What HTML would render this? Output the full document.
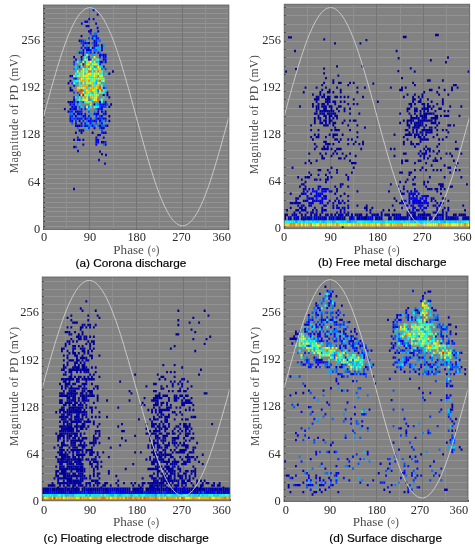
<!DOCTYPE html><html><head><meta charset="utf-8"><style>html,body{margin:0;padding:0;background:#fff;width:475px;height:550px;overflow:hidden}svg{display:block}.tk{font-family:"Liberation Serif",serif;font-size:13.4px;fill:#2a2a2a}.lb{font-family:"Liberation Serif",serif;font-size:12.4px;fill:#4a4a4a}.cp{font-family:"Liberation Sans",sans-serif;font-size:11.8px;fill:#000;stroke:#000;stroke-width:0.18px}</style></head><body>
<svg width="475" height="550" viewBox="0 0 475 550">
<g>
<rect x="43.5" y="5.0" width="185.40" height="224.50" fill="#828282"/>
<path d="M43.5 226.5h185.4M43.5 221.5h185.4M43.5 216.5h185.4M43.5 211.5h185.4M43.5 207.5h185.4M43.5 202.5h185.4M43.5 197.5h185.4M43.5 193.5h185.4M43.5 188.5h185.4M43.5 183.5h185.4M43.5 178.5h185.4M43.5 174.5h185.4M43.5 169.5h185.4M43.5 164.5h185.4M43.5 159.5h185.4M43.5 155.5h185.4M43.5 150.5h185.4M43.5 145.5h185.4M43.5 141.5h185.4M43.5 136.5h185.4M43.5 131.5h185.4M43.5 126.5h185.4M43.5 122.5h185.4M43.5 117.5h185.4M43.5 112.5h185.4M43.5 108.5h185.4M43.5 103.5h185.4M43.5 98.5h185.4M43.5 93.5h185.4M43.5 89.5h185.4M43.5 84.5h185.4M43.5 79.5h185.4M43.5 75.5h185.4M43.5 70.5h185.4M43.5 65.5h185.4M43.5 60.5h185.4M43.5 56.5h185.4M43.5 51.5h185.4M43.5 46.5h185.4M43.5 41.5h185.4M43.5 37.5h185.4M43.5 32.5h185.4M43.5 27.5h185.4M43.5 23.5h185.4M43.5 18.5h185.4M43.5 13.5h185.4M43.5 8.5h185.4" stroke="#939393" stroke-width="1" fill="none"/>
<path d="M43.5 226.5h1.6M43.5 221.5h1.6M43.5 216.5h1.6M43.5 211.5h1.6M43.5 207.5h1.6M43.5 202.5h1.6M43.5 197.5h1.6M43.5 193.5h1.6M43.5 188.5h1.6M43.5 183.5h1.6M43.5 178.5h1.6M43.5 174.5h1.6M43.5 169.5h1.6M43.5 164.5h1.6M43.5 159.5h1.6M43.5 155.5h1.6M43.5 150.5h1.6M43.5 145.5h1.6M43.5 141.5h1.6M43.5 136.5h1.6M43.5 131.5h1.6M43.5 126.5h1.6M43.5 122.5h1.6M43.5 117.5h1.6M43.5 112.5h1.6M43.5 108.5h1.6M43.5 103.5h1.6M43.5 98.5h1.6M43.5 93.5h1.6M43.5 89.5h1.6M43.5 84.5h1.6M43.5 79.5h1.6M43.5 75.5h1.6M43.5 70.5h1.6M43.5 65.5h1.6M43.5 60.5h1.6M43.5 56.5h1.6M43.5 51.5h1.6M43.5 46.5h1.6M43.5 41.5h1.6M43.5 37.5h1.6M43.5 32.5h1.6M43.5 27.5h1.6M43.5 23.5h1.6M43.5 18.5h1.6M43.5 13.5h1.6M43.5 8.5h1.6M43.5 229.5v-1.6M66.5 229.5v-1.6M89.5 229.5v-1.6M113.5 229.5v-1.6M136.5 229.5v-1.6M159.5 229.5v-1.6M182.5 229.5v-1.6M205.5 229.5v-1.6M228.5 229.5v-1.6" stroke="#3a3a3a" stroke-width="1" fill="none"/>
<line x1="66.50" y1="5.0" x2="66.50" y2="229.5" stroke="#909090" stroke-width="1"/>
<line x1="113.50" y1="5.0" x2="113.50" y2="229.5" stroke="#909090" stroke-width="1"/>
<line x1="159.50" y1="5.0" x2="159.50" y2="229.5" stroke="#909090" stroke-width="1"/>
<line x1="205.50" y1="5.0" x2="205.50" y2="229.5" stroke="#909090" stroke-width="1"/>
<line x1="89.50" y1="5.0" x2="89.50" y2="229.5" stroke="#747474" stroke-width="1"/>
<line x1="136.50" y1="5.0" x2="136.50" y2="229.5" stroke="#747474" stroke-width="1"/>
<line x1="182.50" y1="5.0" x2="182.50" y2="229.5" stroke="#747474" stroke-width="1"/>
<path fill="#000095" d="M101.0 152.9h1.85v2.36h-1.85zM73.2 145.8h1.85v2.36h-1.85zM101.0 141.1h1.85v2.36h-1.85zM73.2 138.7h1.85v2.36h-1.85zM78.7 138.7h1.85v2.36h-1.85zM97.3 134.0h1.85v2.36h-1.85zM80.6 131.6h1.85v2.36h-1.85zM91.7 131.6h1.85v2.36h-1.85zM78.7 129.3h1.85v2.36h-1.85zM93.6 126.9h1.85v2.36h-1.85zM102.8 126.9h1.85v2.36h-1.85zM78.7 124.6h1.85v2.36h-1.85zM84.3 124.6h1.85v2.36h-1.85zM99.1 124.6h1.85v2.36h-1.85zM106.5 124.6h1.85v2.36h-1.85zM78.7 119.8h1.85v2.36h-1.85zM108.4 119.8h1.85v2.36h-1.85zM69.5 117.5h1.85v2.36h-1.85zM84.3 117.5h1.85v2.36h-1.85zM97.3 117.5h1.85v2.36h-1.85zM102.8 117.5h1.85v2.36h-1.85zM75.0 115.1h1.85v2.36h-1.85zM108.4 115.1h1.85v2.36h-1.85zM80.6 112.8h1.85v2.36h-1.85zM104.7 112.8h1.85v2.36h-1.85zM67.6 110.4h1.85v2.36h-1.85zM63.9 108.0h1.85v2.36h-1.85zM97.3 108.0h1.85v2.36h-1.85zM108.4 105.7h1.85v2.36h-1.85zM93.6 103.3h1.85v2.36h-1.85zM110.2 103.3h1.85v2.36h-1.85zM67.6 101.0h1.85v2.36h-1.85zM71.3 101.0h1.85v2.36h-1.85zM108.4 96.2h1.85v2.36h-1.85zM78.7 93.9h1.85v2.36h-1.85zM102.8 93.9h1.85v2.36h-1.85zM106.5 93.9h1.85v2.36h-1.85zM106.5 91.5h1.85v2.36h-1.85zM69.5 89.2h1.85v2.36h-1.85zM71.3 89.2h1.85v2.36h-1.85zM69.5 86.8h1.85v2.36h-1.85zM67.6 82.1h1.85v2.36h-1.85zM69.5 79.7h1.85v2.36h-1.85zM69.5 75.0h1.85v2.36h-1.85zM108.4 72.6h1.85v2.36h-1.85zM112.1 70.3h1.85v2.36h-1.85zM73.2 56.1h1.85v2.36h-1.85zM80.6 56.1h1.85v2.36h-1.85zM102.8 53.8h1.85v2.36h-1.85zM78.7 51.4h1.85v2.36h-1.85zM91.7 46.7h1.85v2.36h-1.85zM101.0 44.3h1.85v2.36h-1.85zM78.7 39.6h1.85v2.36h-1.85zM93.6 39.6h1.85v2.36h-1.85zM91.7 37.2h1.85v2.36h-1.85zM80.6 34.9h1.85v2.36h-1.85zM97.3 30.2h1.85v2.36h-1.85z"/>
<path fill="#0000aa" d="M99.1 150.5h1.85v2.36h-1.85zM104.7 143.4h1.85v2.36h-1.85zM101.0 110.4h1.85v2.36h-1.85zM73.2 108.0h1.85v2.36h-1.85zM75.0 105.7h1.85v2.36h-1.85zM73.2 98.6h1.85v2.36h-1.85zM101.0 60.8h1.85v2.36h-1.85zM86.1 49.0h1.85v2.36h-1.85zM101.0 46.7h1.85v2.36h-1.85zM95.4 44.3h1.85v2.36h-1.85zM88.0 42.0h1.85v2.36h-1.85zM88.0 30.2h1.85v2.36h-1.85zM73.1 187.8h1.85v2.36h-1.85z"/>
<path fill="#002aff" d="M75.0 145.8h1.85v2.36h-1.85zM104.7 141.1h1.85v2.36h-1.85zM101.0 131.6h1.85v2.36h-1.85zM88.0 126.9h1.85v2.36h-1.85zM75.0 119.8h1.85v2.36h-1.85zM82.4 119.8h1.85v2.36h-1.85zM91.7 119.8h1.85v2.36h-1.85zM95.4 119.8h1.85v2.36h-1.85zM86.1 117.5h1.85v2.36h-1.85zM95.4 117.5h1.85v2.36h-1.85zM69.5 115.1h1.85v2.36h-1.85zM69.5 110.4h1.85v2.36h-1.85zM71.3 110.4h1.85v2.36h-1.85zM71.3 108.0h1.85v2.36h-1.85zM84.3 108.0h1.85v2.36h-1.85zM99.1 108.0h1.85v2.36h-1.85zM73.2 105.7h1.85v2.36h-1.85zM99.1 105.7h1.85v2.36h-1.85zM101.0 103.3h1.85v2.36h-1.85zM73.2 77.4h1.85v2.36h-1.85zM73.2 60.8h1.85v2.36h-1.85zM89.8 58.5h1.85v2.36h-1.85zM88.0 56.1h1.85v2.36h-1.85zM99.1 56.1h1.85v2.36h-1.85zM101.0 53.8h1.85v2.36h-1.85zM80.6 51.4h1.85v2.36h-1.85zM86.1 46.7h1.85v2.36h-1.85zM93.6 46.7h1.85v2.36h-1.85zM82.4 42.0h1.85v2.36h-1.85zM86.1 42.0h1.85v2.36h-1.85zM95.4 39.6h1.85v2.36h-1.85zM89.8 32.5h1.85v2.36h-1.85z"/>
<path fill="#0000bf" d="M82.4 143.4h1.85v2.36h-1.85zM95.4 136.4h1.85v2.36h-1.85zM75.0 131.6h1.85v2.36h-1.85zM104.7 131.6h1.85v2.36h-1.85zM101.0 126.9h1.85v2.36h-1.85zM89.8 117.5h1.85v2.36h-1.85zM76.9 110.4h1.85v2.36h-1.85zM104.7 110.4h1.85v2.36h-1.85zM69.5 108.0h1.85v2.36h-1.85zM69.5 101.0h1.85v2.36h-1.85zM104.7 60.8h1.85v2.36h-1.85zM80.6 58.5h1.85v2.36h-1.85zM102.8 58.5h1.85v2.36h-1.85zM82.4 53.8h1.85v2.36h-1.85zM101.0 49.0h1.85v2.36h-1.85zM104.1 162.5h1.85v2.36h-1.85zM77.1 149.8h1.85v2.36h-1.85zM105.1 153.8h1.85v2.36h-1.85zM98.1 158.8h1.85v2.36h-1.85z"/>
<path fill="#0000ff" d="M95.4 143.4h1.85v2.36h-1.85zM76.9 138.7h1.85v2.36h-1.85zM95.4 138.7h1.85v2.36h-1.85zM97.3 138.7h1.85v2.36h-1.85zM89.8 122.2h1.85v2.36h-1.85zM71.3 119.8h1.85v2.36h-1.85zM88.0 119.8h1.85v2.36h-1.85zM76.9 117.5h1.85v2.36h-1.85zM104.7 117.5h1.85v2.36h-1.85zM84.3 115.1h1.85v2.36h-1.85zM76.9 112.8h1.85v2.36h-1.85zM78.7 112.8h1.85v2.36h-1.85zM95.4 112.8h1.85v2.36h-1.85zM97.3 112.8h1.85v2.36h-1.85zM75.0 108.0h1.85v2.36h-1.85zM101.0 105.7h1.85v2.36h-1.85zM73.2 103.3h1.85v2.36h-1.85zM104.7 103.3h1.85v2.36h-1.85zM104.7 101.0h1.85v2.36h-1.85zM73.2 84.4h1.85v2.36h-1.85zM71.3 75.0h1.85v2.36h-1.85zM78.7 65.6h1.85v2.36h-1.85zM99.1 60.8h1.85v2.36h-1.85zM75.0 58.5h1.85v2.36h-1.85zM88.0 58.5h1.85v2.36h-1.85zM104.7 58.5h1.85v2.36h-1.85zM102.8 56.1h1.85v2.36h-1.85zM89.8 49.0h1.85v2.36h-1.85zM89.8 30.2h1.85v2.36h-1.85z"/>
<path fill="#0080ff" d="M102.8 143.4h1.85v2.36h-1.85zM82.4 124.6h1.85v2.36h-1.85zM89.8 124.6h1.85v2.36h-1.85zM91.7 122.2h1.85v2.36h-1.85zM82.4 117.5h1.85v2.36h-1.85zM76.9 115.1h1.85v2.36h-1.85zM71.3 112.8h1.85v2.36h-1.85zM93.6 110.4h1.85v2.36h-1.85zM95.4 108.0h1.85v2.36h-1.85zM88.0 105.7h1.85v2.36h-1.85zM76.9 103.3h1.85v2.36h-1.85zM75.0 101.0h1.85v2.36h-1.85zM104.7 86.8h1.85v2.36h-1.85zM73.2 67.9h1.85v2.36h-1.85zM101.0 67.9h1.85v2.36h-1.85zM80.6 60.8h1.85v2.36h-1.85zM84.3 60.8h1.85v2.36h-1.85zM88.0 51.4h1.85v2.36h-1.85zM86.1 44.3h1.85v2.36h-1.85zM97.3 39.6h1.85v2.36h-1.85z"/>
<path fill="#0000ea" d="M95.4 141.1h1.85v2.36h-1.85zM99.1 134.0h1.85v2.36h-1.85zM102.8 131.6h1.85v2.36h-1.85zM82.4 129.3h1.85v2.36h-1.85zM91.7 124.6h1.85v2.36h-1.85zM75.0 122.2h1.85v2.36h-1.85zM99.1 119.8h1.85v2.36h-1.85zM82.4 115.1h1.85v2.36h-1.85zM101.0 115.1h1.85v2.36h-1.85zM93.6 112.8h1.85v2.36h-1.85zM97.3 110.4h1.85v2.36h-1.85zM101.0 108.0h1.85v2.36h-1.85zM69.5 103.3h1.85v2.36h-1.85zM76.9 101.0h1.85v2.36h-1.85zM99.1 101.0h1.85v2.36h-1.85zM75.0 77.4h1.85v2.36h-1.85zM104.7 53.8h1.85v2.36h-1.85zM82.4 51.4h1.85v2.36h-1.85zM82.4 49.0h1.85v2.36h-1.85zM93.6 44.3h1.85v2.36h-1.85zM84.3 42.0h1.85v2.36h-1.85zM95.4 34.9h1.85v2.36h-1.85zM92.7 8.8h1.85v2.36h-1.85zM96.7 13.5h1.85v2.36h-1.85zM86.3 20.6h1.85v2.36h-1.85zM96.7 26.8h1.85v2.36h-1.85z"/>
<path fill="#0000d4" d="M97.3 141.1h1.85v2.36h-1.85zM102.8 141.1h1.85v2.36h-1.85zM82.4 138.7h1.85v2.36h-1.85zM102.8 136.4h1.85v2.36h-1.85zM80.6 129.3h1.85v2.36h-1.85zM75.0 124.6h1.85v2.36h-1.85zM76.9 124.6h1.85v2.36h-1.85zM80.6 122.2h1.85v2.36h-1.85zM101.0 122.2h1.85v2.36h-1.85zM93.6 119.8h1.85v2.36h-1.85zM73.2 112.8h1.85v2.36h-1.85zM75.0 110.4h1.85v2.36h-1.85zM71.3 105.7h1.85v2.36h-1.85zM102.8 103.3h1.85v2.36h-1.85zM102.8 65.6h1.85v2.36h-1.85zM99.1 63.2h1.85v2.36h-1.85zM99.1 53.8h1.85v2.36h-1.85zM93.6 51.4h1.85v2.36h-1.85zM88.0 49.0h1.85v2.36h-1.85zM88.0 46.7h1.85v2.36h-1.85zM95.4 42.0h1.85v2.36h-1.85zM95.4 37.2h1.85v2.36h-1.85zM88.3 18.0h1.85v2.36h-1.85zM92.7 18.0h1.85v2.36h-1.85zM84.4 20.6h1.85v2.36h-1.85zM80.9 22.4h1.85v2.36h-1.85zM95.2 22.4h1.85v2.36h-1.85zM85.6 25.0h1.85v2.36h-1.85zM87.5 25.0h1.85v2.36h-1.85zM90.1 29.0h1.85v2.36h-1.85z"/>
<path fill="#0015ff" d="M76.9 136.4h1.85v2.36h-1.85zM80.6 124.6h1.85v2.36h-1.85zM86.1 124.6h1.85v2.36h-1.85zM104.7 124.6h1.85v2.36h-1.85zM84.3 122.2h1.85v2.36h-1.85zM69.5 119.8h1.85v2.36h-1.85zM89.8 119.8h1.85v2.36h-1.85zM78.7 117.5h1.85v2.36h-1.85zM80.6 117.5h1.85v2.36h-1.85zM99.1 117.5h1.85v2.36h-1.85zM71.3 115.1h1.85v2.36h-1.85zM88.0 115.1h1.85v2.36h-1.85zM95.4 115.1h1.85v2.36h-1.85zM84.3 112.8h1.85v2.36h-1.85zM102.8 112.8h1.85v2.36h-1.85zM78.7 110.4h1.85v2.36h-1.85zM80.6 110.4h1.85v2.36h-1.85zM80.6 108.0h1.85v2.36h-1.85zM99.1 103.3h1.85v2.36h-1.85zM73.2 101.0h1.85v2.36h-1.85zM73.2 96.2h1.85v2.36h-1.85zM102.8 86.8h1.85v2.36h-1.85zM104.7 56.1h1.85v2.36h-1.85zM89.8 51.4h1.85v2.36h-1.85zM97.3 51.4h1.85v2.36h-1.85zM80.6 46.7h1.85v2.36h-1.85zM84.3 46.7h1.85v2.36h-1.85zM82.4 44.3h1.85v2.36h-1.85zM93.6 42.0h1.85v2.36h-1.85zM80.6 39.6h1.85v2.36h-1.85zM97.3 37.2h1.85v2.36h-1.85z"/>
<path fill="#0040ff" d="M101.0 129.3h1.85v2.36h-1.85zM99.1 126.9h1.85v2.36h-1.85zM95.4 122.2h1.85v2.36h-1.85zM104.7 119.8h1.85v2.36h-1.85zM73.2 117.5h1.85v2.36h-1.85zM75.0 117.5h1.85v2.36h-1.85zM101.0 117.5h1.85v2.36h-1.85zM99.1 115.1h1.85v2.36h-1.85zM102.8 105.7h1.85v2.36h-1.85zM104.7 105.7h1.85v2.36h-1.85zM71.3 103.3h1.85v2.36h-1.85zM82.4 101.0h1.85v2.36h-1.85zM73.2 91.5h1.85v2.36h-1.85zM76.9 91.5h1.85v2.36h-1.85zM71.3 82.1h1.85v2.36h-1.85zM104.7 67.9h1.85v2.36h-1.85zM73.2 63.2h1.85v2.36h-1.85zM86.1 51.4h1.85v2.36h-1.85zM97.3 44.3h1.85v2.36h-1.85zM80.6 42.0h1.85v2.36h-1.85zM82.4 39.6h1.85v2.36h-1.85zM88.0 37.2h1.85v2.36h-1.85zM91.7 34.9h1.85v2.36h-1.85zM93.6 34.9h1.85v2.36h-1.85z"/>
<path fill="#006aff" d="M76.9 126.9h1.85v2.36h-1.85zM88.0 124.6h1.85v2.36h-1.85zM93.6 124.6h1.85v2.36h-1.85zM97.3 124.6h1.85v2.36h-1.85zM102.8 124.6h1.85v2.36h-1.85zM99.1 122.2h1.85v2.36h-1.85zM86.1 119.8h1.85v2.36h-1.85zM101.0 119.8h1.85v2.36h-1.85zM88.0 117.5h1.85v2.36h-1.85zM80.6 115.1h1.85v2.36h-1.85zM69.5 112.8h1.85v2.36h-1.85zM102.8 110.4h1.85v2.36h-1.85zM78.7 108.0h1.85v2.36h-1.85zM84.3 105.7h1.85v2.36h-1.85zM102.8 101.0h1.85v2.36h-1.85zM97.3 89.2h1.85v2.36h-1.85zM102.8 60.8h1.85v2.36h-1.85zM99.1 51.4h1.85v2.36h-1.85zM93.6 49.0h1.85v2.36h-1.85zM84.3 39.6h1.85v2.36h-1.85zM99.1 39.6h1.85v2.36h-1.85zM93.6 32.5h1.85v2.36h-1.85zM95.4 32.5h1.85v2.36h-1.85z"/>
<path fill="#00bfff" d="M86.1 126.9h1.85v2.36h-1.85zM95.4 103.3h1.85v2.36h-1.85zM95.4 101.0h1.85v2.36h-1.85zM99.1 98.6h1.85v2.36h-1.85zM75.0 82.1h1.85v2.36h-1.85zM102.8 82.1h1.85v2.36h-1.85zM95.4 79.7h1.85v2.36h-1.85zM75.0 70.3h1.85v2.36h-1.85zM75.0 67.9h1.85v2.36h-1.85zM101.0 65.6h1.85v2.36h-1.85zM95.4 46.7h1.85v2.36h-1.85zM93.6 37.2h1.85v2.36h-1.85z"/>
<path fill="#0055ff" d="M101.0 124.6h1.85v2.36h-1.85zM71.3 122.2h1.85v2.36h-1.85zM71.3 117.5h1.85v2.36h-1.85zM88.0 110.4h1.85v2.36h-1.85zM78.7 105.7h1.85v2.36h-1.85zM106.5 103.3h1.85v2.36h-1.85zM95.4 49.0h1.85v2.36h-1.85zM91.7 42.0h1.85v2.36h-1.85z"/>
<path fill="#0095ff" d="M86.1 122.2h1.85v2.36h-1.85zM102.8 119.8h1.85v2.36h-1.85zM89.8 112.8h1.85v2.36h-1.85zM97.3 103.3h1.85v2.36h-1.85zM80.6 101.0h1.85v2.36h-1.85zM76.9 77.4h1.85v2.36h-1.85zM76.9 65.6h1.85v2.36h-1.85zM93.6 65.6h1.85v2.36h-1.85zM91.7 53.8h1.85v2.36h-1.85zM76.9 51.4h1.85v2.36h-1.85zM80.6 49.0h1.85v2.36h-1.85zM102.8 44.3h1.85v2.36h-1.85z"/>
<path fill="#00aaff" d="M93.6 115.1h1.85v2.36h-1.85zM89.8 98.6h1.85v2.36h-1.85zM76.9 93.9h1.85v2.36h-1.85zM104.7 84.4h1.85v2.36h-1.85zM95.4 82.1h1.85v2.36h-1.85zM78.7 58.5h1.85v2.36h-1.85zM84.3 53.8h1.85v2.36h-1.85zM93.6 53.8h1.85v2.36h-1.85zM97.3 46.7h1.85v2.36h-1.85zM99.1 46.7h1.85v2.36h-1.85zM90.8 6.4h1.85v2.36h-1.85z"/>
<path fill="#00d4ff" d="M88.0 108.0h1.85v2.36h-1.85zM80.6 105.7h1.85v2.36h-1.85zM78.7 103.3h1.85v2.36h-1.85zM76.9 98.6h1.85v2.36h-1.85zM80.6 98.6h1.85v2.36h-1.85zM84.3 91.5h1.85v2.36h-1.85zM73.2 79.7h1.85v2.36h-1.85zM76.9 72.6h1.85v2.36h-1.85zM84.3 72.6h1.85v2.36h-1.85zM104.7 72.6h1.85v2.36h-1.85zM91.7 67.9h1.85v2.36h-1.85zM75.0 65.6h1.85v2.36h-1.85zM78.7 63.2h1.85v2.36h-1.85zM89.8 63.2h1.85v2.36h-1.85zM91.7 60.8h1.85v2.36h-1.85zM97.3 60.8h1.85v2.36h-1.85zM89.8 46.7h1.85v2.36h-1.85z"/>
<path fill="#d5ff2a" d="M86.1 105.7h1.85v2.36h-1.85zM80.6 93.9h1.85v2.36h-1.85zM93.6 91.5h1.85v2.36h-1.85zM82.4 82.1h1.85v2.36h-1.85zM97.3 72.6h1.85v2.36h-1.85zM82.4 70.3h1.85v2.36h-1.85zM86.1 63.2h1.85v2.36h-1.85zM88.0 63.2h1.85v2.36h-1.85zM91.7 63.2h1.85v2.36h-1.85z"/>
<path fill="#00ffff" d="M89.8 105.7h1.85v2.36h-1.85zM95.4 105.7h1.85v2.36h-1.85zM91.7 98.6h1.85v2.36h-1.85zM101.0 91.5h1.85v2.36h-1.85zM102.8 91.5h1.85v2.36h-1.85zM101.0 86.8h1.85v2.36h-1.85zM93.6 84.4h1.85v2.36h-1.85zM93.6 82.1h1.85v2.36h-1.85zM75.0 79.7h1.85v2.36h-1.85zM76.9 79.7h1.85v2.36h-1.85zM84.3 67.9h1.85v2.36h-1.85zM86.1 67.9h1.85v2.36h-1.85zM95.4 67.9h1.85v2.36h-1.85z"/>
<path fill="#55ffaa" d="M93.6 105.7h1.85v2.36h-1.85zM88.0 101.0h1.85v2.36h-1.85zM101.0 84.4h1.85v2.36h-1.85zM73.2 82.1h1.85v2.36h-1.85zM99.1 82.1h1.85v2.36h-1.85zM89.8 77.4h1.85v2.36h-1.85zM101.0 77.4h1.85v2.36h-1.85zM91.7 75.0h1.85v2.36h-1.85zM91.7 65.6h1.85v2.36h-1.85zM86.1 60.8h1.85v2.36h-1.85zM86.1 58.5h1.85v2.36h-1.85z"/>
<path fill="#00eaff" d="M97.3 105.7h1.85v2.36h-1.85zM75.0 96.2h1.85v2.36h-1.85zM102.8 96.2h1.85v2.36h-1.85zM104.7 89.2h1.85v2.36h-1.85zM88.0 86.8h1.85v2.36h-1.85zM84.3 82.1h1.85v2.36h-1.85zM75.0 75.0h1.85v2.36h-1.85zM99.1 65.6h1.85v2.36h-1.85z"/>
<path fill="#95ff6a" d="M89.8 103.3h1.85v2.36h-1.85zM93.6 96.2h1.85v2.36h-1.85zM86.1 93.9h1.85v2.36h-1.85zM99.1 91.5h1.85v2.36h-1.85zM78.7 86.8h1.85v2.36h-1.85zM82.4 77.4h1.85v2.36h-1.85zM93.6 77.4h1.85v2.36h-1.85zM99.1 67.9h1.85v2.36h-1.85zM82.4 60.8h1.85v2.36h-1.85zM84.3 58.5h1.85v2.36h-1.85z"/>
<path fill="#15ffea" d="M84.3 101.0h1.85v2.36h-1.85zM78.7 96.2h1.85v2.36h-1.85zM88.0 93.9h1.85v2.36h-1.85zM89.8 91.5h1.85v2.36h-1.85zM78.7 84.4h1.85v2.36h-1.85zM78.7 82.1h1.85v2.36h-1.85zM80.6 75.0h1.85v2.36h-1.85zM75.0 72.6h1.85v2.36h-1.85zM99.1 72.6h1.85v2.36h-1.85zM101.0 72.6h1.85v2.36h-1.85zM80.6 65.6h1.85v2.36h-1.85zM97.3 63.2h1.85v2.36h-1.85zM97.3 58.5h1.85v2.36h-1.85z"/>
<path fill="#6aff95" d="M86.1 101.0h1.85v2.36h-1.85zM101.0 98.6h1.85v2.36h-1.85zM93.6 93.9h1.85v2.36h-1.85zM97.3 93.9h1.85v2.36h-1.85zM102.8 77.4h1.85v2.36h-1.85zM88.0 75.0h1.85v2.36h-1.85zM80.6 70.3h1.85v2.36h-1.85zM91.7 58.5h1.85v2.36h-1.85zM86.1 53.8h1.85v2.36h-1.85z"/>
<path fill="#ffbf00" d="M89.8 101.0h1.85v2.36h-1.85zM89.8 96.2h1.85v2.36h-1.85zM88.0 89.2h1.85v2.36h-1.85zM93.6 86.8h1.85v2.36h-1.85zM86.1 84.4h1.85v2.36h-1.85zM95.4 84.4h1.85v2.36h-1.85zM97.3 84.4h1.85v2.36h-1.85zM91.7 82.1h1.85v2.36h-1.85zM80.6 79.7h1.85v2.36h-1.85zM95.4 75.0h1.85v2.36h-1.85zM99.1 70.3h1.85v2.36h-1.85zM97.3 67.9h1.85v2.36h-1.85zM88.0 60.8h1.85v2.36h-1.85z"/>
<path fill="#2bffd4" d="M101.0 101.0h1.85v2.36h-1.85zM91.7 93.9h1.85v2.36h-1.85zM84.3 89.2h1.85v2.36h-1.85zM95.4 89.2h1.85v2.36h-1.85zM80.6 84.4h1.85v2.36h-1.85zM80.6 72.6h1.85v2.36h-1.85zM84.3 70.3h1.85v2.36h-1.85zM91.7 70.3h1.85v2.36h-1.85zM101.0 70.3h1.85v2.36h-1.85zM76.9 60.8h1.85v2.36h-1.85zM95.4 58.5h1.85v2.36h-1.85z"/>
<path fill="#40ffbf" d="M78.7 98.6h1.85v2.36h-1.85zM82.4 96.2h1.85v2.36h-1.85zM102.8 89.2h1.85v2.36h-1.85zM84.3 86.8h1.85v2.36h-1.85zM89.8 79.7h1.85v2.36h-1.85zM101.0 79.7h1.85v2.36h-1.85zM84.3 77.4h1.85v2.36h-1.85zM95.4 77.4h1.85v2.36h-1.85zM89.8 75.0h1.85v2.36h-1.85zM91.7 72.6h1.85v2.36h-1.85zM84.3 56.1h1.85v2.36h-1.85z"/>
<path fill="#eaff15" d="M82.4 98.6h1.85v2.36h-1.85zM86.1 89.2h1.85v2.36h-1.85zM82.4 86.8h1.85v2.36h-1.85zM86.1 77.4h1.85v2.36h-1.85zM88.0 77.4h1.85v2.36h-1.85zM82.4 75.0h1.85v2.36h-1.85zM93.6 75.0h1.85v2.36h-1.85zM88.0 72.6h1.85v2.36h-1.85zM93.6 72.6h1.85v2.36h-1.85zM82.4 67.9h1.85v2.36h-1.85zM93.6 56.1h1.85v2.36h-1.85z"/>
<path fill="#bfff40" d="M84.3 98.6h1.85v2.36h-1.85zM86.1 98.6h1.85v2.36h-1.85zM86.1 96.2h1.85v2.36h-1.85zM95.4 93.9h1.85v2.36h-1.85zM91.7 89.2h1.85v2.36h-1.85zM93.6 89.2h1.85v2.36h-1.85zM89.8 82.1h1.85v2.36h-1.85zM97.3 82.1h1.85v2.36h-1.85zM102.8 79.7h1.85v2.36h-1.85zM84.3 75.0h1.85v2.36h-1.85zM76.9 70.3h1.85v2.36h-1.85zM93.6 63.2h1.85v2.36h-1.85zM95.4 63.2h1.85v2.36h-1.85z"/>
<path fill="#ffff00" d="M93.6 98.6h1.85v2.36h-1.85zM95.4 96.2h1.85v2.36h-1.85zM80.6 77.4h1.85v2.36h-1.85zM101.0 75.0h1.85v2.36h-1.85zM89.8 67.9h1.85v2.36h-1.85zM97.3 65.6h1.85v2.36h-1.85zM89.8 60.8h1.85v2.36h-1.85z"/>
<path fill="#ffea00" d="M95.4 98.6h1.85v2.36h-1.85zM82.4 91.5h1.85v2.36h-1.85zM99.1 89.2h1.85v2.36h-1.85zM86.1 75.0h1.85v2.36h-1.85zM82.4 72.6h1.85v2.36h-1.85zM89.8 72.6h1.85v2.36h-1.85z"/>
<path fill="#ff5500" d="M97.3 98.6h1.85v2.36h-1.85zM78.7 91.5h1.85v2.36h-1.85zM101.0 89.2h1.85v2.36h-1.85z"/>
<path fill="#ff9500" d="M84.3 96.2h1.85v2.36h-1.85zM76.9 89.2h1.85v2.36h-1.85zM89.8 89.2h1.85v2.36h-1.85zM86.1 86.8h1.85v2.36h-1.85zM97.3 86.8h1.85v2.36h-1.85zM88.0 79.7h1.85v2.36h-1.85zM97.3 79.7h1.85v2.36h-1.85zM78.7 77.4h1.85v2.36h-1.85z"/>
<path fill="#ffd500" d="M91.7 96.2h1.85v2.36h-1.85zM86.1 91.5h1.85v2.36h-1.85zM76.9 86.8h1.85v2.36h-1.85zM80.6 86.8h1.85v2.36h-1.85zM89.8 86.8h1.85v2.36h-1.85zM78.7 79.7h1.85v2.36h-1.85zM99.1 77.4h1.85v2.36h-1.85zM78.7 75.0h1.85v2.36h-1.85zM86.1 72.6h1.85v2.36h-1.85zM95.4 70.3h1.85v2.36h-1.85zM89.8 65.6h1.85v2.36h-1.85z"/>
<path fill="#ea0000" d="M82.4 93.9h1.85v2.36h-1.85z"/>
<path fill="#aaff55" d="M84.3 93.9h1.85v2.36h-1.85zM89.8 93.9h1.85v2.36h-1.85zM88.0 91.5h1.85v2.36h-1.85zM95.4 86.8h1.85v2.36h-1.85zM91.7 84.4h1.85v2.36h-1.85zM86.1 82.1h1.85v2.36h-1.85zM93.6 79.7h1.85v2.36h-1.85zM76.9 75.0h1.85v2.36h-1.85zM99.1 75.0h1.85v2.36h-1.85zM93.6 67.9h1.85v2.36h-1.85zM93.6 60.8h1.85v2.36h-1.85z"/>
<path fill="#80ff80" d="M95.4 91.5h1.85v2.36h-1.85zM88.0 82.1h1.85v2.36h-1.85zM86.1 79.7h1.85v2.36h-1.85zM91.7 79.7h1.85v2.36h-1.85zM91.7 77.4h1.85v2.36h-1.85zM97.3 77.4h1.85v2.36h-1.85zM73.2 75.0h1.85v2.36h-1.85zM78.7 72.6h1.85v2.36h-1.85zM95.4 72.6h1.85v2.36h-1.85zM86.1 70.3h1.85v2.36h-1.85zM88.0 67.9h1.85v2.36h-1.85zM80.6 63.2h1.85v2.36h-1.85z"/>
<path fill="#ff2a00" d="M80.6 89.2h1.85v2.36h-1.85z"/>
<path fill="#ffaa00" d="M91.7 86.8h1.85v2.36h-1.85zM82.4 84.4h1.85v2.36h-1.85zM84.3 84.4h1.85v2.36h-1.85zM82.4 79.7h1.85v2.36h-1.85zM84.3 79.7h1.85v2.36h-1.85zM86.1 65.6h1.85v2.36h-1.85z"/>
<path fill="#ff4000" d="M99.1 86.8h1.85v2.36h-1.85z"/>
<path fill="#ff6a00" d="M88.0 70.3h1.85v2.36h-1.85zM95.4 65.6h1.85v2.36h-1.85z"/>
<path fill="#800000" d="M82.4 63.2h1.85v2.36h-1.85z"/>
<polyline points="43.5,116.8 45.0,111.0 46.6,105.4 48.1,99.7 49.7,94.1 51.2,88.5 52.8,83.1 54.3,77.7 55.9,72.4 57.4,67.2 59.0,62.2 60.5,57.4 62.0,52.7 63.6,48.1 65.1,43.8 66.7,39.6 68.2,35.7 69.8,32.0 71.3,28.5 72.9,25.3 74.4,22.3 75.9,19.6 77.5,17.1 79.0,14.9 80.6,13.0 82.1,11.4 83.7,10.1 85.2,9.0 86.8,8.3 88.3,7.8 89.8,7.7 91.4,7.8 92.9,8.3 94.5,9.0 96.0,10.1 97.6,11.4 99.1,13.0 100.7,14.9 102.2,17.1 103.8,19.6 105.3,22.3 106.8,25.3 108.4,28.5 109.9,32.0 111.5,35.7 113.0,39.6 114.6,43.8 116.1,48.1 117.7,52.7 119.2,57.4 120.8,62.2 122.3,67.2 123.8,72.4 125.4,77.7 126.9,83.1 128.5,88.5 130.0,94.1 131.6,99.7 133.1,105.4 134.7,111.0 136.2,116.7 137.7,122.5 139.3,128.1 140.8,133.8 142.4,139.4 143.9,145.0 145.5,150.4 147.0,155.8 148.6,161.1 150.1,166.3 151.7,171.3 153.2,176.1 154.7,180.8 156.3,185.4 157.8,189.7 159.4,193.9 160.9,197.8 162.5,201.5 164.0,205.0 165.6,208.2 167.1,211.2 168.6,213.9 170.2,216.4 171.7,218.6 173.3,220.5 174.8,222.1 176.4,223.4 177.9,224.5 179.5,225.2 181.0,225.7 182.6,225.8 184.1,225.7 185.6,225.2 187.2,224.5 188.7,223.4 190.3,222.1 191.8,220.5 193.4,218.6 194.9,216.4 196.5,213.9 198.0,211.2 199.5,208.2 201.1,205.0 202.6,201.5 204.2,197.8 205.7,193.9 207.3,189.7 208.8,185.4 210.4,180.8 211.9,176.1 213.4,171.3 215.0,166.3 216.5,161.1 218.1,155.8 219.6,150.4 221.2,145.0 222.7,139.4 224.3,133.8 225.8,128.1 227.4,122.5 228.9,116.8" fill="none" stroke="#cbcbcb" stroke-width="0.95"/>
<rect x="43.5" y="5.0" width="185.40" height="224.50" fill="none" stroke="#5a5a5a" stroke-width="0.8"/>
</g>
<text class="tk" x="34.0" y="232.8" textLength="6.2" lengthAdjust="spacingAndGlyphs">0</text>
<text class="tk" x="27.8" y="185.6" textLength="12.4" lengthAdjust="spacingAndGlyphs">64</text>
<text class="tk" x="21.6" y="138.4" textLength="18.6" lengthAdjust="spacingAndGlyphs">128</text>
<text class="tk" x="21.6" y="91.2" textLength="18.6" lengthAdjust="spacingAndGlyphs">192</text>
<text class="tk" x="21.6" y="44.0" textLength="18.6" lengthAdjust="spacingAndGlyphs">256</text>
<text class="tk" x="40.9" y="241.1" textLength="6.2" lengthAdjust="spacingAndGlyphs">0</text>
<text class="tk" x="83.7" y="241.1" textLength="12.4" lengthAdjust="spacingAndGlyphs">90</text>
<text class="tk" x="127.4" y="241.1" textLength="18.6" lengthAdjust="spacingAndGlyphs">180</text>
<text class="tk" x="172.2" y="241.1" textLength="18.6" lengthAdjust="spacingAndGlyphs">270</text>
<text class="tk" x="212.4" y="241.1" textLength="18.6" lengthAdjust="spacingAndGlyphs">360</text>
<text class="lb" style="font-size:11.6px" transform="translate(18.0,113.8) rotate(-90)" text-anchor="middle" textLength="119" lengthAdjust="spacing">Magnitude of PD (mV)</text>
<text class="lb" x="113.3" y="253.6" textLength="30.6" lengthAdjust="spacingAndGlyphs">Phase</text>
<text class="lb" x="147.8" y="253.6" textLength="11.6" lengthAdjust="spacingAndGlyphs">(<tspan dy="2.6">°</tspan><tspan dy="-2.6">)</tspan></text>
<text class="cp" x="131.0" y="266.9" text-anchor="middle">(a) Corona discharge</text>
<g>
<rect x="284.2" y="4.2" width="185.50" height="224.50" fill="#828282"/>
<path d="M284.2 226.5h185.5M284.2 217.5h185.5M284.2 209.5h185.5M284.2 200.5h185.5M284.2 192.5h185.5M284.2 183.5h185.5M284.2 175.5h185.5M284.2 167.5h185.5M284.2 158.5h185.5M284.2 150.5h185.5M284.2 141.5h185.5M284.2 133.5h185.5M284.2 125.5h185.5M284.2 116.5h185.5M284.2 108.5h185.5M284.2 99.5h185.5M284.2 91.5h185.5M284.2 83.5h185.5M284.2 74.5h185.5M284.2 66.5h185.5M284.2 57.5h185.5M284.2 49.5h185.5M284.2 41.5h185.5M284.2 32.5h185.5M284.2 24.5h185.5M284.2 15.5h185.5M284.2 7.5h185.5" stroke="#939393" stroke-width="1" fill="none"/>
<path d="M284.2 226.5h1.6M284.2 217.5h1.6M284.2 209.5h1.6M284.2 200.5h1.6M284.2 192.5h1.6M284.2 183.5h1.6M284.2 175.5h1.6M284.2 167.5h1.6M284.2 158.5h1.6M284.2 150.5h1.6M284.2 141.5h1.6M284.2 133.5h1.6M284.2 125.5h1.6M284.2 116.5h1.6M284.2 108.5h1.6M284.2 99.5h1.6M284.2 91.5h1.6M284.2 83.5h1.6M284.2 74.5h1.6M284.2 66.5h1.6M284.2 57.5h1.6M284.2 49.5h1.6M284.2 41.5h1.6M284.2 32.5h1.6M284.2 24.5h1.6M284.2 15.5h1.6M284.2 7.5h1.6M284.5 228.7v-1.6M307.5 228.7v-1.6M330.5 228.7v-1.6M353.5 228.7v-1.6M376.5 228.7v-1.6M400.5 228.7v-1.6M423.5 228.7v-1.6M446.5 228.7v-1.6M469.5 228.7v-1.6" stroke="#3a3a3a" stroke-width="1" fill="none"/>
<line x1="307.50" y1="4.2" x2="307.50" y2="228.7" stroke="#909090" stroke-width="1"/>
<line x1="353.50" y1="4.2" x2="353.50" y2="228.7" stroke="#909090" stroke-width="1"/>
<line x1="400.50" y1="4.2" x2="400.50" y2="228.7" stroke="#909090" stroke-width="1"/>
<line x1="446.50" y1="4.2" x2="446.50" y2="228.7" stroke="#909090" stroke-width="1"/>
<line x1="330.50" y1="4.2" x2="330.50" y2="228.7" stroke="#747474" stroke-width="1"/>
<line x1="376.50" y1="4.2" x2="376.50" y2="228.7" stroke="#747474" stroke-width="1"/>
<line x1="423.50" y1="4.2" x2="423.50" y2="228.7" stroke="#747474" stroke-width="1"/>
<path fill="#000080" d="M341.7 225.6h1.85v2.36h-1.85zM306.5 223.3h1.85v2.36h-1.85zM291.6 220.9h1.85v2.36h-1.85zM302.8 218.6h1.85v2.36h-1.85zM312.0 218.6h1.85v2.36h-1.85zM297.2 216.2h1.85v2.36h-1.85zM336.1 216.2h1.85v2.36h-1.85zM351.0 216.2h1.85v2.36h-1.85zM395.5 216.2h1.85v2.36h-1.85zM402.9 140.7h1.85v2.36h-1.85zM454.9 84.0h1.85v2.36h-1.85zM325.0 77.0h1.85v2.36h-1.85zM401.1 77.0h1.85v2.36h-1.85zM323.2 72.2h1.85v2.36h-1.85zM397.4 69.9h1.85v2.36h-1.85zM323.2 67.5h1.85v2.36h-1.85zM336.1 65.2h1.85v2.36h-1.85zM284.2 213.4h1.85v2.80h-1.85zM300.9 213.4h1.85v2.80h-1.85zM310.2 213.4h1.85v2.80h-1.85zM319.4 213.4h1.85v2.80h-1.85zM330.6 213.4h1.85v2.80h-1.85zM334.3 213.4h1.85v2.80h-1.85zM345.4 213.4h1.85v2.80h-1.85zM351.0 213.4h1.85v2.80h-1.85zM354.7 213.4h1.85v2.80h-1.85zM365.8 213.4h1.85v2.80h-1.85zM384.4 213.4h1.85v2.80h-1.85zM395.5 213.4h1.85v2.80h-1.85zM414.0 213.4h1.85v2.80h-1.85zM421.5 213.4h1.85v2.80h-1.85zM436.3 213.4h1.85v2.80h-1.85zM453.0 213.4h1.85v2.80h-1.85zM460.4 213.4h1.85v2.80h-1.85zM284.2 216.2h1.85v4.30h-1.85zM289.8 216.2h1.85v4.30h-1.85zM304.6 216.2h1.85v4.30h-1.85zM317.6 216.2h1.85v4.30h-1.85zM332.4 216.2h1.85v4.30h-1.85zM336.1 216.2h1.85v4.30h-1.85zM343.6 216.2h1.85v4.30h-1.85zM364.0 216.2h1.85v4.30h-1.85zM365.8 216.2h1.85v4.30h-1.85zM375.1 216.2h1.85v4.30h-1.85zM378.8 216.2h1.85v4.30h-1.85zM388.1 216.2h1.85v4.30h-1.85zM414.0 216.2h1.85v4.30h-1.85zM425.2 216.2h1.85v4.30h-1.85zM434.5 216.2h1.85v4.30h-1.85z"/>
<path fill="#000095" d="M406.6 216.2h1.85v2.36h-1.85zM412.2 216.2h1.85v2.36h-1.85zM417.8 216.2h1.85v2.36h-1.85zM419.6 216.2h1.85v2.36h-1.85zM315.7 213.8h1.85v2.36h-1.85zM351.0 213.8h1.85v2.36h-1.85zM358.4 213.8h1.85v2.36h-1.85zM360.3 213.8h1.85v2.36h-1.85zM376.9 213.8h1.85v2.36h-1.85zM406.6 213.8h1.85v2.36h-1.85zM421.5 213.8h1.85v2.36h-1.85zM428.9 213.8h1.85v2.36h-1.85zM438.2 213.8h1.85v2.36h-1.85zM441.9 213.8h1.85v2.36h-1.85zM312.0 211.5h1.85v2.36h-1.85zM286.1 209.1h1.85v2.36h-1.85zM315.7 209.1h1.85v2.36h-1.85zM365.8 209.1h1.85v2.36h-1.85zM369.5 209.1h1.85v2.36h-1.85zM388.1 209.1h1.85v2.36h-1.85zM393.6 209.1h1.85v2.36h-1.85zM464.1 209.1h1.85v2.36h-1.85zM289.8 206.8h1.85v2.36h-1.85zM304.6 206.8h1.85v2.36h-1.85zM364.0 206.8h1.85v2.36h-1.85zM365.8 206.8h1.85v2.36h-1.85zM371.4 206.8h1.85v2.36h-1.85zM447.4 206.8h1.85v2.36h-1.85zM356.5 204.4h1.85v2.36h-1.85zM365.8 204.4h1.85v2.36h-1.85zM391.8 204.4h1.85v2.36h-1.85zM462.3 204.4h1.85v2.36h-1.85zM289.8 202.0h1.85v2.36h-1.85zM291.6 202.0h1.85v2.36h-1.85zM395.5 199.7h1.85v2.36h-1.85zM401.1 199.7h1.85v2.36h-1.85zM447.4 199.7h1.85v2.36h-1.85zM393.6 197.3h1.85v2.36h-1.85zM432.6 197.3h1.85v2.36h-1.85zM441.9 197.3h1.85v2.36h-1.85zM443.7 197.3h1.85v2.36h-1.85zM299.0 195.0h1.85v2.36h-1.85zM339.8 195.0h1.85v2.36h-1.85zM347.3 195.0h1.85v2.36h-1.85zM289.8 192.6h1.85v2.36h-1.85zM343.6 192.6h1.85v2.36h-1.85zM401.1 192.6h1.85v2.36h-1.85zM440.0 192.6h1.85v2.36h-1.85zM336.1 190.2h1.85v2.36h-1.85zM356.5 190.2h1.85v2.36h-1.85zM388.1 190.2h1.85v2.36h-1.85zM399.2 190.2h1.85v2.36h-1.85zM436.3 190.2h1.85v2.36h-1.85zM302.8 187.9h1.85v2.36h-1.85zM336.1 187.9h1.85v2.36h-1.85zM402.9 187.9h1.85v2.36h-1.85zM428.9 187.9h1.85v2.36h-1.85zM440.0 187.9h1.85v2.36h-1.85zM443.7 187.9h1.85v2.36h-1.85zM299.0 185.5h1.85v2.36h-1.85zM304.6 185.5h1.85v2.36h-1.85zM334.3 185.5h1.85v2.36h-1.85zM339.8 185.5h1.85v2.36h-1.85zM347.3 185.5h1.85v2.36h-1.85zM397.4 185.5h1.85v2.36h-1.85zM440.0 185.5h1.85v2.36h-1.85zM441.9 185.5h1.85v2.36h-1.85zM449.3 185.5h1.85v2.36h-1.85zM451.1 185.5h1.85v2.36h-1.85zM302.8 183.2h1.85v2.36h-1.85zM341.7 183.2h1.85v2.36h-1.85zM389.9 183.2h1.85v2.36h-1.85zM412.2 183.2h1.85v2.36h-1.85zM414.0 183.2h1.85v2.36h-1.85zM423.3 183.2h1.85v2.36h-1.85zM438.2 183.2h1.85v2.36h-1.85zM440.0 183.2h1.85v2.36h-1.85zM441.9 183.2h1.85v2.36h-1.85zM466.0 183.2h1.85v2.36h-1.85zM304.6 180.8h1.85v2.36h-1.85zM399.2 180.8h1.85v2.36h-1.85zM404.8 180.8h1.85v2.36h-1.85zM427.0 180.8h1.85v2.36h-1.85zM300.9 178.4h1.85v2.36h-1.85zM313.9 178.4h1.85v2.36h-1.85zM325.0 178.4h1.85v2.36h-1.85zM406.6 178.4h1.85v2.36h-1.85zM412.2 178.4h1.85v2.36h-1.85zM304.6 176.1h1.85v2.36h-1.85zM330.6 176.1h1.85v2.36h-1.85zM414.0 176.1h1.85v2.36h-1.85zM428.9 176.1h1.85v2.36h-1.85zM443.7 176.1h1.85v2.36h-1.85zM460.4 176.1h1.85v2.36h-1.85zM310.2 173.7h1.85v2.36h-1.85zM408.5 173.7h1.85v2.36h-1.85zM328.7 171.4h1.85v2.36h-1.85zM351.0 171.4h1.85v2.36h-1.85zM399.2 171.4h1.85v2.36h-1.85zM401.1 171.4h1.85v2.36h-1.85zM408.5 171.4h1.85v2.36h-1.85zM410.3 171.4h1.85v2.36h-1.85zM449.3 171.4h1.85v2.36h-1.85zM317.6 169.0h1.85v2.36h-1.85zM319.4 169.0h1.85v2.36h-1.85zM336.1 169.0h1.85v2.36h-1.85zM414.0 169.0h1.85v2.36h-1.85zM419.6 169.0h1.85v2.36h-1.85zM425.2 169.0h1.85v2.36h-1.85zM432.6 169.0h1.85v2.36h-1.85zM436.3 169.0h1.85v2.36h-1.85zM440.0 169.0h1.85v2.36h-1.85zM454.9 169.0h1.85v2.36h-1.85zM458.6 169.0h1.85v2.36h-1.85zM291.6 166.6h1.85v2.36h-1.85zM330.6 166.6h1.85v2.36h-1.85zM352.8 166.6h1.85v2.36h-1.85zM421.5 166.6h1.85v2.36h-1.85zM447.4 166.6h1.85v2.36h-1.85zM449.3 166.6h1.85v2.36h-1.85zM430.7 164.3h1.85v2.36h-1.85zM443.7 164.3h1.85v2.36h-1.85zM454.9 164.3h1.85v2.36h-1.85zM304.6 161.9h1.85v2.36h-1.85zM310.2 161.9h1.85v2.36h-1.85zM351.0 161.9h1.85v2.36h-1.85zM352.8 161.9h1.85v2.36h-1.85zM354.7 161.9h1.85v2.36h-1.85zM401.1 161.9h1.85v2.36h-1.85zM414.0 161.9h1.85v2.36h-1.85zM425.2 161.9h1.85v2.36h-1.85zM456.7 161.9h1.85v2.36h-1.85zM308.3 159.6h1.85v2.36h-1.85zM315.7 159.6h1.85v2.36h-1.85zM349.1 159.6h1.85v2.36h-1.85zM401.1 159.6h1.85v2.36h-1.85zM404.8 159.6h1.85v2.36h-1.85zM406.6 159.6h1.85v2.36h-1.85zM419.6 159.6h1.85v2.36h-1.85zM434.5 159.6h1.85v2.36h-1.85zM436.3 159.6h1.85v2.36h-1.85zM453.0 159.6h1.85v2.36h-1.85zM321.3 157.2h1.85v2.36h-1.85zM323.2 157.2h1.85v2.36h-1.85zM338.0 157.2h1.85v2.36h-1.85zM339.8 157.2h1.85v2.36h-1.85zM343.6 157.2h1.85v2.36h-1.85zM423.3 157.2h1.85v2.36h-1.85zM434.5 157.2h1.85v2.36h-1.85zM440.0 157.2h1.85v2.36h-1.85zM321.3 154.8h1.85v2.36h-1.85zM330.6 154.8h1.85v2.36h-1.85zM345.4 154.8h1.85v2.36h-1.85zM354.7 154.8h1.85v2.36h-1.85zM393.6 154.8h1.85v2.36h-1.85zM419.6 154.8h1.85v2.36h-1.85zM451.1 154.8h1.85v2.36h-1.85zM308.3 152.5h1.85v2.36h-1.85zM319.4 152.5h1.85v2.36h-1.85zM332.4 152.5h1.85v2.36h-1.85zM336.1 152.5h1.85v2.36h-1.85zM341.7 152.5h1.85v2.36h-1.85zM349.1 152.5h1.85v2.36h-1.85zM402.9 152.5h1.85v2.36h-1.85zM404.8 152.5h1.85v2.36h-1.85zM421.5 152.5h1.85v2.36h-1.85zM436.3 152.5h1.85v2.36h-1.85zM445.6 152.5h1.85v2.36h-1.85zM449.3 152.5h1.85v2.36h-1.85zM460.4 152.5h1.85v2.36h-1.85zM334.3 150.1h1.85v2.36h-1.85zM419.6 150.1h1.85v2.36h-1.85zM428.9 150.1h1.85v2.36h-1.85zM432.6 150.1h1.85v2.36h-1.85zM438.2 150.1h1.85v2.36h-1.85zM313.9 147.8h1.85v2.36h-1.85zM321.3 147.8h1.85v2.36h-1.85zM323.2 147.8h1.85v2.36h-1.85zM330.6 147.8h1.85v2.36h-1.85zM336.1 147.8h1.85v2.36h-1.85zM338.0 147.8h1.85v2.36h-1.85zM339.8 147.8h1.85v2.36h-1.85zM360.3 147.8h1.85v2.36h-1.85zM389.9 147.8h1.85v2.36h-1.85zM393.6 147.8h1.85v2.36h-1.85zM427.0 147.8h1.85v2.36h-1.85zM428.9 147.8h1.85v2.36h-1.85zM454.9 147.8h1.85v2.36h-1.85zM456.7 147.8h1.85v2.36h-1.85zM315.7 145.4h1.85v2.36h-1.85zM323.2 145.4h1.85v2.36h-1.85zM414.0 145.4h1.85v2.36h-1.85zM425.2 145.4h1.85v2.36h-1.85zM436.3 145.4h1.85v2.36h-1.85zM313.9 143.0h1.85v2.36h-1.85zM326.9 143.0h1.85v2.36h-1.85zM328.7 143.0h1.85v2.36h-1.85zM332.4 143.0h1.85v2.36h-1.85zM347.3 143.0h1.85v2.36h-1.85zM352.8 143.0h1.85v2.36h-1.85zM358.4 143.0h1.85v2.36h-1.85zM362.1 143.0h1.85v2.36h-1.85zM402.9 143.0h1.85v2.36h-1.85zM410.3 143.0h1.85v2.36h-1.85zM438.2 143.0h1.85v2.36h-1.85zM325.0 140.7h1.85v2.36h-1.85zM338.0 140.7h1.85v2.36h-1.85zM354.7 140.7h1.85v2.36h-1.85zM362.1 140.7h1.85v2.36h-1.85zM410.3 140.7h1.85v2.36h-1.85zM454.9 140.7h1.85v2.36h-1.85zM312.0 138.3h1.85v2.36h-1.85zM334.3 138.3h1.85v2.36h-1.85zM339.8 138.3h1.85v2.36h-1.85zM347.3 138.3h1.85v2.36h-1.85zM351.0 138.3h1.85v2.36h-1.85zM406.6 138.3h1.85v2.36h-1.85zM419.6 138.3h1.85v2.36h-1.85zM421.5 138.3h1.85v2.36h-1.85zM427.0 138.3h1.85v2.36h-1.85zM438.2 138.3h1.85v2.36h-1.85zM441.9 138.3h1.85v2.36h-1.85zM310.2 136.0h1.85v2.36h-1.85zM315.7 136.0h1.85v2.36h-1.85zM317.6 136.0h1.85v2.36h-1.85zM356.5 136.0h1.85v2.36h-1.85zM402.9 136.0h1.85v2.36h-1.85zM414.0 136.0h1.85v2.36h-1.85zM417.8 136.0h1.85v2.36h-1.85zM419.6 136.0h1.85v2.36h-1.85zM423.3 136.0h1.85v2.36h-1.85zM432.6 136.0h1.85v2.36h-1.85zM445.6 136.0h1.85v2.36h-1.85zM313.9 133.6h1.85v2.36h-1.85zM317.6 133.6h1.85v2.36h-1.85zM328.7 133.6h1.85v2.36h-1.85zM332.4 133.6h1.85v2.36h-1.85zM334.3 133.6h1.85v2.36h-1.85zM341.7 133.6h1.85v2.36h-1.85zM393.6 133.6h1.85v2.36h-1.85zM404.8 133.6h1.85v2.36h-1.85zM406.6 133.6h1.85v2.36h-1.85zM408.5 133.6h1.85v2.36h-1.85zM410.3 133.6h1.85v2.36h-1.85zM414.0 133.6h1.85v2.36h-1.85zM417.8 133.6h1.85v2.36h-1.85zM421.5 133.6h1.85v2.36h-1.85zM436.3 133.6h1.85v2.36h-1.85zM356.5 131.2h1.85v2.36h-1.85zM408.5 131.2h1.85v2.36h-1.85zM415.9 131.2h1.85v2.36h-1.85zM419.6 131.2h1.85v2.36h-1.85zM425.2 131.2h1.85v2.36h-1.85zM427.0 131.2h1.85v2.36h-1.85zM428.9 131.2h1.85v2.36h-1.85zM430.7 131.2h1.85v2.36h-1.85zM447.4 131.2h1.85v2.36h-1.85zM310.2 128.9h1.85v2.36h-1.85zM317.6 128.9h1.85v2.36h-1.85zM334.3 128.9h1.85v2.36h-1.85zM336.1 128.9h1.85v2.36h-1.85zM338.0 128.9h1.85v2.36h-1.85zM349.1 128.9h1.85v2.36h-1.85zM404.8 128.9h1.85v2.36h-1.85zM406.6 128.9h1.85v2.36h-1.85zM412.2 128.9h1.85v2.36h-1.85zM415.9 128.9h1.85v2.36h-1.85zM421.5 128.9h1.85v2.36h-1.85zM423.3 128.9h1.85v2.36h-1.85zM430.7 128.9h1.85v2.36h-1.85zM436.3 128.9h1.85v2.36h-1.85zM441.9 128.9h1.85v2.36h-1.85zM445.6 128.9h1.85v2.36h-1.85zM334.3 126.5h1.85v2.36h-1.85zM364.0 126.5h1.85v2.36h-1.85zM408.5 126.5h1.85v2.36h-1.85zM412.2 126.5h1.85v2.36h-1.85zM415.9 126.5h1.85v2.36h-1.85zM417.8 126.5h1.85v2.36h-1.85zM430.7 126.5h1.85v2.36h-1.85zM434.5 126.5h1.85v2.36h-1.85zM310.2 124.2h1.85v2.36h-1.85zM323.2 124.2h1.85v2.36h-1.85zM325.0 124.2h1.85v2.36h-1.85zM326.9 124.2h1.85v2.36h-1.85zM332.4 124.2h1.85v2.36h-1.85zM347.3 124.2h1.85v2.36h-1.85zM356.5 124.2h1.85v2.36h-1.85zM406.6 124.2h1.85v2.36h-1.85zM408.5 124.2h1.85v2.36h-1.85zM417.8 124.2h1.85v2.36h-1.85zM419.6 124.2h1.85v2.36h-1.85zM436.3 124.2h1.85v2.36h-1.85zM447.4 124.2h1.85v2.36h-1.85zM449.3 124.2h1.85v2.36h-1.85zM453.0 124.2h1.85v2.36h-1.85zM313.9 121.8h1.85v2.36h-1.85zM319.4 121.8h1.85v2.36h-1.85zM321.3 121.8h1.85v2.36h-1.85zM328.7 121.8h1.85v2.36h-1.85zM332.4 121.8h1.85v2.36h-1.85zM334.3 121.8h1.85v2.36h-1.85zM341.7 121.8h1.85v2.36h-1.85zM399.2 121.8h1.85v2.36h-1.85zM406.6 121.8h1.85v2.36h-1.85zM415.9 121.8h1.85v2.36h-1.85zM417.8 121.8h1.85v2.36h-1.85zM421.5 121.8h1.85v2.36h-1.85zM430.7 121.8h1.85v2.36h-1.85zM432.6 121.8h1.85v2.36h-1.85zM434.5 121.8h1.85v2.36h-1.85zM438.2 121.8h1.85v2.36h-1.85zM313.9 119.4h1.85v2.36h-1.85zM328.7 119.4h1.85v2.36h-1.85zM330.6 119.4h1.85v2.36h-1.85zM343.6 119.4h1.85v2.36h-1.85zM349.1 119.4h1.85v2.36h-1.85zM352.8 119.4h1.85v2.36h-1.85zM354.7 119.4h1.85v2.36h-1.85zM402.9 119.4h1.85v2.36h-1.85zM406.6 119.4h1.85v2.36h-1.85zM408.5 119.4h1.85v2.36h-1.85zM410.3 119.4h1.85v2.36h-1.85zM417.8 119.4h1.85v2.36h-1.85zM427.0 119.4h1.85v2.36h-1.85zM428.9 119.4h1.85v2.36h-1.85zM434.5 119.4h1.85v2.36h-1.85zM313.9 117.1h1.85v2.36h-1.85zM317.6 117.1h1.85v2.36h-1.85zM325.0 117.1h1.85v2.36h-1.85zM328.7 117.1h1.85v2.36h-1.85zM332.4 117.1h1.85v2.36h-1.85zM336.1 117.1h1.85v2.36h-1.85zM410.3 117.1h1.85v2.36h-1.85zM412.2 117.1h1.85v2.36h-1.85zM414.0 117.1h1.85v2.36h-1.85zM417.8 117.1h1.85v2.36h-1.85zM421.5 117.1h1.85v2.36h-1.85zM425.2 117.1h1.85v2.36h-1.85zM430.7 117.1h1.85v2.36h-1.85zM432.6 117.1h1.85v2.36h-1.85zM434.5 117.1h1.85v2.36h-1.85zM436.3 117.1h1.85v2.36h-1.85zM317.6 114.7h1.85v2.36h-1.85zM323.2 114.7h1.85v2.36h-1.85zM325.0 114.7h1.85v2.36h-1.85zM328.7 114.7h1.85v2.36h-1.85zM330.6 114.7h1.85v2.36h-1.85zM336.1 114.7h1.85v2.36h-1.85zM410.3 114.7h1.85v2.36h-1.85zM415.9 114.7h1.85v2.36h-1.85zM423.3 114.7h1.85v2.36h-1.85zM425.2 114.7h1.85v2.36h-1.85zM434.5 114.7h1.85v2.36h-1.85zM436.3 114.7h1.85v2.36h-1.85zM440.0 114.7h1.85v2.36h-1.85zM443.7 114.7h1.85v2.36h-1.85zM445.6 114.7h1.85v2.36h-1.85zM447.4 114.7h1.85v2.36h-1.85zM458.6 114.7h1.85v2.36h-1.85zM313.9 112.4h1.85v2.36h-1.85zM315.7 112.4h1.85v2.36h-1.85zM319.4 112.4h1.85v2.36h-1.85zM323.2 112.4h1.85v2.36h-1.85zM326.9 112.4h1.85v2.36h-1.85zM328.7 112.4h1.85v2.36h-1.85zM332.4 112.4h1.85v2.36h-1.85zM334.3 112.4h1.85v2.36h-1.85zM349.1 112.4h1.85v2.36h-1.85zM358.4 112.4h1.85v2.36h-1.85zM399.2 112.4h1.85v2.36h-1.85zM408.5 112.4h1.85v2.36h-1.85zM419.6 112.4h1.85v2.36h-1.85zM423.3 112.4h1.85v2.36h-1.85zM425.2 112.4h1.85v2.36h-1.85zM432.6 112.4h1.85v2.36h-1.85zM315.7 110.0h1.85v2.36h-1.85zM319.4 110.0h1.85v2.36h-1.85zM323.2 110.0h1.85v2.36h-1.85zM325.0 110.0h1.85v2.36h-1.85zM328.7 110.0h1.85v2.36h-1.85zM332.4 110.0h1.85v2.36h-1.85zM338.0 110.0h1.85v2.36h-1.85zM343.6 110.0h1.85v2.36h-1.85zM406.6 110.0h1.85v2.36h-1.85zM414.0 110.0h1.85v2.36h-1.85zM415.9 110.0h1.85v2.36h-1.85zM419.6 110.0h1.85v2.36h-1.85zM423.3 110.0h1.85v2.36h-1.85zM427.0 110.0h1.85v2.36h-1.85zM434.5 110.0h1.85v2.36h-1.85zM443.7 110.0h1.85v2.36h-1.85zM447.4 110.0h1.85v2.36h-1.85zM315.7 107.6h1.85v2.36h-1.85zM330.6 107.6h1.85v2.36h-1.85zM336.1 107.6h1.85v2.36h-1.85zM343.6 107.6h1.85v2.36h-1.85zM349.1 107.6h1.85v2.36h-1.85zM406.6 107.6h1.85v2.36h-1.85zM408.5 107.6h1.85v2.36h-1.85zM414.0 107.6h1.85v2.36h-1.85zM421.5 107.6h1.85v2.36h-1.85zM427.0 107.6h1.85v2.36h-1.85zM430.7 107.6h1.85v2.36h-1.85zM438.2 107.6h1.85v2.36h-1.85zM440.0 107.6h1.85v2.36h-1.85zM299.0 105.3h1.85v2.36h-1.85zM312.0 105.3h1.85v2.36h-1.85zM315.7 105.3h1.85v2.36h-1.85zM321.3 105.3h1.85v2.36h-1.85zM323.2 105.3h1.85v2.36h-1.85zM328.7 105.3h1.85v2.36h-1.85zM330.6 105.3h1.85v2.36h-1.85zM338.0 105.3h1.85v2.36h-1.85zM339.8 105.3h1.85v2.36h-1.85zM410.3 105.3h1.85v2.36h-1.85zM427.0 105.3h1.85v2.36h-1.85zM428.9 105.3h1.85v2.36h-1.85zM432.6 105.3h1.85v2.36h-1.85zM449.3 105.3h1.85v2.36h-1.85zM460.4 105.3h1.85v2.36h-1.85zM312.0 102.9h1.85v2.36h-1.85zM317.6 102.9h1.85v2.36h-1.85zM326.9 102.9h1.85v2.36h-1.85zM334.3 102.9h1.85v2.36h-1.85zM347.3 102.9h1.85v2.36h-1.85zM352.8 102.9h1.85v2.36h-1.85zM356.5 102.9h1.85v2.36h-1.85zM408.5 102.9h1.85v2.36h-1.85zM410.3 102.9h1.85v2.36h-1.85zM414.0 102.9h1.85v2.36h-1.85zM421.5 102.9h1.85v2.36h-1.85zM423.3 102.9h1.85v2.36h-1.85zM427.0 102.9h1.85v2.36h-1.85zM436.3 102.9h1.85v2.36h-1.85zM441.9 102.9h1.85v2.36h-1.85zM315.7 100.6h1.85v2.36h-1.85zM326.9 100.6h1.85v2.36h-1.85zM339.8 100.6h1.85v2.36h-1.85zM343.6 100.6h1.85v2.36h-1.85zM376.9 100.6h1.85v2.36h-1.85zM412.2 100.6h1.85v2.36h-1.85zM417.8 100.6h1.85v2.36h-1.85zM419.6 100.6h1.85v2.36h-1.85zM430.7 100.6h1.85v2.36h-1.85zM441.9 100.6h1.85v2.36h-1.85zM313.9 98.2h1.85v2.36h-1.85zM315.7 98.2h1.85v2.36h-1.85zM317.6 98.2h1.85v2.36h-1.85zM325.0 98.2h1.85v2.36h-1.85zM326.9 98.2h1.85v2.36h-1.85zM328.7 98.2h1.85v2.36h-1.85zM352.8 98.2h1.85v2.36h-1.85zM412.2 98.2h1.85v2.36h-1.85zM414.0 98.2h1.85v2.36h-1.85zM419.6 98.2h1.85v2.36h-1.85zM427.0 98.2h1.85v2.36h-1.85zM441.9 98.2h1.85v2.36h-1.85zM315.7 95.8h1.85v2.36h-1.85zM317.6 95.8h1.85v2.36h-1.85zM321.3 95.8h1.85v2.36h-1.85zM326.9 95.8h1.85v2.36h-1.85zM328.7 95.8h1.85v2.36h-1.85zM334.3 95.8h1.85v2.36h-1.85zM336.1 95.8h1.85v2.36h-1.85zM339.8 95.8h1.85v2.36h-1.85zM343.6 95.8h1.85v2.36h-1.85zM347.3 95.8h1.85v2.36h-1.85zM362.1 95.8h1.85v2.36h-1.85zM402.9 95.8h1.85v2.36h-1.85zM412.2 95.8h1.85v2.36h-1.85zM417.8 95.8h1.85v2.36h-1.85zM421.5 95.8h1.85v2.36h-1.85zM312.0 93.5h1.85v2.36h-1.85zM319.4 93.5h1.85v2.36h-1.85zM406.6 93.5h1.85v2.36h-1.85zM414.0 93.5h1.85v2.36h-1.85zM421.5 93.5h1.85v2.36h-1.85zM438.2 93.5h1.85v2.36h-1.85zM447.4 93.5h1.85v2.36h-1.85zM302.8 91.1h1.85v2.36h-1.85zM319.4 91.1h1.85v2.36h-1.85zM326.9 91.1h1.85v2.36h-1.85zM328.7 91.1h1.85v2.36h-1.85zM332.4 91.1h1.85v2.36h-1.85zM339.8 91.1h1.85v2.36h-1.85zM356.5 91.1h1.85v2.36h-1.85zM423.3 91.1h1.85v2.36h-1.85zM436.3 91.1h1.85v2.36h-1.85zM321.3 88.8h1.85v2.36h-1.85zM328.7 88.8h1.85v2.36h-1.85zM339.8 88.8h1.85v2.36h-1.85zM399.2 88.8h1.85v2.36h-1.85zM401.1 88.8h1.85v2.36h-1.85zM428.9 88.8h1.85v2.36h-1.85zM430.7 88.8h1.85v2.36h-1.85zM443.7 88.8h1.85v2.36h-1.85zM451.1 88.8h1.85v2.36h-1.85zM304.6 86.4h1.85v2.36h-1.85zM315.7 86.4h1.85v2.36h-1.85zM325.0 86.4h1.85v2.36h-1.85zM336.1 86.4h1.85v2.36h-1.85zM356.5 86.4h1.85v2.36h-1.85zM364.0 86.4h1.85v2.36h-1.85zM389.9 86.4h1.85v2.36h-1.85zM401.1 86.4h1.85v2.36h-1.85zM404.8 86.4h1.85v2.36h-1.85zM438.2 86.4h1.85v2.36h-1.85zM451.1 86.4h1.85v2.36h-1.85zM456.7 86.4h1.85v2.36h-1.85zM321.3 84.0h1.85v2.36h-1.85zM347.3 84.0h1.85v2.36h-1.85zM414.0 84.0h1.85v2.36h-1.85zM453.0 84.0h1.85v2.36h-1.85zM323.2 81.7h1.85v2.36h-1.85zM332.4 81.7h1.85v2.36h-1.85zM338.0 81.7h1.85v2.36h-1.85zM339.8 81.7h1.85v2.36h-1.85zM349.1 81.7h1.85v2.36h-1.85zM352.8 81.7h1.85v2.36h-1.85zM412.2 81.7h1.85v2.36h-1.85zM332.4 79.3h1.85v2.36h-1.85zM427.0 79.3h1.85v2.36h-1.85zM428.9 79.3h1.85v2.36h-1.85zM441.9 79.3h1.85v2.36h-1.85zM304.6 213.4h1.85v2.80h-1.85zM326.9 213.4h1.85v2.80h-1.85zM347.3 213.4h1.85v2.80h-1.85zM358.4 213.4h1.85v2.80h-1.85zM388.1 213.4h1.85v2.80h-1.85zM391.8 213.4h1.85v2.80h-1.85zM393.6 213.4h1.85v2.80h-1.85zM399.2 213.4h1.85v2.80h-1.85zM417.8 213.4h1.85v2.80h-1.85zM423.3 213.4h1.85v2.80h-1.85zM427.0 213.4h1.85v2.80h-1.85zM428.9 213.4h1.85v2.80h-1.85zM441.9 213.4h1.85v2.80h-1.85zM458.6 213.4h1.85v2.80h-1.85zM462.3 213.4h1.85v2.80h-1.85zM310.2 216.2h1.85v4.30h-1.85zM338.0 216.2h1.85v4.30h-1.85zM341.7 216.2h1.85v4.30h-1.85zM356.5 216.2h1.85v4.30h-1.85zM358.4 216.2h1.85v4.30h-1.85zM399.2 216.2h1.85v4.30h-1.85zM441.9 216.2h1.85v4.30h-1.85zM453.0 216.2h1.85v4.30h-1.85zM464.1 216.2h1.85v4.30h-1.85zM467.8 216.2h1.85v4.30h-1.85zM288.1 36.2h1.85v2.36h-1.85zM290.1 36.2h1.85v2.36h-1.85zM323.3 38.2h1.85v2.36h-1.85zM334.1 42.2h1.85v2.36h-1.85zM359.5 42.2h1.85v2.36h-1.85zM365.5 39.0h1.85v2.36h-1.85zM402.9 35.8h1.85v2.36h-1.85zM404.7 35.8h1.85v2.36h-1.85zM435.1 33.8h1.85v2.36h-1.85zM436.9 33.8h1.85v2.36h-1.85zM294.1 49.8h1.85v2.36h-1.85zM395.7 49.8h1.85v2.36h-1.85zM397.7 57.1h1.85v2.36h-1.85zM429.9 59.1h1.85v2.36h-1.85zM445.1 61.1h1.85v2.36h-1.85zM447.1 56.3h1.85v2.36h-1.85zM361.5 65.1h1.85v2.36h-1.85zM285.1 70.4h1.85v2.36h-1.85zM295.1 68.0h1.85v2.36h-1.85zM337.4 74.4h1.85v2.36h-1.85zM409.8 67.2h1.85v2.36h-1.85zM413.8 70.4h1.85v2.36h-1.85zM467.6 70.4h1.85v2.36h-1.85zM372.4 82.4h1.85v2.36h-1.85z"/>
<path fill="#0000aa" d="M330.6 213.8h1.85v2.36h-1.85zM338.0 213.8h1.85v2.36h-1.85zM427.0 213.8h1.85v2.36h-1.85zM440.0 213.8h1.85v2.36h-1.85zM293.5 211.5h1.85v2.36h-1.85zM299.0 211.5h1.85v2.36h-1.85zM315.7 211.5h1.85v2.36h-1.85zM336.1 211.5h1.85v2.36h-1.85zM339.8 211.5h1.85v2.36h-1.85zM343.6 211.5h1.85v2.36h-1.85zM347.3 211.5h1.85v2.36h-1.85zM369.5 211.5h1.85v2.36h-1.85zM380.7 211.5h1.85v2.36h-1.85zM408.5 211.5h1.85v2.36h-1.85zM414.0 211.5h1.85v2.36h-1.85zM423.3 211.5h1.85v2.36h-1.85zM436.3 211.5h1.85v2.36h-1.85zM445.6 211.5h1.85v2.36h-1.85zM295.3 209.1h1.85v2.36h-1.85zM297.2 209.1h1.85v2.36h-1.85zM312.0 209.1h1.85v2.36h-1.85zM323.2 209.1h1.85v2.36h-1.85zM339.8 209.1h1.85v2.36h-1.85zM382.5 209.1h1.85v2.36h-1.85zM421.5 209.1h1.85v2.36h-1.85zM447.4 209.1h1.85v2.36h-1.85zM299.0 206.8h1.85v2.36h-1.85zM300.9 206.8h1.85v2.36h-1.85zM313.9 206.8h1.85v2.36h-1.85zM321.3 206.8h1.85v2.36h-1.85zM341.7 206.8h1.85v2.36h-1.85zM443.7 206.8h1.85v2.36h-1.85zM302.8 204.4h1.85v2.36h-1.85zM325.0 204.4h1.85v2.36h-1.85zM332.4 204.4h1.85v2.36h-1.85zM336.1 204.4h1.85v2.36h-1.85zM347.3 204.4h1.85v2.36h-1.85zM432.6 204.4h1.85v2.36h-1.85zM293.5 202.0h1.85v2.36h-1.85zM295.3 202.0h1.85v2.36h-1.85zM297.2 202.0h1.85v2.36h-1.85zM338.0 202.0h1.85v2.36h-1.85zM343.6 202.0h1.85v2.36h-1.85zM399.2 202.0h1.85v2.36h-1.85zM436.3 202.0h1.85v2.36h-1.85zM441.9 202.0h1.85v2.36h-1.85zM302.8 199.7h1.85v2.36h-1.85zM334.3 199.7h1.85v2.36h-1.85zM347.3 199.7h1.85v2.36h-1.85zM430.7 199.7h1.85v2.36h-1.85zM434.5 199.7h1.85v2.36h-1.85zM295.3 197.3h1.85v2.36h-1.85zM297.2 197.3h1.85v2.36h-1.85zM308.3 197.3h1.85v2.36h-1.85zM336.1 197.3h1.85v2.36h-1.85zM430.7 197.3h1.85v2.36h-1.85zM334.3 192.6h1.85v2.36h-1.85zM302.8 190.2h1.85v2.36h-1.85zM406.6 190.2h1.85v2.36h-1.85zM410.3 190.2h1.85v2.36h-1.85zM304.6 187.9h1.85v2.36h-1.85zM414.0 187.9h1.85v2.36h-1.85zM427.0 187.9h1.85v2.36h-1.85zM430.7 187.9h1.85v2.36h-1.85zM434.5 187.9h1.85v2.36h-1.85zM436.3 187.9h1.85v2.36h-1.85zM402.9 185.5h1.85v2.36h-1.85zM425.2 185.5h1.85v2.36h-1.85zM300.9 183.2h1.85v2.36h-1.85zM339.8 183.2h1.85v2.36h-1.85zM325.0 180.8h1.85v2.36h-1.85zM423.3 180.8h1.85v2.36h-1.85zM315.7 178.4h1.85v2.36h-1.85zM319.4 178.4h1.85v2.36h-1.85zM326.9 178.4h1.85v2.36h-1.85zM347.3 178.4h1.85v2.36h-1.85zM297.2 176.1h1.85v2.36h-1.85zM306.5 176.1h1.85v2.36h-1.85zM308.3 176.1h1.85v2.36h-1.85zM326.9 176.1h1.85v2.36h-1.85zM347.3 176.1h1.85v2.36h-1.85zM317.6 173.7h1.85v2.36h-1.85zM325.0 173.7h1.85v2.36h-1.85zM345.4 173.7h1.85v2.36h-1.85zM308.3 171.4h1.85v2.36h-1.85zM336.1 171.4h1.85v2.36h-1.85zM326.9 169.0h1.85v2.36h-1.85zM417.8 159.6h1.85v2.36h-1.85zM432.6 159.6h1.85v2.36h-1.85zM427.0 157.2h1.85v2.36h-1.85zM423.3 154.8h1.85v2.36h-1.85zM428.9 154.8h1.85v2.36h-1.85zM325.0 152.5h1.85v2.36h-1.85zM417.8 152.5h1.85v2.36h-1.85zM423.3 152.5h1.85v2.36h-1.85zM425.2 152.5h1.85v2.36h-1.85zM425.2 150.1h1.85v2.36h-1.85zM325.0 147.8h1.85v2.36h-1.85zM326.9 147.8h1.85v2.36h-1.85zM423.3 147.8h1.85v2.36h-1.85zM326.9 145.4h1.85v2.36h-1.85zM325.0 143.0h1.85v2.36h-1.85zM412.2 143.0h1.85v2.36h-1.85zM415.9 143.0h1.85v2.36h-1.85zM417.8 143.0h1.85v2.36h-1.85zM323.2 140.7h1.85v2.36h-1.85zM419.6 140.7h1.85v2.36h-1.85zM336.1 138.3h1.85v2.36h-1.85zM423.3 138.3h1.85v2.36h-1.85zM425.2 138.3h1.85v2.36h-1.85zM325.0 136.0h1.85v2.36h-1.85zM332.4 136.0h1.85v2.36h-1.85zM336.1 133.6h1.85v2.36h-1.85zM415.9 133.6h1.85v2.36h-1.85zM425.2 133.6h1.85v2.36h-1.85zM412.2 131.2h1.85v2.36h-1.85zM421.5 131.2h1.85v2.36h-1.85zM330.6 128.9h1.85v2.36h-1.85zM425.2 128.9h1.85v2.36h-1.85zM427.0 128.9h1.85v2.36h-1.85zM428.9 128.9h1.85v2.36h-1.85zM414.0 126.5h1.85v2.36h-1.85zM423.3 126.5h1.85v2.36h-1.85zM428.9 126.5h1.85v2.36h-1.85zM414.0 124.2h1.85v2.36h-1.85zM415.9 124.2h1.85v2.36h-1.85zM421.5 124.2h1.85v2.36h-1.85zM425.2 124.2h1.85v2.36h-1.85zM325.0 121.8h1.85v2.36h-1.85zM410.3 121.8h1.85v2.36h-1.85zM414.0 121.8h1.85v2.36h-1.85zM419.6 121.8h1.85v2.36h-1.85zM319.4 119.4h1.85v2.36h-1.85zM323.2 119.4h1.85v2.36h-1.85zM325.0 119.4h1.85v2.36h-1.85zM412.2 119.4h1.85v2.36h-1.85zM419.6 119.4h1.85v2.36h-1.85zM421.5 119.4h1.85v2.36h-1.85zM423.3 119.4h1.85v2.36h-1.85zM425.2 119.4h1.85v2.36h-1.85zM430.7 119.4h1.85v2.36h-1.85zM319.4 117.1h1.85v2.36h-1.85zM415.9 117.1h1.85v2.36h-1.85zM423.3 117.1h1.85v2.36h-1.85zM334.3 114.7h1.85v2.36h-1.85zM419.6 114.7h1.85v2.36h-1.85zM421.5 114.7h1.85v2.36h-1.85zM321.3 112.4h1.85v2.36h-1.85zM330.6 112.4h1.85v2.36h-1.85zM414.0 112.4h1.85v2.36h-1.85zM427.0 112.4h1.85v2.36h-1.85zM428.9 112.4h1.85v2.36h-1.85zM430.7 112.4h1.85v2.36h-1.85zM321.3 110.0h1.85v2.36h-1.85zM326.9 110.0h1.85v2.36h-1.85zM330.6 110.0h1.85v2.36h-1.85zM317.6 107.6h1.85v2.36h-1.85zM323.2 107.6h1.85v2.36h-1.85zM325.0 107.6h1.85v2.36h-1.85zM415.9 107.6h1.85v2.36h-1.85zM423.3 107.6h1.85v2.36h-1.85zM425.2 107.6h1.85v2.36h-1.85zM317.6 105.3h1.85v2.36h-1.85zM325.0 105.3h1.85v2.36h-1.85zM423.3 105.3h1.85v2.36h-1.85zM321.3 102.9h1.85v2.36h-1.85zM323.2 102.9h1.85v2.36h-1.85zM325.0 100.6h1.85v2.36h-1.85zM328.7 100.6h1.85v2.36h-1.85zM332.4 100.6h1.85v2.36h-1.85zM334.3 100.6h1.85v2.36h-1.85zM323.2 95.8h1.85v2.36h-1.85zM323.2 93.5h1.85v2.36h-1.85zM286.1 213.4h1.85v2.80h-1.85zM293.5 213.4h1.85v2.80h-1.85zM360.3 213.4h1.85v2.80h-1.85zM373.2 213.4h1.85v2.80h-1.85zM376.9 213.4h1.85v2.80h-1.85zM380.7 213.4h1.85v2.80h-1.85zM386.2 213.4h1.85v2.80h-1.85zM408.5 213.4h1.85v2.80h-1.85zM412.2 213.4h1.85v2.80h-1.85zM419.6 213.4h1.85v2.80h-1.85zM425.2 213.4h1.85v2.80h-1.85zM445.6 213.4h1.85v2.80h-1.85zM454.9 213.4h1.85v2.80h-1.85zM464.1 213.4h1.85v2.80h-1.85zM300.9 216.2h1.85v4.30h-1.85zM319.4 216.2h1.85v4.30h-1.85zM323.2 216.2h1.85v4.30h-1.85zM389.9 216.2h1.85v4.30h-1.85zM393.6 216.2h1.85v4.30h-1.85zM401.1 216.2h1.85v4.30h-1.85zM421.5 216.2h1.85v4.30h-1.85zM423.3 216.2h1.85v4.30h-1.85zM445.6 216.2h1.85v4.30h-1.85zM449.3 216.2h1.85v4.30h-1.85zM451.1 216.2h1.85v4.30h-1.85zM466.0 216.2h1.85v4.30h-1.85z"/>
<path fill="#0000bf" d="M306.5 211.5h1.85v2.36h-1.85zM310.2 211.5h1.85v2.36h-1.85zM321.3 211.5h1.85v2.36h-1.85zM406.6 211.5h1.85v2.36h-1.85zM410.3 211.5h1.85v2.36h-1.85zM412.2 211.5h1.85v2.36h-1.85zM432.6 211.5h1.85v2.36h-1.85zM434.5 211.5h1.85v2.36h-1.85zM441.9 211.5h1.85v2.36h-1.85zM300.9 209.1h1.85v2.36h-1.85zM302.8 209.1h1.85v2.36h-1.85zM304.6 209.1h1.85v2.36h-1.85zM321.3 209.1h1.85v2.36h-1.85zM325.0 209.1h1.85v2.36h-1.85zM408.5 209.1h1.85v2.36h-1.85zM415.9 209.1h1.85v2.36h-1.85zM417.8 209.1h1.85v2.36h-1.85zM436.3 209.1h1.85v2.36h-1.85zM441.9 209.1h1.85v2.36h-1.85zM332.4 206.8h1.85v2.36h-1.85zM336.1 206.8h1.85v2.36h-1.85zM338.0 206.8h1.85v2.36h-1.85zM343.6 206.8h1.85v2.36h-1.85zM347.3 206.8h1.85v2.36h-1.85zM401.1 206.8h1.85v2.36h-1.85zM425.2 206.8h1.85v2.36h-1.85zM436.3 206.8h1.85v2.36h-1.85zM297.2 204.4h1.85v2.36h-1.85zM300.9 204.4h1.85v2.36h-1.85zM308.3 204.4h1.85v2.36h-1.85zM310.2 204.4h1.85v2.36h-1.85zM323.2 204.4h1.85v2.36h-1.85zM427.0 204.4h1.85v2.36h-1.85zM434.5 204.4h1.85v2.36h-1.85zM438.2 204.4h1.85v2.36h-1.85zM440.0 204.4h1.85v2.36h-1.85zM299.0 202.0h1.85v2.36h-1.85zM308.3 202.0h1.85v2.36h-1.85zM310.2 202.0h1.85v2.36h-1.85zM326.9 202.0h1.85v2.36h-1.85zM332.4 202.0h1.85v2.36h-1.85zM339.8 202.0h1.85v2.36h-1.85zM401.1 202.0h1.85v2.36h-1.85zM415.9 202.0h1.85v2.36h-1.85zM440.0 202.0h1.85v2.36h-1.85zM295.3 199.7h1.85v2.36h-1.85zM304.6 199.7h1.85v2.36h-1.85zM306.5 199.7h1.85v2.36h-1.85zM315.7 199.7h1.85v2.36h-1.85zM338.0 199.7h1.85v2.36h-1.85zM341.7 199.7h1.85v2.36h-1.85zM408.5 197.3h1.85v2.36h-1.85zM306.5 195.0h1.85v2.36h-1.85zM323.2 195.0h1.85v2.36h-1.85zM415.9 195.0h1.85v2.36h-1.85zM425.2 195.0h1.85v2.36h-1.85zM300.9 192.6h1.85v2.36h-1.85zM302.8 192.6h1.85v2.36h-1.85zM402.9 192.6h1.85v2.36h-1.85zM330.6 190.2h1.85v2.36h-1.85zM414.0 190.2h1.85v2.36h-1.85zM325.0 187.9h1.85v2.36h-1.85zM291.6 213.4h1.85v2.80h-1.85zM295.3 213.4h1.85v2.80h-1.85zM313.9 213.4h1.85v2.80h-1.85zM325.0 213.4h1.85v2.80h-1.85zM339.8 213.4h1.85v2.80h-1.85zM341.7 213.4h1.85v2.80h-1.85zM356.5 213.4h1.85v2.80h-1.85zM371.4 213.4h1.85v2.80h-1.85zM397.4 213.4h1.85v2.80h-1.85zM297.2 216.2h1.85v4.30h-1.85zM302.8 216.2h1.85v4.30h-1.85zM306.5 216.2h1.85v4.30h-1.85zM308.3 216.2h1.85v4.30h-1.85zM313.9 216.2h1.85v4.30h-1.85zM339.8 216.2h1.85v4.30h-1.85zM351.0 216.2h1.85v4.30h-1.85zM371.4 216.2h1.85v4.30h-1.85zM402.9 216.2h1.85v4.30h-1.85zM404.8 216.2h1.85v4.30h-1.85zM410.3 216.2h1.85v4.30h-1.85zM412.2 216.2h1.85v4.30h-1.85zM428.9 216.2h1.85v4.30h-1.85zM430.7 216.2h1.85v4.30h-1.85zM447.4 216.2h1.85v4.30h-1.85z"/>
<path fill="#0000d4" d="M343.6 209.1h1.85v2.36h-1.85zM419.6 206.8h1.85v2.36h-1.85zM404.8 204.4h1.85v2.36h-1.85zM406.6 204.4h1.85v2.36h-1.85zM412.2 204.4h1.85v2.36h-1.85zM321.3 202.0h1.85v2.36h-1.85zM402.9 202.0h1.85v2.36h-1.85zM408.5 202.0h1.85v2.36h-1.85zM417.8 202.0h1.85v2.36h-1.85zM419.6 202.0h1.85v2.36h-1.85zM421.5 202.0h1.85v2.36h-1.85zM427.0 202.0h1.85v2.36h-1.85zM312.0 199.7h1.85v2.36h-1.85zM319.4 199.7h1.85v2.36h-1.85zM328.7 199.7h1.85v2.36h-1.85zM412.2 199.7h1.85v2.36h-1.85zM312.0 197.3h1.85v2.36h-1.85zM325.0 197.3h1.85v2.36h-1.85zM410.3 197.3h1.85v2.36h-1.85zM419.6 197.3h1.85v2.36h-1.85zM425.2 197.3h1.85v2.36h-1.85zM315.7 195.0h1.85v2.36h-1.85zM325.0 195.0h1.85v2.36h-1.85zM408.5 195.0h1.85v2.36h-1.85zM412.2 195.0h1.85v2.36h-1.85zM427.0 195.0h1.85v2.36h-1.85zM304.6 192.6h1.85v2.36h-1.85zM317.6 192.6h1.85v2.36h-1.85zM321.3 192.6h1.85v2.36h-1.85zM410.3 192.6h1.85v2.36h-1.85zM306.5 190.2h1.85v2.36h-1.85zM325.0 190.2h1.85v2.36h-1.85zM328.7 190.2h1.85v2.36h-1.85zM415.9 190.2h1.85v2.36h-1.85zM317.6 187.9h1.85v2.36h-1.85zM321.3 187.9h1.85v2.36h-1.85zM323.2 187.9h1.85v2.36h-1.85zM326.9 187.9h1.85v2.36h-1.85zM317.6 185.5h1.85v2.36h-1.85zM319.4 185.5h1.85v2.36h-1.85zM375.1 213.4h1.85v2.80h-1.85zM293.5 216.2h1.85v4.30h-1.85zM321.3 216.2h1.85v4.30h-1.85zM325.0 216.2h1.85v4.30h-1.85zM328.7 216.2h1.85v4.30h-1.85zM360.3 216.2h1.85v4.30h-1.85zM362.1 216.2h1.85v4.30h-1.85zM380.7 216.2h1.85v4.30h-1.85zM436.3 216.2h1.85v4.30h-1.85zM454.9 216.2h1.85v4.30h-1.85zM462.3 216.2h1.85v4.30h-1.85z"/>
<path fill="#0000ea" d="M412.2 209.1h1.85v2.36h-1.85zM414.0 206.8h1.85v2.36h-1.85zM423.3 206.8h1.85v2.36h-1.85zM410.3 204.4h1.85v2.36h-1.85zM417.8 204.4h1.85v2.36h-1.85zM419.6 204.4h1.85v2.36h-1.85zM421.5 204.4h1.85v2.36h-1.85zM312.0 202.0h1.85v2.36h-1.85zM412.2 202.0h1.85v2.36h-1.85zM414.0 202.0h1.85v2.36h-1.85zM425.2 202.0h1.85v2.36h-1.85zM317.6 199.7h1.85v2.36h-1.85zM321.3 199.7h1.85v2.36h-1.85zM402.9 199.7h1.85v2.36h-1.85zM414.0 199.7h1.85v2.36h-1.85zM415.9 199.7h1.85v2.36h-1.85zM417.8 199.7h1.85v2.36h-1.85zM419.6 199.7h1.85v2.36h-1.85zM310.2 197.3h1.85v2.36h-1.85zM315.7 197.3h1.85v2.36h-1.85zM321.3 197.3h1.85v2.36h-1.85zM414.0 197.3h1.85v2.36h-1.85zM415.9 197.3h1.85v2.36h-1.85zM421.5 197.3h1.85v2.36h-1.85zM313.9 195.0h1.85v2.36h-1.85zM317.6 195.0h1.85v2.36h-1.85zM319.4 195.0h1.85v2.36h-1.85zM423.3 195.0h1.85v2.36h-1.85zM310.2 192.6h1.85v2.36h-1.85zM315.7 192.6h1.85v2.36h-1.85zM408.5 192.6h1.85v2.36h-1.85zM412.2 192.6h1.85v2.36h-1.85zM414.0 192.6h1.85v2.36h-1.85zM417.8 192.6h1.85v2.36h-1.85zM315.7 190.2h1.85v2.36h-1.85zM321.3 190.2h1.85v2.36h-1.85zM308.3 187.9h1.85v2.36h-1.85zM312.0 187.9h1.85v2.36h-1.85zM287.9 216.2h1.85v4.30h-1.85zM295.3 216.2h1.85v4.30h-1.85zM315.7 216.2h1.85v4.30h-1.85zM330.6 216.2h1.85v4.30h-1.85zM349.1 216.2h1.85v4.30h-1.85zM369.5 216.2h1.85v4.30h-1.85zM376.9 216.2h1.85v4.30h-1.85zM395.5 216.2h1.85v4.30h-1.85zM397.4 216.2h1.85v4.30h-1.85zM406.6 216.2h1.85v4.30h-1.85zM415.9 216.2h1.85v4.30h-1.85zM419.6 216.2h1.85v4.30h-1.85zM456.7 216.2h1.85v4.30h-1.85z"/>
<path fill="#0000ff" d="M412.2 206.8h1.85v2.36h-1.85zM319.4 202.0h1.85v2.36h-1.85zM423.3 202.0h1.85v2.36h-1.85zM313.9 199.7h1.85v2.36h-1.85zM408.5 199.7h1.85v2.36h-1.85zM423.3 199.7h1.85v2.36h-1.85zM425.2 199.7h1.85v2.36h-1.85zM323.2 197.3h1.85v2.36h-1.85zM412.2 197.3h1.85v2.36h-1.85zM421.5 195.0h1.85v2.36h-1.85zM319.4 192.6h1.85v2.36h-1.85zM312.0 190.2h1.85v2.36h-1.85zM323.2 190.2h1.85v2.36h-1.85zM367.7 216.2h1.85v4.30h-1.85z"/>
<path fill="#0015ff" d="M404.8 199.7h1.85v2.36h-1.85zM306.5 197.3h1.85v2.36h-1.85zM313.9 190.2h1.85v2.36h-1.85zM352.8 216.2h1.85v4.30h-1.85zM417.8 216.2h1.85v4.30h-1.85zM440.0 216.2h1.85v4.30h-1.85z"/>
<path fill="#0055ff" d="M312.0 216.2h1.85v4.30h-1.85z"/>
<path fill="#002aff" d="M334.3 216.2h1.85v4.30h-1.85zM438.2 216.2h1.85v4.30h-1.85z"/>
<path fill="#15ffea" d="M284.2 220.5h1.85v2.80h-1.85zM293.5 220.5h1.85v2.80h-1.85zM300.9 220.5h1.85v2.80h-1.85zM310.2 220.5h1.85v2.80h-1.85zM328.7 220.5h1.85v2.80h-1.85zM356.5 220.5h1.85v2.80h-1.85zM358.4 220.5h1.85v2.80h-1.85zM360.3 220.5h1.85v2.80h-1.85zM365.8 220.5h1.85v2.80h-1.85zM373.2 220.5h1.85v2.80h-1.85zM401.1 220.5h1.85v2.80h-1.85zM406.6 220.5h1.85v2.80h-1.85zM438.2 220.5h1.85v2.80h-1.85zM456.7 220.5h1.85v2.80h-1.85zM464.1 220.5h1.85v2.80h-1.85z"/>
<path fill="#00ffff" d="M286.1 220.5h1.85v2.80h-1.85zM287.9 220.5h1.85v2.80h-1.85zM291.6 220.5h1.85v2.80h-1.85zM297.2 220.5h1.85v2.80h-1.85zM304.6 220.5h1.85v2.80h-1.85zM306.5 220.5h1.85v2.80h-1.85zM313.9 220.5h1.85v2.80h-1.85zM326.9 220.5h1.85v2.80h-1.85zM330.6 220.5h1.85v2.80h-1.85zM338.0 220.5h1.85v2.80h-1.85zM339.8 220.5h1.85v2.80h-1.85zM343.6 220.5h1.85v2.80h-1.85zM362.1 220.5h1.85v2.80h-1.85zM384.4 220.5h1.85v2.80h-1.85zM386.2 220.5h1.85v2.80h-1.85zM389.9 220.5h1.85v2.80h-1.85zM393.6 220.5h1.85v2.80h-1.85zM404.8 220.5h1.85v2.80h-1.85zM408.5 220.5h1.85v2.80h-1.85zM415.9 220.5h1.85v2.80h-1.85zM423.3 220.5h1.85v2.80h-1.85zM432.6 220.5h1.85v2.80h-1.85z"/>
<path fill="#2bffd4" d="M289.8 220.5h1.85v2.80h-1.85zM319.4 220.5h1.85v2.80h-1.85zM336.1 220.5h1.85v2.80h-1.85zM427.0 220.5h1.85v2.80h-1.85zM445.6 220.5h1.85v2.80h-1.85zM466.0 220.5h1.85v2.80h-1.85zM467.8 220.5h1.85v2.80h-1.85z"/>
<path fill="#00aaff" d="M295.3 220.5h1.85v2.80h-1.85zM349.1 220.5h1.85v2.80h-1.85zM443.7 220.5h1.85v2.80h-1.85z"/>
<path fill="#00eaff" d="M299.0 220.5h1.85v2.80h-1.85zM308.3 220.5h1.85v2.80h-1.85zM312.0 220.5h1.85v2.80h-1.85zM317.6 220.5h1.85v2.80h-1.85zM325.0 220.5h1.85v2.80h-1.85zM334.3 220.5h1.85v2.80h-1.85zM341.7 220.5h1.85v2.80h-1.85zM345.4 220.5h1.85v2.80h-1.85zM352.8 220.5h1.85v2.80h-1.85zM364.0 220.5h1.85v2.80h-1.85zM367.7 220.5h1.85v2.80h-1.85zM369.5 220.5h1.85v2.80h-1.85zM375.1 220.5h1.85v2.80h-1.85zM376.9 220.5h1.85v2.80h-1.85zM378.8 220.5h1.85v2.80h-1.85zM380.7 220.5h1.85v2.80h-1.85zM388.1 220.5h1.85v2.80h-1.85zM391.8 220.5h1.85v2.80h-1.85zM395.5 220.5h1.85v2.80h-1.85zM397.4 220.5h1.85v2.80h-1.85zM399.2 220.5h1.85v2.80h-1.85zM402.9 220.5h1.85v2.80h-1.85zM412.2 220.5h1.85v2.80h-1.85zM417.8 220.5h1.85v2.80h-1.85zM421.5 220.5h1.85v2.80h-1.85zM425.2 220.5h1.85v2.80h-1.85zM430.7 220.5h1.85v2.80h-1.85zM434.5 220.5h1.85v2.80h-1.85zM436.3 220.5h1.85v2.80h-1.85zM447.4 220.5h1.85v2.80h-1.85zM451.1 220.5h1.85v2.80h-1.85zM453.0 220.5h1.85v2.80h-1.85zM460.4 220.5h1.85v2.80h-1.85zM462.3 220.5h1.85v2.80h-1.85z"/>
<path fill="#00d4ff" d="M302.8 220.5h1.85v2.80h-1.85zM315.7 220.5h1.85v2.80h-1.85zM321.3 220.5h1.85v2.80h-1.85zM351.0 220.5h1.85v2.80h-1.85zM354.7 220.5h1.85v2.80h-1.85zM371.4 220.5h1.85v2.80h-1.85zM382.5 220.5h1.85v2.80h-1.85zM410.3 220.5h1.85v2.80h-1.85zM419.6 220.5h1.85v2.80h-1.85zM428.9 220.5h1.85v2.80h-1.85zM440.0 220.5h1.85v2.80h-1.85zM441.9 220.5h1.85v2.80h-1.85zM449.3 220.5h1.85v2.80h-1.85zM454.9 220.5h1.85v2.80h-1.85zM458.6 220.5h1.85v2.80h-1.85z"/>
<path fill="#00bfff" d="M323.2 220.5h1.85v2.80h-1.85zM332.4 220.5h1.85v2.80h-1.85zM347.3 220.5h1.85v2.80h-1.85zM414.0 220.5h1.85v2.80h-1.85z"/>
<path fill="#ffd500" d="M284.2 223.3h1.85v3.00h-1.85zM286.1 223.3h1.85v3.00h-1.85zM287.9 223.3h1.85v3.00h-1.85zM323.2 223.3h1.85v3.00h-1.85zM345.4 223.3h1.85v3.00h-1.85zM356.5 223.3h1.85v3.00h-1.85zM369.5 223.3h1.85v3.00h-1.85zM373.2 223.3h1.85v3.00h-1.85zM384.4 223.3h1.85v3.00h-1.85zM404.8 223.3h1.85v3.00h-1.85zM408.5 223.3h1.85v3.00h-1.85zM415.9 223.3h1.85v3.00h-1.85zM436.3 223.3h1.85v3.00h-1.85zM443.7 223.3h1.85v3.00h-1.85zM447.4 223.3h1.85v3.00h-1.85z"/>
<path fill="#ff8000" d="M289.8 223.3h1.85v3.00h-1.85zM293.5 223.3h1.85v3.00h-1.85zM310.2 223.3h1.85v3.00h-1.85zM464.1 223.3h1.85v3.00h-1.85z"/>
<path fill="#ffaa00" d="M291.6 223.3h1.85v3.00h-1.85zM325.0 223.3h1.85v3.00h-1.85zM375.1 223.3h1.85v3.00h-1.85zM397.4 223.3h1.85v3.00h-1.85zM399.2 223.3h1.85v3.00h-1.85zM419.6 223.3h1.85v3.00h-1.85zM440.0 223.3h1.85v3.00h-1.85zM458.6 223.3h1.85v3.00h-1.85z"/>
<path fill="#ffea00" d="M295.3 223.3h1.85v3.00h-1.85zM306.5 223.3h1.85v3.00h-1.85zM321.3 223.3h1.85v3.00h-1.85zM326.9 223.3h1.85v3.00h-1.85zM330.6 223.3h1.85v3.00h-1.85zM334.3 223.3h1.85v3.00h-1.85zM341.7 223.3h1.85v3.00h-1.85zM365.8 223.3h1.85v3.00h-1.85zM371.4 223.3h1.85v3.00h-1.85zM378.8 223.3h1.85v3.00h-1.85zM388.1 223.3h1.85v3.00h-1.85zM391.8 223.3h1.85v3.00h-1.85zM406.6 223.3h1.85v3.00h-1.85zM412.2 223.3h1.85v3.00h-1.85zM428.9 223.3h1.85v3.00h-1.85zM430.7 223.3h1.85v3.00h-1.85zM454.9 223.3h1.85v3.00h-1.85z"/>
<path fill="#ffbf00" d="M297.2 223.3h1.85v3.00h-1.85zM308.3 223.3h1.85v3.00h-1.85zM332.4 223.3h1.85v3.00h-1.85zM338.0 223.3h1.85v3.00h-1.85zM351.0 223.3h1.85v3.00h-1.85zM354.7 223.3h1.85v3.00h-1.85zM358.4 223.3h1.85v3.00h-1.85zM362.1 223.3h1.85v3.00h-1.85zM364.0 223.3h1.85v3.00h-1.85zM367.7 223.3h1.85v3.00h-1.85zM382.5 223.3h1.85v3.00h-1.85zM393.6 223.3h1.85v3.00h-1.85zM395.5 223.3h1.85v3.00h-1.85zM417.8 223.3h1.85v3.00h-1.85zM425.2 223.3h1.85v3.00h-1.85zM441.9 223.3h1.85v3.00h-1.85zM449.3 223.3h1.85v3.00h-1.85zM462.3 223.3h1.85v3.00h-1.85zM466.0 223.3h1.85v3.00h-1.85z"/>
<path fill="#ff9500" d="M299.0 223.3h1.85v3.00h-1.85zM302.8 223.3h1.85v3.00h-1.85zM319.4 223.3h1.85v3.00h-1.85zM336.1 223.3h1.85v3.00h-1.85zM380.7 223.3h1.85v3.00h-1.85zM389.9 223.3h1.85v3.00h-1.85zM401.1 223.3h1.85v3.00h-1.85zM421.5 223.3h1.85v3.00h-1.85zM438.2 223.3h1.85v3.00h-1.85z"/>
<path fill="#ffff00" d="M300.9 223.3h1.85v3.00h-1.85zM304.6 223.3h1.85v3.00h-1.85zM312.0 223.3h1.85v3.00h-1.85zM315.7 223.3h1.85v3.00h-1.85zM317.6 223.3h1.85v3.00h-1.85zM339.8 223.3h1.85v3.00h-1.85zM347.3 223.3h1.85v3.00h-1.85zM376.9 223.3h1.85v3.00h-1.85zM386.2 223.3h1.85v3.00h-1.85zM423.3 223.3h1.85v3.00h-1.85zM432.6 223.3h1.85v3.00h-1.85zM445.6 223.3h1.85v3.00h-1.85zM453.0 223.3h1.85v3.00h-1.85zM456.7 223.3h1.85v3.00h-1.85zM467.8 223.3h1.85v3.00h-1.85z"/>
<path fill="#95ff6a" d="M313.9 223.3h1.85v3.00h-1.85z"/>
<path fill="#eaff15" d="M328.7 223.3h1.85v3.00h-1.85zM349.1 223.3h1.85v3.00h-1.85zM352.8 223.3h1.85v3.00h-1.85zM360.3 223.3h1.85v3.00h-1.85zM402.9 223.3h1.85v3.00h-1.85zM410.3 223.3h1.85v3.00h-1.85zM434.5 223.3h1.85v3.00h-1.85zM451.1 223.3h1.85v3.00h-1.85zM460.4 223.3h1.85v3.00h-1.85z"/>
<path fill="#d5ff2a" d="M343.6 223.3h1.85v3.00h-1.85zM427.0 223.3h1.85v3.00h-1.85z"/>
<path fill="#bfff40" d="M414.0 223.3h1.85v3.00h-1.85z"/>
<polyline points="284.2,116.3 285.7,110.6 287.3,104.9 288.8,99.3 290.4,93.7 291.9,88.2 293.5,82.7 295.0,77.3 296.6,72.1 298.1,67.0 299.7,62.0 301.2,57.1 302.8,52.4 304.3,47.9 305.8,43.6 307.4,39.4 308.9,35.5 310.5,31.8 312.0,28.4 313.6,25.1 315.1,22.2 316.7,19.4 318.2,17.0 319.8,14.8 321.3,12.9 322.8,11.3 324.4,10.0 325.9,8.9 327.5,8.2 329.0,7.7 330.6,7.6 332.1,7.7 333.7,8.2 335.2,8.9 336.8,10.0 338.3,11.3 339.8,12.9 341.4,14.8 342.9,17.0 344.5,19.4 346.0,22.2 347.6,25.1 349.1,28.4 350.7,31.8 352.2,35.5 353.8,39.4 355.3,43.6 356.9,47.9 358.4,52.4 359.9,57.1 361.5,62.0 363.0,67.0 364.6,72.1 366.1,77.3 367.7,82.7 369.2,88.2 370.8,93.7 372.3,99.3 373.9,104.9 375.4,110.6 376.9,116.3 378.5,122.0 380.0,127.7 381.6,133.3 383.1,138.9 384.7,144.4 386.2,149.9 387.8,155.3 389.3,160.5 390.9,165.6 392.4,170.7 394.0,175.5 395.5,180.2 397.0,184.7 398.6,189.0 400.1,193.2 401.7,197.1 403.2,200.8 404.8,204.2 406.3,207.5 407.9,210.4 409.4,213.2 411.0,215.6 412.5,217.8 414.0,219.7 415.6,221.3 417.1,222.6 418.7,223.7 420.2,224.4 421.8,224.9 423.3,225.0 424.9,224.9 426.4,224.4 428.0,223.7 429.5,222.6 431.1,221.3 432.6,219.7 434.1,217.8 435.7,215.6 437.2,213.2 438.8,210.4 440.3,207.5 441.9,204.2 443.4,200.8 445.0,197.1 446.5,193.2 448.1,189.0 449.6,184.7 451.1,180.2 452.7,175.5 454.2,170.7 455.8,165.6 457.3,160.5 458.9,155.3 460.4,149.9 462.0,144.4 463.5,138.9 465.1,133.3 466.6,127.7 468.2,122.0 469.7,116.3" fill="none" stroke="#cbcbcb" stroke-width="0.95"/>
<rect x="284.2" y="4.2" width="185.50" height="224.50" fill="none" stroke="#5a5a5a" stroke-width="0.8"/>
</g>
<text class="tk" x="274.7" y="232.4" textLength="6.2" lengthAdjust="spacingAndGlyphs">0</text>
<text class="tk" x="268.5" y="185.2" textLength="12.4" lengthAdjust="spacingAndGlyphs">64</text>
<text class="tk" x="262.3" y="138.0" textLength="18.6" lengthAdjust="spacingAndGlyphs">128</text>
<text class="tk" x="262.3" y="90.8" textLength="18.6" lengthAdjust="spacingAndGlyphs">192</text>
<text class="tk" x="262.3" y="43.6" textLength="18.6" lengthAdjust="spacingAndGlyphs">256</text>
<text class="tk" x="281.1" y="241.4" textLength="6.2" lengthAdjust="spacingAndGlyphs">0</text>
<text class="tk" x="324.5" y="241.4" textLength="12.4" lengthAdjust="spacingAndGlyphs">90</text>
<text class="tk" x="368.3" y="241.4" textLength="18.6" lengthAdjust="spacingAndGlyphs">180</text>
<text class="tk" x="413.0" y="241.4" textLength="18.6" lengthAdjust="spacingAndGlyphs">270</text>
<text class="tk" x="453.2" y="241.4" textLength="18.6" lengthAdjust="spacingAndGlyphs">360</text>
<text class="lb" style="font-size:11.6px" transform="translate(258.3,114.7) rotate(-90)" text-anchor="middle" textLength="119" lengthAdjust="spacing">Magnitude of PD (mV)</text>
<text class="lb" x="353.5" y="253.6" textLength="30.6" lengthAdjust="spacingAndGlyphs">Phase</text>
<text class="lb" x="388.0" y="253.6" textLength="11.6" lengthAdjust="spacingAndGlyphs">(<tspan dy="2.6">°</tspan><tspan dy="-2.6">)</tspan></text>
<text class="cp" x="382.3" y="266.2" text-anchor="middle">(b) Free metal discharge</text>
<g>
<rect x="42.2" y="277.0" width="187.80" height="223.80" fill="#828282"/>
<path d="M42.2 496.5h187.8M42.2 489.5h187.8M42.2 481.5h187.8M42.2 473.5h187.8M42.2 466.5h187.8M42.2 458.5h187.8M42.2 450.5h187.8M42.2 443.5h187.8M42.2 435.5h187.8M42.2 427.5h187.8M42.2 419.5h187.8M42.2 412.5h187.8M42.2 404.5h187.8M42.2 396.5h187.8M42.2 389.5h187.8M42.2 381.5h187.8M42.2 373.5h187.8M42.2 366.5h187.8M42.2 358.5h187.8M42.2 350.5h187.8M42.2 342.5h187.8M42.2 335.5h187.8M42.2 327.5h187.8M42.2 319.5h187.8M42.2 312.5h187.8M42.2 304.5h187.8M42.2 296.5h187.8M42.2 289.5h187.8M42.2 281.5h187.8" stroke="#939393" stroke-width="1" fill="none"/>
<path d="M42.2 496.5h1.6M42.2 489.5h1.6M42.2 481.5h1.6M42.2 473.5h1.6M42.2 466.5h1.6M42.2 458.5h1.6M42.2 450.5h1.6M42.2 443.5h1.6M42.2 435.5h1.6M42.2 427.5h1.6M42.2 419.5h1.6M42.2 412.5h1.6M42.2 404.5h1.6M42.2 396.5h1.6M42.2 389.5h1.6M42.2 381.5h1.6M42.2 373.5h1.6M42.2 366.5h1.6M42.2 358.5h1.6M42.2 350.5h1.6M42.2 342.5h1.6M42.2 335.5h1.6M42.2 327.5h1.6M42.2 319.5h1.6M42.2 312.5h1.6M42.2 304.5h1.6M42.2 296.5h1.6M42.2 289.5h1.6M42.2 281.5h1.6M42.5 500.8v-1.6M65.5 500.8v-1.6M89.5 500.8v-1.6M112.5 500.8v-1.6M136.5 500.8v-1.6M159.5 500.8v-1.6M183.5 500.8v-1.6M206.5 500.8v-1.6M230.5 500.8v-1.6" stroke="#3a3a3a" stroke-width="1" fill="none"/>
<line x1="65.50" y1="277.0" x2="65.50" y2="500.8" stroke="#909090" stroke-width="1"/>
<line x1="112.50" y1="277.0" x2="112.50" y2="500.8" stroke="#909090" stroke-width="1"/>
<line x1="159.50" y1="277.0" x2="159.50" y2="500.8" stroke="#909090" stroke-width="1"/>
<line x1="206.50" y1="277.0" x2="206.50" y2="500.8" stroke="#909090" stroke-width="1"/>
<line x1="89.50" y1="277.0" x2="89.50" y2="500.8" stroke="#747474" stroke-width="1"/>
<line x1="136.50" y1="277.0" x2="136.50" y2="500.8" stroke="#747474" stroke-width="1"/>
<line x1="183.50" y1="277.0" x2="183.50" y2="500.8" stroke="#747474" stroke-width="1"/>
<path fill="#000080" d="M87.3 489.0h1.88v2.36h-1.88zM53.5 477.2h1.88v2.36h-1.88zM53.5 446.5h1.88v2.36h-1.88zM55.3 411.1h1.88v2.36h-1.88zM96.7 387.5h1.88v2.36h-1.88zM96.7 385.2h1.88v2.36h-1.88zM98.5 375.7h1.88v2.36h-1.88zM134.2 373.4h1.88v2.36h-1.88zM156.8 373.4h1.88v2.36h-1.88zM198.1 373.4h1.88v2.36h-1.88zM98.5 354.5h1.88v2.36h-1.88zM209.3 335.6h1.88v2.36h-1.88zM66.6 316.7h1.88v2.36h-1.88zM203.7 309.6h1.88v2.36h-1.88zM51.6 487.5h1.88v3.50h-1.88zM53.5 487.5h1.88v3.50h-1.88zM57.2 487.5h1.88v3.50h-1.88zM74.1 487.5h1.88v3.50h-1.88zM81.6 487.5h1.88v3.50h-1.88zM89.2 487.5h1.88v3.50h-1.88zM96.7 487.5h1.88v3.50h-1.88zM145.5 487.5h1.88v3.50h-1.88zM147.4 487.5h1.88v3.50h-1.88zM162.4 487.5h1.88v3.50h-1.88zM168.0 487.5h1.88v3.50h-1.88zM169.9 487.5h1.88v3.50h-1.88zM186.8 487.5h1.88v3.50h-1.88zM198.1 487.5h1.88v3.50h-1.88zM211.2 487.5h1.88v3.50h-1.88zM224.4 487.5h1.88v3.50h-1.88zM42.2 491.0h1.88v3.00h-1.88zM196.2 491.0h1.88v3.00h-1.88z"/>
<path fill="#000095" d="M57.2 486.6h1.88v2.36h-1.88zM64.7 486.6h1.88v2.36h-1.88zM72.2 486.6h1.88v2.36h-1.88zM76.0 486.6h1.88v2.36h-1.88zM83.5 486.6h1.88v2.36h-1.88zM100.4 486.6h1.88v2.36h-1.88zM139.9 486.6h1.88v2.36h-1.88zM149.2 486.6h1.88v2.36h-1.88zM151.1 486.6h1.88v2.36h-1.88zM153.0 486.6h1.88v2.36h-1.88zM156.8 486.6h1.88v2.36h-1.88zM160.5 486.6h1.88v2.36h-1.88zM166.1 486.6h1.88v2.36h-1.88zM175.5 486.6h1.88v2.36h-1.88zM183.1 486.6h1.88v2.36h-1.88zM196.2 486.6h1.88v2.36h-1.88zM200.0 486.6h1.88v2.36h-1.88zM222.5 486.6h1.88v2.36h-1.88zM47.8 484.3h1.88v2.36h-1.88zM49.7 484.3h1.88v2.36h-1.88zM51.6 484.3h1.88v2.36h-1.88zM53.5 484.3h1.88v2.36h-1.88zM59.1 484.3h1.88v2.36h-1.88zM62.9 484.3h1.88v2.36h-1.88zM72.2 484.3h1.88v2.36h-1.88zM79.8 484.3h1.88v2.36h-1.88zM81.6 484.3h1.88v2.36h-1.88zM85.4 484.3h1.88v2.36h-1.88zM89.2 484.3h1.88v2.36h-1.88zM96.7 484.3h1.88v2.36h-1.88zM102.3 484.3h1.88v2.36h-1.88zM104.2 484.3h1.88v2.36h-1.88zM117.3 484.3h1.88v2.36h-1.88zM132.3 484.3h1.88v2.36h-1.88zM138.0 484.3h1.88v2.36h-1.88zM141.7 484.3h1.88v2.36h-1.88zM149.2 484.3h1.88v2.36h-1.88zM151.1 484.3h1.88v2.36h-1.88zM154.9 484.3h1.88v2.36h-1.88zM156.8 484.3h1.88v2.36h-1.88zM160.5 484.3h1.88v2.36h-1.88zM164.3 484.3h1.88v2.36h-1.88zM169.9 484.3h1.88v2.36h-1.88zM184.9 484.3h1.88v2.36h-1.88zM192.4 484.3h1.88v2.36h-1.88zM200.0 484.3h1.88v2.36h-1.88zM201.8 484.3h1.88v2.36h-1.88zM211.2 484.3h1.88v2.36h-1.88zM216.9 484.3h1.88v2.36h-1.88zM218.7 484.3h1.88v2.36h-1.88zM51.6 481.9h1.88v2.36h-1.88zM57.2 481.9h1.88v2.36h-1.88zM59.1 481.9h1.88v2.36h-1.88zM68.5 481.9h1.88v2.36h-1.88zM70.4 481.9h1.88v2.36h-1.88zM76.0 481.9h1.88v2.36h-1.88zM85.4 481.9h1.88v2.36h-1.88zM96.7 481.9h1.88v2.36h-1.88zM98.5 481.9h1.88v2.36h-1.88zM104.2 481.9h1.88v2.36h-1.88zM106.1 481.9h1.88v2.36h-1.88zM115.4 481.9h1.88v2.36h-1.88zM123.0 481.9h1.88v2.36h-1.88zM130.5 481.9h1.88v2.36h-1.88zM134.2 481.9h1.88v2.36h-1.88zM141.7 481.9h1.88v2.36h-1.88zM143.6 481.9h1.88v2.36h-1.88zM147.4 481.9h1.88v2.36h-1.88zM151.1 481.9h1.88v2.36h-1.88zM153.0 481.9h1.88v2.36h-1.88zM158.6 481.9h1.88v2.36h-1.88zM160.5 481.9h1.88v2.36h-1.88zM162.4 481.9h1.88v2.36h-1.88zM166.1 481.9h1.88v2.36h-1.88zM171.8 481.9h1.88v2.36h-1.88zM181.2 481.9h1.88v2.36h-1.88zM183.1 481.9h1.88v2.36h-1.88zM190.6 481.9h1.88v2.36h-1.88zM196.2 481.9h1.88v2.36h-1.88zM201.8 481.9h1.88v2.36h-1.88zM205.6 481.9h1.88v2.36h-1.88zM207.5 481.9h1.88v2.36h-1.88zM213.1 481.9h1.88v2.36h-1.88zM218.7 481.9h1.88v2.36h-1.88zM66.6 479.6h1.88v2.36h-1.88zM68.5 479.6h1.88v2.36h-1.88zM70.4 479.6h1.88v2.36h-1.88zM76.0 479.6h1.88v2.36h-1.88zM77.9 479.6h1.88v2.36h-1.88zM81.6 479.6h1.88v2.36h-1.88zM91.0 479.6h1.88v2.36h-1.88zM92.9 479.6h1.88v2.36h-1.88zM117.3 479.6h1.88v2.36h-1.88zM153.0 479.6h1.88v2.36h-1.88zM156.8 479.6h1.88v2.36h-1.88zM162.4 479.6h1.88v2.36h-1.88zM164.3 479.6h1.88v2.36h-1.88zM166.1 479.6h1.88v2.36h-1.88zM168.0 479.6h1.88v2.36h-1.88zM173.7 479.6h1.88v2.36h-1.88zM177.4 479.6h1.88v2.36h-1.88zM186.8 479.6h1.88v2.36h-1.88zM188.7 479.6h1.88v2.36h-1.88zM196.2 479.6h1.88v2.36h-1.88zM200.0 479.6h1.88v2.36h-1.88zM203.7 479.6h1.88v2.36h-1.88zM62.9 477.2h1.88v2.36h-1.88zM64.7 477.2h1.88v2.36h-1.88zM66.6 477.2h1.88v2.36h-1.88zM68.5 477.2h1.88v2.36h-1.88zM70.4 477.2h1.88v2.36h-1.88zM81.6 477.2h1.88v2.36h-1.88zM85.4 477.2h1.88v2.36h-1.88zM89.2 477.2h1.88v2.36h-1.88zM98.5 477.2h1.88v2.36h-1.88zM141.7 477.2h1.88v2.36h-1.88zM153.0 477.2h1.88v2.36h-1.88zM154.9 477.2h1.88v2.36h-1.88zM158.6 477.2h1.88v2.36h-1.88zM162.4 477.2h1.88v2.36h-1.88zM168.0 477.2h1.88v2.36h-1.88zM169.9 477.2h1.88v2.36h-1.88zM173.7 477.2h1.88v2.36h-1.88zM179.3 477.2h1.88v2.36h-1.88zM181.2 477.2h1.88v2.36h-1.88zM188.7 477.2h1.88v2.36h-1.88zM192.4 477.2h1.88v2.36h-1.88zM55.3 474.8h1.88v2.36h-1.88zM57.2 474.8h1.88v2.36h-1.88zM62.9 474.8h1.88v2.36h-1.88zM64.7 474.8h1.88v2.36h-1.88zM70.4 474.8h1.88v2.36h-1.88zM74.1 474.8h1.88v2.36h-1.88zM76.0 474.8h1.88v2.36h-1.88zM79.8 474.8h1.88v2.36h-1.88zM83.5 474.8h1.88v2.36h-1.88zM92.9 474.8h1.88v2.36h-1.88zM96.7 474.8h1.88v2.36h-1.88zM115.4 474.8h1.88v2.36h-1.88zM149.2 474.8h1.88v2.36h-1.88zM156.8 474.8h1.88v2.36h-1.88zM162.4 474.8h1.88v2.36h-1.88zM164.3 474.8h1.88v2.36h-1.88zM168.0 474.8h1.88v2.36h-1.88zM177.4 474.8h1.88v2.36h-1.88zM179.3 474.8h1.88v2.36h-1.88zM184.9 474.8h1.88v2.36h-1.88zM194.3 474.8h1.88v2.36h-1.88zM55.3 472.5h1.88v2.36h-1.88zM59.1 472.5h1.88v2.36h-1.88zM61.0 472.5h1.88v2.36h-1.88zM62.9 472.5h1.88v2.36h-1.88zM64.7 472.5h1.88v2.36h-1.88zM68.5 472.5h1.88v2.36h-1.88zM74.1 472.5h1.88v2.36h-1.88zM77.9 472.5h1.88v2.36h-1.88zM92.9 472.5h1.88v2.36h-1.88zM107.9 472.5h1.88v2.36h-1.88zM153.0 472.5h1.88v2.36h-1.88zM156.8 472.5h1.88v2.36h-1.88zM160.5 472.5h1.88v2.36h-1.88zM162.4 472.5h1.88v2.36h-1.88zM169.9 472.5h1.88v2.36h-1.88zM171.8 472.5h1.88v2.36h-1.88zM183.1 472.5h1.88v2.36h-1.88zM194.3 472.5h1.88v2.36h-1.88zM55.3 470.1h1.88v2.36h-1.88zM57.2 470.1h1.88v2.36h-1.88zM61.0 470.1h1.88v2.36h-1.88zM62.9 470.1h1.88v2.36h-1.88zM64.7 470.1h1.88v2.36h-1.88zM70.4 470.1h1.88v2.36h-1.88zM76.0 470.1h1.88v2.36h-1.88zM79.8 470.1h1.88v2.36h-1.88zM81.6 470.1h1.88v2.36h-1.88zM107.9 470.1h1.88v2.36h-1.88zM156.8 470.1h1.88v2.36h-1.88zM158.6 470.1h1.88v2.36h-1.88zM168.0 470.1h1.88v2.36h-1.88zM169.9 470.1h1.88v2.36h-1.88zM173.7 470.1h1.88v2.36h-1.88zM179.3 470.1h1.88v2.36h-1.88zM184.9 470.1h1.88v2.36h-1.88zM186.8 470.1h1.88v2.36h-1.88zM190.6 470.1h1.88v2.36h-1.88zM194.3 470.1h1.88v2.36h-1.88zM61.0 467.8h1.88v2.36h-1.88zM62.9 467.8h1.88v2.36h-1.88zM64.7 467.8h1.88v2.36h-1.88zM66.6 467.8h1.88v2.36h-1.88zM70.4 467.8h1.88v2.36h-1.88zM72.2 467.8h1.88v2.36h-1.88zM76.0 467.8h1.88v2.36h-1.88zM77.9 467.8h1.88v2.36h-1.88zM79.8 467.8h1.88v2.36h-1.88zM81.6 467.8h1.88v2.36h-1.88zM92.9 467.8h1.88v2.36h-1.88zM96.7 467.8h1.88v2.36h-1.88zM124.8 467.8h1.88v2.36h-1.88zM147.4 467.8h1.88v2.36h-1.88zM149.2 467.8h1.88v2.36h-1.88zM151.1 467.8h1.88v2.36h-1.88zM154.9 467.8h1.88v2.36h-1.88zM156.8 467.8h1.88v2.36h-1.88zM162.4 467.8h1.88v2.36h-1.88zM166.1 467.8h1.88v2.36h-1.88zM168.0 467.8h1.88v2.36h-1.88zM169.9 467.8h1.88v2.36h-1.88zM171.8 467.8h1.88v2.36h-1.88zM177.4 467.8h1.88v2.36h-1.88zM179.3 467.8h1.88v2.36h-1.88zM194.3 467.8h1.88v2.36h-1.88zM55.3 465.4h1.88v2.36h-1.88zM66.6 465.4h1.88v2.36h-1.88zM68.5 465.4h1.88v2.36h-1.88zM70.4 465.4h1.88v2.36h-1.88zM74.1 465.4h1.88v2.36h-1.88zM76.0 465.4h1.88v2.36h-1.88zM79.8 465.4h1.88v2.36h-1.88zM81.6 465.4h1.88v2.36h-1.88zM91.0 465.4h1.88v2.36h-1.88zM94.8 465.4h1.88v2.36h-1.88zM96.7 465.4h1.88v2.36h-1.88zM100.4 465.4h1.88v2.36h-1.88zM156.8 465.4h1.88v2.36h-1.88zM164.3 465.4h1.88v2.36h-1.88zM166.1 465.4h1.88v2.36h-1.88zM168.0 465.4h1.88v2.36h-1.88zM173.7 465.4h1.88v2.36h-1.88zM192.4 465.4h1.88v2.36h-1.88zM66.6 463.0h1.88v2.36h-1.88zM72.2 463.0h1.88v2.36h-1.88zM77.9 463.0h1.88v2.36h-1.88zM79.8 463.0h1.88v2.36h-1.88zM81.6 463.0h1.88v2.36h-1.88zM89.2 463.0h1.88v2.36h-1.88zM91.0 463.0h1.88v2.36h-1.88zM96.7 463.0h1.88v2.36h-1.88zM132.3 463.0h1.88v2.36h-1.88zM151.1 463.0h1.88v2.36h-1.88zM153.0 463.0h1.88v2.36h-1.88zM156.8 463.0h1.88v2.36h-1.88zM169.9 463.0h1.88v2.36h-1.88zM173.7 463.0h1.88v2.36h-1.88zM181.2 463.0h1.88v2.36h-1.88zM184.9 463.0h1.88v2.36h-1.88zM201.8 463.0h1.88v2.36h-1.88zM59.1 460.7h1.88v2.36h-1.88zM61.0 460.7h1.88v2.36h-1.88zM64.7 460.7h1.88v2.36h-1.88zM66.6 460.7h1.88v2.36h-1.88zM70.4 460.7h1.88v2.36h-1.88zM77.9 460.7h1.88v2.36h-1.88zM79.8 460.7h1.88v2.36h-1.88zM89.2 460.7h1.88v2.36h-1.88zM92.9 460.7h1.88v2.36h-1.88zM94.8 460.7h1.88v2.36h-1.88zM96.7 460.7h1.88v2.36h-1.88zM100.4 460.7h1.88v2.36h-1.88zM151.1 460.7h1.88v2.36h-1.88zM153.0 460.7h1.88v2.36h-1.88zM156.8 460.7h1.88v2.36h-1.88zM162.4 460.7h1.88v2.36h-1.88zM164.3 460.7h1.88v2.36h-1.88zM166.1 460.7h1.88v2.36h-1.88zM168.0 460.7h1.88v2.36h-1.88zM173.7 460.7h1.88v2.36h-1.88zM175.5 460.7h1.88v2.36h-1.88zM177.4 460.7h1.88v2.36h-1.88zM186.8 460.7h1.88v2.36h-1.88zM198.1 460.7h1.88v2.36h-1.88zM57.2 458.3h1.88v2.36h-1.88zM61.0 458.3h1.88v2.36h-1.88zM62.9 458.3h1.88v2.36h-1.88zM66.6 458.3h1.88v2.36h-1.88zM68.5 458.3h1.88v2.36h-1.88zM72.2 458.3h1.88v2.36h-1.88zM74.1 458.3h1.88v2.36h-1.88zM76.0 458.3h1.88v2.36h-1.88zM77.9 458.3h1.88v2.36h-1.88zM79.8 458.3h1.88v2.36h-1.88zM85.4 458.3h1.88v2.36h-1.88zM91.0 458.3h1.88v2.36h-1.88zM145.5 458.3h1.88v2.36h-1.88zM153.0 458.3h1.88v2.36h-1.88zM158.6 458.3h1.88v2.36h-1.88zM160.5 458.3h1.88v2.36h-1.88zM162.4 458.3h1.88v2.36h-1.88zM168.0 458.3h1.88v2.36h-1.88zM173.7 458.3h1.88v2.36h-1.88zM186.8 458.3h1.88v2.36h-1.88zM188.7 458.3h1.88v2.36h-1.88zM194.3 458.3h1.88v2.36h-1.88zM55.3 456.0h1.88v2.36h-1.88zM61.0 456.0h1.88v2.36h-1.88zM62.9 456.0h1.88v2.36h-1.88zM64.7 456.0h1.88v2.36h-1.88zM74.1 456.0h1.88v2.36h-1.88zM77.9 456.0h1.88v2.36h-1.88zM81.6 456.0h1.88v2.36h-1.88zM94.8 456.0h1.88v2.36h-1.88zM98.5 456.0h1.88v2.36h-1.88zM107.9 456.0h1.88v2.36h-1.88zM154.9 456.0h1.88v2.36h-1.88zM164.3 456.0h1.88v2.36h-1.88zM169.9 456.0h1.88v2.36h-1.88zM171.8 456.0h1.88v2.36h-1.88zM179.3 456.0h1.88v2.36h-1.88zM190.6 456.0h1.88v2.36h-1.88zM192.4 456.0h1.88v2.36h-1.88zM196.2 456.0h1.88v2.36h-1.88zM59.1 453.6h1.88v2.36h-1.88zM61.0 453.6h1.88v2.36h-1.88zM62.9 453.6h1.88v2.36h-1.88zM64.7 453.6h1.88v2.36h-1.88zM76.0 453.6h1.88v2.36h-1.88zM77.9 453.6h1.88v2.36h-1.88zM79.8 453.6h1.88v2.36h-1.88zM81.6 453.6h1.88v2.36h-1.88zM83.5 453.6h1.88v2.36h-1.88zM91.0 453.6h1.88v2.36h-1.88zM153.0 453.6h1.88v2.36h-1.88zM154.9 453.6h1.88v2.36h-1.88zM156.8 453.6h1.88v2.36h-1.88zM160.5 453.6h1.88v2.36h-1.88zM164.3 453.6h1.88v2.36h-1.88zM166.1 453.6h1.88v2.36h-1.88zM168.0 453.6h1.88v2.36h-1.88zM186.8 453.6h1.88v2.36h-1.88zM201.8 453.6h1.88v2.36h-1.88zM59.1 451.2h1.88v2.36h-1.88zM61.0 451.2h1.88v2.36h-1.88zM64.7 451.2h1.88v2.36h-1.88zM68.5 451.2h1.88v2.36h-1.88zM72.2 451.2h1.88v2.36h-1.88zM85.4 451.2h1.88v2.36h-1.88zM91.0 451.2h1.88v2.36h-1.88zM92.9 451.2h1.88v2.36h-1.88zM102.3 451.2h1.88v2.36h-1.88zM134.2 451.2h1.88v2.36h-1.88zM139.9 451.2h1.88v2.36h-1.88zM153.0 451.2h1.88v2.36h-1.88zM158.6 451.2h1.88v2.36h-1.88zM160.5 451.2h1.88v2.36h-1.88zM164.3 451.2h1.88v2.36h-1.88zM175.5 451.2h1.88v2.36h-1.88zM177.4 451.2h1.88v2.36h-1.88zM179.3 451.2h1.88v2.36h-1.88zM181.2 451.2h1.88v2.36h-1.88zM183.1 451.2h1.88v2.36h-1.88zM188.7 451.2h1.88v2.36h-1.88zM190.6 451.2h1.88v2.36h-1.88zM61.0 448.9h1.88v2.36h-1.88zM62.9 448.9h1.88v2.36h-1.88zM70.4 448.9h1.88v2.36h-1.88zM72.2 448.9h1.88v2.36h-1.88zM74.1 448.9h1.88v2.36h-1.88zM76.0 448.9h1.88v2.36h-1.88zM77.9 448.9h1.88v2.36h-1.88zM79.8 448.9h1.88v2.36h-1.88zM85.4 448.9h1.88v2.36h-1.88zM87.3 448.9h1.88v2.36h-1.88zM89.2 448.9h1.88v2.36h-1.88zM91.0 448.9h1.88v2.36h-1.88zM153.0 448.9h1.88v2.36h-1.88zM162.4 448.9h1.88v2.36h-1.88zM169.9 448.9h1.88v2.36h-1.88zM173.7 448.9h1.88v2.36h-1.88zM179.3 448.9h1.88v2.36h-1.88zM181.2 448.9h1.88v2.36h-1.88zM183.1 448.9h1.88v2.36h-1.88zM184.9 448.9h1.88v2.36h-1.88zM192.4 448.9h1.88v2.36h-1.88zM59.1 446.5h1.88v2.36h-1.88zM61.0 446.5h1.88v2.36h-1.88zM68.5 446.5h1.88v2.36h-1.88zM76.0 446.5h1.88v2.36h-1.88zM81.6 446.5h1.88v2.36h-1.88zM83.5 446.5h1.88v2.36h-1.88zM109.8 446.5h1.88v2.36h-1.88zM147.4 446.5h1.88v2.36h-1.88zM151.1 446.5h1.88v2.36h-1.88zM153.0 446.5h1.88v2.36h-1.88zM160.5 446.5h1.88v2.36h-1.88zM166.1 446.5h1.88v2.36h-1.88zM175.5 446.5h1.88v2.36h-1.88zM184.9 446.5h1.88v2.36h-1.88zM186.8 446.5h1.88v2.36h-1.88zM194.3 446.5h1.88v2.36h-1.88zM57.2 444.2h1.88v2.36h-1.88zM61.0 444.2h1.88v2.36h-1.88zM62.9 444.2h1.88v2.36h-1.88zM64.7 444.2h1.88v2.36h-1.88zM72.2 444.2h1.88v2.36h-1.88zM74.1 444.2h1.88v2.36h-1.88zM77.9 444.2h1.88v2.36h-1.88zM79.8 444.2h1.88v2.36h-1.88zM81.6 444.2h1.88v2.36h-1.88zM83.5 444.2h1.88v2.36h-1.88zM119.2 444.2h1.88v2.36h-1.88zM147.4 444.2h1.88v2.36h-1.88zM151.1 444.2h1.88v2.36h-1.88zM164.3 444.2h1.88v2.36h-1.88zM166.1 444.2h1.88v2.36h-1.88zM168.0 444.2h1.88v2.36h-1.88zM173.7 444.2h1.88v2.36h-1.88zM177.4 444.2h1.88v2.36h-1.88zM181.2 444.2h1.88v2.36h-1.88zM183.1 444.2h1.88v2.36h-1.88zM184.9 444.2h1.88v2.36h-1.88zM186.8 444.2h1.88v2.36h-1.88zM61.0 441.8h1.88v2.36h-1.88zM62.9 441.8h1.88v2.36h-1.88zM70.4 441.8h1.88v2.36h-1.88zM79.8 441.8h1.88v2.36h-1.88zM89.2 441.8h1.88v2.36h-1.88zM91.0 441.8h1.88v2.36h-1.88zM92.9 441.8h1.88v2.36h-1.88zM98.5 441.8h1.88v2.36h-1.88zM156.8 441.8h1.88v2.36h-1.88zM162.4 441.8h1.88v2.36h-1.88zM168.0 441.8h1.88v2.36h-1.88zM171.8 441.8h1.88v2.36h-1.88zM175.5 441.8h1.88v2.36h-1.88zM179.3 441.8h1.88v2.36h-1.88zM183.1 441.8h1.88v2.36h-1.88zM196.2 441.8h1.88v2.36h-1.88zM57.2 439.4h1.88v2.36h-1.88zM62.9 439.4h1.88v2.36h-1.88zM66.6 439.4h1.88v2.36h-1.88zM70.4 439.4h1.88v2.36h-1.88zM72.2 439.4h1.88v2.36h-1.88zM76.0 439.4h1.88v2.36h-1.88zM77.9 439.4h1.88v2.36h-1.88zM79.8 439.4h1.88v2.36h-1.88zM81.6 439.4h1.88v2.36h-1.88zM92.9 439.4h1.88v2.36h-1.88zM124.8 439.4h1.88v2.36h-1.88zM149.2 439.4h1.88v2.36h-1.88zM153.0 439.4h1.88v2.36h-1.88zM160.5 439.4h1.88v2.36h-1.88zM164.3 439.4h1.88v2.36h-1.88zM173.7 439.4h1.88v2.36h-1.88zM184.9 439.4h1.88v2.36h-1.88zM57.2 437.1h1.88v2.36h-1.88zM68.5 437.1h1.88v2.36h-1.88zM74.1 437.1h1.88v2.36h-1.88zM77.9 437.1h1.88v2.36h-1.88zM81.6 437.1h1.88v2.36h-1.88zM83.5 437.1h1.88v2.36h-1.88zM85.4 437.1h1.88v2.36h-1.88zM92.9 437.1h1.88v2.36h-1.88zM96.7 437.1h1.88v2.36h-1.88zM107.9 437.1h1.88v2.36h-1.88zM121.1 437.1h1.88v2.36h-1.88zM149.2 437.1h1.88v2.36h-1.88zM156.8 437.1h1.88v2.36h-1.88zM162.4 437.1h1.88v2.36h-1.88zM171.8 437.1h1.88v2.36h-1.88zM173.7 437.1h1.88v2.36h-1.88zM175.5 437.1h1.88v2.36h-1.88zM177.4 437.1h1.88v2.36h-1.88zM192.4 437.1h1.88v2.36h-1.88zM57.2 434.7h1.88v2.36h-1.88zM59.1 434.7h1.88v2.36h-1.88zM61.0 434.7h1.88v2.36h-1.88zM62.9 434.7h1.88v2.36h-1.88zM68.5 434.7h1.88v2.36h-1.88zM70.4 434.7h1.88v2.36h-1.88zM74.1 434.7h1.88v2.36h-1.88zM98.5 434.7h1.88v2.36h-1.88zM134.2 434.7h1.88v2.36h-1.88zM149.2 434.7h1.88v2.36h-1.88zM154.9 434.7h1.88v2.36h-1.88zM156.8 434.7h1.88v2.36h-1.88zM162.4 434.7h1.88v2.36h-1.88zM164.3 434.7h1.88v2.36h-1.88zM184.9 434.7h1.88v2.36h-1.88zM186.8 434.7h1.88v2.36h-1.88zM55.3 432.4h1.88v2.36h-1.88zM59.1 432.4h1.88v2.36h-1.88zM61.0 432.4h1.88v2.36h-1.88zM64.7 432.4h1.88v2.36h-1.88zM68.5 432.4h1.88v2.36h-1.88zM72.2 432.4h1.88v2.36h-1.88zM74.1 432.4h1.88v2.36h-1.88zM76.0 432.4h1.88v2.36h-1.88zM94.8 432.4h1.88v2.36h-1.88zM98.5 432.4h1.88v2.36h-1.88zM145.5 432.4h1.88v2.36h-1.88zM147.4 432.4h1.88v2.36h-1.88zM151.1 432.4h1.88v2.36h-1.88zM153.0 432.4h1.88v2.36h-1.88zM158.6 432.4h1.88v2.36h-1.88zM160.5 432.4h1.88v2.36h-1.88zM166.1 432.4h1.88v2.36h-1.88zM168.0 432.4h1.88v2.36h-1.88zM171.8 432.4h1.88v2.36h-1.88zM173.7 432.4h1.88v2.36h-1.88zM179.3 432.4h1.88v2.36h-1.88zM184.9 432.4h1.88v2.36h-1.88zM192.4 432.4h1.88v2.36h-1.88zM61.0 430.0h1.88v2.36h-1.88zM64.7 430.0h1.88v2.36h-1.88zM72.2 430.0h1.88v2.36h-1.88zM77.9 430.0h1.88v2.36h-1.88zM94.8 430.0h1.88v2.36h-1.88zM98.5 430.0h1.88v2.36h-1.88zM121.1 430.0h1.88v2.36h-1.88zM123.0 430.0h1.88v2.36h-1.88zM149.2 430.0h1.88v2.36h-1.88zM153.0 430.0h1.88v2.36h-1.88zM154.9 430.0h1.88v2.36h-1.88zM156.8 430.0h1.88v2.36h-1.88zM171.8 430.0h1.88v2.36h-1.88zM177.4 430.0h1.88v2.36h-1.88zM184.9 430.0h1.88v2.36h-1.88zM188.7 430.0h1.88v2.36h-1.88zM62.9 427.6h1.88v2.36h-1.88zM64.7 427.6h1.88v2.36h-1.88zM66.6 427.6h1.88v2.36h-1.88zM68.5 427.6h1.88v2.36h-1.88zM70.4 427.6h1.88v2.36h-1.88zM72.2 427.6h1.88v2.36h-1.88zM76.0 427.6h1.88v2.36h-1.88zM79.8 427.6h1.88v2.36h-1.88zM81.6 427.6h1.88v2.36h-1.88zM145.5 427.6h1.88v2.36h-1.88zM160.5 427.6h1.88v2.36h-1.88zM164.3 427.6h1.88v2.36h-1.88zM166.1 427.6h1.88v2.36h-1.88zM173.7 427.6h1.88v2.36h-1.88zM59.1 425.3h1.88v2.36h-1.88zM66.6 425.3h1.88v2.36h-1.88zM68.5 425.3h1.88v2.36h-1.88zM70.4 425.3h1.88v2.36h-1.88zM74.1 425.3h1.88v2.36h-1.88zM76.0 425.3h1.88v2.36h-1.88zM79.8 425.3h1.88v2.36h-1.88zM81.6 425.3h1.88v2.36h-1.88zM83.5 425.3h1.88v2.36h-1.88zM87.3 425.3h1.88v2.36h-1.88zM117.3 425.3h1.88v2.36h-1.88zM151.1 425.3h1.88v2.36h-1.88zM156.8 425.3h1.88v2.36h-1.88zM158.6 425.3h1.88v2.36h-1.88zM162.4 425.3h1.88v2.36h-1.88zM164.3 425.3h1.88v2.36h-1.88zM177.4 425.3h1.88v2.36h-1.88zM183.1 425.3h1.88v2.36h-1.88zM188.7 425.3h1.88v2.36h-1.88zM62.9 422.9h1.88v2.36h-1.88zM66.6 422.9h1.88v2.36h-1.88zM70.4 422.9h1.88v2.36h-1.88zM76.0 422.9h1.88v2.36h-1.88zM81.6 422.9h1.88v2.36h-1.88zM83.5 422.9h1.88v2.36h-1.88zM92.9 422.9h1.88v2.36h-1.88zM98.5 422.9h1.88v2.36h-1.88zM121.1 422.9h1.88v2.36h-1.88zM145.5 422.9h1.88v2.36h-1.88zM151.1 422.9h1.88v2.36h-1.88zM154.9 422.9h1.88v2.36h-1.88zM168.0 422.9h1.88v2.36h-1.88zM183.1 422.9h1.88v2.36h-1.88zM188.7 422.9h1.88v2.36h-1.88zM211.2 422.9h1.88v2.36h-1.88zM62.9 420.6h1.88v2.36h-1.88zM66.6 420.6h1.88v2.36h-1.88zM70.4 420.6h1.88v2.36h-1.88zM72.2 420.6h1.88v2.36h-1.88zM74.1 420.6h1.88v2.36h-1.88zM76.0 420.6h1.88v2.36h-1.88zM85.4 420.6h1.88v2.36h-1.88zM87.3 420.6h1.88v2.36h-1.88zM89.2 420.6h1.88v2.36h-1.88zM160.5 420.6h1.88v2.36h-1.88zM64.7 418.2h1.88v2.36h-1.88zM68.5 418.2h1.88v2.36h-1.88zM70.4 418.2h1.88v2.36h-1.88zM76.0 418.2h1.88v2.36h-1.88zM79.8 418.2h1.88v2.36h-1.88zM87.3 418.2h1.88v2.36h-1.88zM138.0 418.2h1.88v2.36h-1.88zM153.0 418.2h1.88v2.36h-1.88zM154.9 418.2h1.88v2.36h-1.88zM181.2 418.2h1.88v2.36h-1.88zM184.9 418.2h1.88v2.36h-1.88zM61.0 415.8h1.88v2.36h-1.88zM62.9 415.8h1.88v2.36h-1.88zM74.1 415.8h1.88v2.36h-1.88zM81.6 415.8h1.88v2.36h-1.88zM85.4 415.8h1.88v2.36h-1.88zM98.5 415.8h1.88v2.36h-1.88zM106.1 415.8h1.88v2.36h-1.88zM153.0 415.8h1.88v2.36h-1.88zM160.5 415.8h1.88v2.36h-1.88zM164.3 415.8h1.88v2.36h-1.88zM166.1 415.8h1.88v2.36h-1.88zM168.0 415.8h1.88v2.36h-1.88zM192.4 415.8h1.88v2.36h-1.88zM194.3 415.8h1.88v2.36h-1.88zM62.9 413.5h1.88v2.36h-1.88zM66.6 413.5h1.88v2.36h-1.88zM68.5 413.5h1.88v2.36h-1.88zM77.9 413.5h1.88v2.36h-1.88zM81.6 413.5h1.88v2.36h-1.88zM83.5 413.5h1.88v2.36h-1.88zM156.8 413.5h1.88v2.36h-1.88zM162.4 413.5h1.88v2.36h-1.88zM168.0 413.5h1.88v2.36h-1.88zM175.5 413.5h1.88v2.36h-1.88zM181.2 413.5h1.88v2.36h-1.88zM59.1 411.1h1.88v2.36h-1.88zM64.7 411.1h1.88v2.36h-1.88zM68.5 411.1h1.88v2.36h-1.88zM70.4 411.1h1.88v2.36h-1.88zM74.1 411.1h1.88v2.36h-1.88zM76.0 411.1h1.88v2.36h-1.88zM77.9 411.1h1.88v2.36h-1.88zM79.8 411.1h1.88v2.36h-1.88zM85.4 411.1h1.88v2.36h-1.88zM91.0 411.1h1.88v2.36h-1.88zM98.5 411.1h1.88v2.36h-1.88zM173.7 411.1h1.88v2.36h-1.88zM61.0 408.8h1.88v2.36h-1.88zM62.9 408.8h1.88v2.36h-1.88zM68.5 408.8h1.88v2.36h-1.88zM72.2 408.8h1.88v2.36h-1.88zM77.9 408.8h1.88v2.36h-1.88zM83.5 408.8h1.88v2.36h-1.88zM91.0 408.8h1.88v2.36h-1.88zM147.4 408.8h1.88v2.36h-1.88zM154.9 408.8h1.88v2.36h-1.88zM166.1 408.8h1.88v2.36h-1.88zM168.0 408.8h1.88v2.36h-1.88zM184.9 408.8h1.88v2.36h-1.88zM188.7 408.8h1.88v2.36h-1.88zM192.4 408.8h1.88v2.36h-1.88zM61.0 406.4h1.88v2.36h-1.88zM68.5 406.4h1.88v2.36h-1.88zM70.4 406.4h1.88v2.36h-1.88zM72.2 406.4h1.88v2.36h-1.88zM74.1 406.4h1.88v2.36h-1.88zM76.0 406.4h1.88v2.36h-1.88zM77.9 406.4h1.88v2.36h-1.88zM79.8 406.4h1.88v2.36h-1.88zM81.6 406.4h1.88v2.36h-1.88zM85.4 406.4h1.88v2.36h-1.88zM94.8 406.4h1.88v2.36h-1.88zM117.3 406.4h1.88v2.36h-1.88zM153.0 406.4h1.88v2.36h-1.88zM158.6 406.4h1.88v2.36h-1.88zM166.1 406.4h1.88v2.36h-1.88zM62.9 404.0h1.88v2.36h-1.88zM64.7 404.0h1.88v2.36h-1.88zM68.5 404.0h1.88v2.36h-1.88zM72.2 404.0h1.88v2.36h-1.88zM74.1 404.0h1.88v2.36h-1.88zM81.6 404.0h1.88v2.36h-1.88zM139.9 404.0h1.88v2.36h-1.88zM143.6 404.0h1.88v2.36h-1.88zM154.9 404.0h1.88v2.36h-1.88zM156.8 404.0h1.88v2.36h-1.88zM181.2 404.0h1.88v2.36h-1.88zM183.1 404.0h1.88v2.36h-1.88zM192.4 404.0h1.88v2.36h-1.88zM59.1 401.7h1.88v2.36h-1.88zM64.7 401.7h1.88v2.36h-1.88zM66.6 401.7h1.88v2.36h-1.88zM68.5 401.7h1.88v2.36h-1.88zM70.4 401.7h1.88v2.36h-1.88zM74.1 401.7h1.88v2.36h-1.88zM141.7 401.7h1.88v2.36h-1.88zM156.8 401.7h1.88v2.36h-1.88zM160.5 401.7h1.88v2.36h-1.88zM162.4 401.7h1.88v2.36h-1.88zM166.1 401.7h1.88v2.36h-1.88zM183.1 401.7h1.88v2.36h-1.88zM59.1 399.3h1.88v2.36h-1.88zM61.0 399.3h1.88v2.36h-1.88zM68.5 399.3h1.88v2.36h-1.88zM74.1 399.3h1.88v2.36h-1.88zM77.9 399.3h1.88v2.36h-1.88zM81.6 399.3h1.88v2.36h-1.88zM83.5 399.3h1.88v2.36h-1.88zM85.4 399.3h1.88v2.36h-1.88zM96.7 399.3h1.88v2.36h-1.88zM106.1 399.3h1.88v2.36h-1.88zM128.6 399.3h1.88v2.36h-1.88zM153.0 399.3h1.88v2.36h-1.88zM154.9 399.3h1.88v2.36h-1.88zM156.8 399.3h1.88v2.36h-1.88zM168.0 399.3h1.88v2.36h-1.88zM173.7 399.3h1.88v2.36h-1.88zM175.5 399.3h1.88v2.36h-1.88zM181.2 399.3h1.88v2.36h-1.88zM66.6 397.0h1.88v2.36h-1.88zM68.5 397.0h1.88v2.36h-1.88zM74.1 397.0h1.88v2.36h-1.88zM81.6 397.0h1.88v2.36h-1.88zM83.5 397.0h1.88v2.36h-1.88zM96.7 397.0h1.88v2.36h-1.88zM143.6 397.0h1.88v2.36h-1.88zM153.0 397.0h1.88v2.36h-1.88zM158.6 397.0h1.88v2.36h-1.88zM160.5 397.0h1.88v2.36h-1.88zM168.0 397.0h1.88v2.36h-1.88zM173.7 397.0h1.88v2.36h-1.88zM175.5 397.0h1.88v2.36h-1.88zM190.6 397.0h1.88v2.36h-1.88zM59.1 394.6h1.88v2.36h-1.88zM61.0 394.6h1.88v2.36h-1.88zM62.9 394.6h1.88v2.36h-1.88zM64.7 394.6h1.88v2.36h-1.88zM66.6 394.6h1.88v2.36h-1.88zM70.4 394.6h1.88v2.36h-1.88zM74.1 394.6h1.88v2.36h-1.88zM81.6 394.6h1.88v2.36h-1.88zM83.5 394.6h1.88v2.36h-1.88zM87.3 394.6h1.88v2.36h-1.88zM91.0 394.6h1.88v2.36h-1.88zM92.9 394.6h1.88v2.36h-1.88zM96.7 394.6h1.88v2.36h-1.88zM154.9 394.6h1.88v2.36h-1.88zM156.8 394.6h1.88v2.36h-1.88zM158.6 394.6h1.88v2.36h-1.88zM162.4 394.6h1.88v2.36h-1.88zM164.3 394.6h1.88v2.36h-1.88zM166.1 394.6h1.88v2.36h-1.88zM173.7 394.6h1.88v2.36h-1.88zM179.3 394.6h1.88v2.36h-1.88zM181.2 394.6h1.88v2.36h-1.88zM184.9 394.6h1.88v2.36h-1.88zM186.8 394.6h1.88v2.36h-1.88zM61.0 392.2h1.88v2.36h-1.88zM66.6 392.2h1.88v2.36h-1.88zM68.5 392.2h1.88v2.36h-1.88zM70.4 392.2h1.88v2.36h-1.88zM72.2 392.2h1.88v2.36h-1.88zM74.1 392.2h1.88v2.36h-1.88zM79.8 392.2h1.88v2.36h-1.88zM81.6 392.2h1.88v2.36h-1.88zM85.4 392.2h1.88v2.36h-1.88zM89.2 392.2h1.88v2.36h-1.88zM91.0 392.2h1.88v2.36h-1.88zM130.5 392.2h1.88v2.36h-1.88zM158.6 392.2h1.88v2.36h-1.88zM203.7 392.2h1.88v2.36h-1.88zM205.6 392.2h1.88v2.36h-1.88zM62.9 389.9h1.88v2.36h-1.88zM70.4 389.9h1.88v2.36h-1.88zM81.6 389.9h1.88v2.36h-1.88zM87.3 389.9h1.88v2.36h-1.88zM89.2 389.9h1.88v2.36h-1.88zM91.0 389.9h1.88v2.36h-1.88zM128.6 389.9h1.88v2.36h-1.88zM153.0 389.9h1.88v2.36h-1.88zM168.0 389.9h1.88v2.36h-1.88zM177.4 389.9h1.88v2.36h-1.88zM179.3 389.9h1.88v2.36h-1.88zM183.1 389.9h1.88v2.36h-1.88zM61.0 387.5h1.88v2.36h-1.88zM64.7 387.5h1.88v2.36h-1.88zM68.5 387.5h1.88v2.36h-1.88zM70.4 387.5h1.88v2.36h-1.88zM72.2 387.5h1.88v2.36h-1.88zM74.1 387.5h1.88v2.36h-1.88zM85.4 387.5h1.88v2.36h-1.88zM92.9 387.5h1.88v2.36h-1.88zM160.5 387.5h1.88v2.36h-1.88zM179.3 387.5h1.88v2.36h-1.88zM61.0 385.2h1.88v2.36h-1.88zM64.7 385.2h1.88v2.36h-1.88zM70.4 385.2h1.88v2.36h-1.88zM77.9 385.2h1.88v2.36h-1.88zM79.8 385.2h1.88v2.36h-1.88zM83.5 385.2h1.88v2.36h-1.88zM145.5 385.2h1.88v2.36h-1.88zM166.1 385.2h1.88v2.36h-1.88zM171.8 385.2h1.88v2.36h-1.88zM181.2 385.2h1.88v2.36h-1.88zM190.6 385.2h1.88v2.36h-1.88zM59.1 382.8h1.88v2.36h-1.88zM64.7 382.8h1.88v2.36h-1.88zM66.6 382.8h1.88v2.36h-1.88zM68.5 382.8h1.88v2.36h-1.88zM74.1 382.8h1.88v2.36h-1.88zM91.0 382.8h1.88v2.36h-1.88zM153.0 382.8h1.88v2.36h-1.88zM171.8 382.8h1.88v2.36h-1.88zM62.9 380.4h1.88v2.36h-1.88zM64.7 380.4h1.88v2.36h-1.88zM68.5 380.4h1.88v2.36h-1.88zM76.0 380.4h1.88v2.36h-1.88zM85.4 380.4h1.88v2.36h-1.88zM119.2 380.4h1.88v2.36h-1.88zM173.7 380.4h1.88v2.36h-1.88zM64.7 378.1h1.88v2.36h-1.88zM66.6 378.1h1.88v2.36h-1.88zM68.5 378.1h1.88v2.36h-1.88zM70.4 378.1h1.88v2.36h-1.88zM72.2 378.1h1.88v2.36h-1.88zM76.0 378.1h1.88v2.36h-1.88zM77.9 378.1h1.88v2.36h-1.88zM83.5 378.1h1.88v2.36h-1.88zM85.4 378.1h1.88v2.36h-1.88zM91.0 378.1h1.88v2.36h-1.88zM158.6 378.1h1.88v2.36h-1.88zM164.3 378.1h1.88v2.36h-1.88zM183.1 378.1h1.88v2.36h-1.88zM77.9 375.7h1.88v2.36h-1.88zM83.5 375.7h1.88v2.36h-1.88zM87.3 375.7h1.88v2.36h-1.88zM91.0 375.7h1.88v2.36h-1.88zM160.5 375.7h1.88v2.36h-1.88zM162.4 375.7h1.88v2.36h-1.88zM173.7 375.7h1.88v2.36h-1.88zM64.7 373.4h1.88v2.36h-1.88zM92.9 373.4h1.88v2.36h-1.88zM76.0 371.0h1.88v2.36h-1.88zM79.8 371.0h1.88v2.36h-1.88zM83.5 371.0h1.88v2.36h-1.88zM87.3 371.0h1.88v2.36h-1.88zM94.8 371.0h1.88v2.36h-1.88zM166.1 371.0h1.88v2.36h-1.88zM169.9 371.0h1.88v2.36h-1.88zM62.9 368.6h1.88v2.36h-1.88zM68.5 368.6h1.88v2.36h-1.88zM70.4 368.6h1.88v2.36h-1.88zM72.2 368.6h1.88v2.36h-1.88zM74.1 368.6h1.88v2.36h-1.88zM76.0 368.6h1.88v2.36h-1.88zM77.9 368.6h1.88v2.36h-1.88zM81.6 368.6h1.88v2.36h-1.88zM83.5 368.6h1.88v2.36h-1.88zM85.4 368.6h1.88v2.36h-1.88zM87.3 368.6h1.88v2.36h-1.88zM200.0 368.6h1.88v2.36h-1.88zM62.9 366.3h1.88v2.36h-1.88zM72.2 366.3h1.88v2.36h-1.88zM76.0 366.3h1.88v2.36h-1.88zM77.9 366.3h1.88v2.36h-1.88zM81.6 366.3h1.88v2.36h-1.88zM83.5 366.3h1.88v2.36h-1.88zM181.2 366.3h1.88v2.36h-1.88zM62.9 363.9h1.88v2.36h-1.88zM66.6 363.9h1.88v2.36h-1.88zM77.9 363.9h1.88v2.36h-1.88zM81.6 363.9h1.88v2.36h-1.88zM83.5 363.9h1.88v2.36h-1.88zM162.4 363.9h1.88v2.36h-1.88zM173.7 363.9h1.88v2.36h-1.88zM74.1 361.6h1.88v2.36h-1.88zM79.8 361.6h1.88v2.36h-1.88zM62.9 359.2h1.88v2.36h-1.88zM68.5 359.2h1.88v2.36h-1.88zM70.4 359.2h1.88v2.36h-1.88zM72.2 359.2h1.88v2.36h-1.88zM66.6 356.8h1.88v2.36h-1.88zM79.8 356.8h1.88v2.36h-1.88zM81.6 356.8h1.88v2.36h-1.88zM83.5 356.8h1.88v2.36h-1.88zM91.0 356.8h1.88v2.36h-1.88zM62.9 354.5h1.88v2.36h-1.88zM74.1 354.5h1.88v2.36h-1.88zM81.6 354.5h1.88v2.36h-1.88zM89.2 354.5h1.88v2.36h-1.88zM91.0 354.5h1.88v2.36h-1.88zM72.2 352.1h1.88v2.36h-1.88zM74.1 352.1h1.88v2.36h-1.88zM77.9 352.1h1.88v2.36h-1.88zM83.5 352.1h1.88v2.36h-1.88zM87.3 352.1h1.88v2.36h-1.88zM61.0 349.8h1.88v2.36h-1.88zM81.6 349.8h1.88v2.36h-1.88zM83.5 349.8h1.88v2.36h-1.88zM91.0 349.8h1.88v2.36h-1.88zM194.3 349.8h1.88v2.36h-1.88zM61.0 347.4h1.88v2.36h-1.88zM72.2 347.4h1.88v2.36h-1.88zM79.8 347.4h1.88v2.36h-1.88zM89.2 347.4h1.88v2.36h-1.88zM92.9 347.4h1.88v2.36h-1.88zM169.9 347.4h1.88v2.36h-1.88zM64.7 345.0h1.88v2.36h-1.88zM77.9 345.0h1.88v2.36h-1.88zM81.6 345.0h1.88v2.36h-1.88zM89.2 345.0h1.88v2.36h-1.88zM173.7 345.0h1.88v2.36h-1.88zM64.7 342.7h1.88v2.36h-1.88zM68.5 342.7h1.88v2.36h-1.88zM85.4 342.7h1.88v2.36h-1.88zM89.2 342.7h1.88v2.36h-1.88zM92.9 342.7h1.88v2.36h-1.88zM203.7 342.7h1.88v2.36h-1.88zM68.5 340.3h1.88v2.36h-1.88zM72.2 340.3h1.88v2.36h-1.88zM76.0 340.3h1.88v2.36h-1.88zM87.3 340.3h1.88v2.36h-1.88zM91.0 340.3h1.88v2.36h-1.88zM92.9 340.3h1.88v2.36h-1.88zM70.4 338.0h1.88v2.36h-1.88zM77.9 338.0h1.88v2.36h-1.88zM79.8 338.0h1.88v2.36h-1.88zM83.5 338.0h1.88v2.36h-1.88zM192.4 338.0h1.88v2.36h-1.88zM205.6 338.0h1.88v2.36h-1.88zM76.0 335.6h1.88v2.36h-1.88zM77.9 335.6h1.88v2.36h-1.88zM85.4 335.6h1.88v2.36h-1.88zM92.9 335.6h1.88v2.36h-1.88zM68.5 333.2h1.88v2.36h-1.88zM77.9 333.2h1.88v2.36h-1.88zM81.6 333.2h1.88v2.36h-1.88zM175.5 333.2h1.88v2.36h-1.88zM177.4 333.2h1.88v2.36h-1.88zM64.7 330.9h1.88v2.36h-1.88zM66.6 330.9h1.88v2.36h-1.88zM74.1 330.9h1.88v2.36h-1.88zM81.6 330.9h1.88v2.36h-1.88zM194.3 330.9h1.88v2.36h-1.88zM79.8 328.5h1.88v2.36h-1.88zM190.6 328.5h1.88v2.36h-1.88zM79.8 326.2h1.88v2.36h-1.88zM81.6 326.2h1.88v2.36h-1.88zM85.4 326.2h1.88v2.36h-1.88zM92.9 326.2h1.88v2.36h-1.88zM83.5 323.8h1.88v2.36h-1.88zM89.2 323.8h1.88v2.36h-1.88zM177.4 323.8h1.88v2.36h-1.88zM72.2 321.4h1.88v2.36h-1.88zM74.1 321.4h1.88v2.36h-1.88zM76.0 321.4h1.88v2.36h-1.88zM188.7 321.4h1.88v2.36h-1.88zM198.1 321.4h1.88v2.36h-1.88zM177.4 319.1h1.88v2.36h-1.88zM98.5 316.7h1.88v2.36h-1.88zM192.4 316.7h1.88v2.36h-1.88zM70.4 314.4h1.88v2.36h-1.88zM87.3 314.4h1.88v2.36h-1.88zM96.7 314.4h1.88v2.36h-1.88zM207.5 314.4h1.88v2.36h-1.88zM81.6 309.6h1.88v2.36h-1.88zM94.8 309.6h1.88v2.36h-1.88zM177.4 309.6h1.88v2.36h-1.88zM79.8 307.3h1.88v2.36h-1.88zM55.3 487.5h1.88v3.50h-1.88zM59.1 487.5h1.88v3.50h-1.88zM64.7 487.5h1.88v3.50h-1.88zM70.4 487.5h1.88v3.50h-1.88zM76.0 487.5h1.88v3.50h-1.88zM83.5 487.5h1.88v3.50h-1.88zM92.9 487.5h1.88v3.50h-1.88zM104.2 487.5h1.88v3.50h-1.88zM106.1 487.5h1.88v3.50h-1.88zM113.6 487.5h1.88v3.50h-1.88zM132.3 487.5h1.88v3.50h-1.88zM134.2 487.5h1.88v3.50h-1.88zM136.1 487.5h1.88v3.50h-1.88zM138.0 487.5h1.88v3.50h-1.88zM154.9 487.5h1.88v3.50h-1.88zM160.5 487.5h1.88v3.50h-1.88zM164.3 487.5h1.88v3.50h-1.88zM171.8 487.5h1.88v3.50h-1.88zM190.6 487.5h1.88v3.50h-1.88zM192.4 487.5h1.88v3.50h-1.88zM194.3 487.5h1.88v3.50h-1.88zM201.8 487.5h1.88v3.50h-1.88zM203.7 487.5h1.88v3.50h-1.88zM209.3 487.5h1.88v3.50h-1.88zM215.0 487.5h1.88v3.50h-1.88zM222.5 487.5h1.88v3.50h-1.88zM87.3 491.0h1.88v3.00h-1.88zM149.2 491.0h1.88v3.00h-1.88zM175.5 491.0h1.88v3.00h-1.88z"/>
<path fill="#0000aa" d="M66.6 484.3h1.88v2.36h-1.88zM68.5 484.3h1.88v2.36h-1.88zM74.1 484.3h1.88v2.36h-1.88zM77.9 484.3h1.88v2.36h-1.88zM92.9 484.3h1.88v2.36h-1.88zM109.8 484.3h1.88v2.36h-1.88zM153.0 484.3h1.88v2.36h-1.88zM158.6 484.3h1.88v2.36h-1.88zM162.4 484.3h1.88v2.36h-1.88zM173.7 484.3h1.88v2.36h-1.88zM175.5 484.3h1.88v2.36h-1.88zM177.4 484.3h1.88v2.36h-1.88zM181.2 484.3h1.88v2.36h-1.88zM213.1 484.3h1.88v2.36h-1.88zM61.0 481.9h1.88v2.36h-1.88zM62.9 481.9h1.88v2.36h-1.88zM64.7 481.9h1.88v2.36h-1.88zM66.6 481.9h1.88v2.36h-1.88zM72.2 481.9h1.88v2.36h-1.88zM74.1 481.9h1.88v2.36h-1.88zM77.9 481.9h1.88v2.36h-1.88zM79.8 481.9h1.88v2.36h-1.88zM87.3 481.9h1.88v2.36h-1.88zM89.2 481.9h1.88v2.36h-1.88zM94.8 481.9h1.88v2.36h-1.88zM149.2 481.9h1.88v2.36h-1.88zM154.9 481.9h1.88v2.36h-1.88zM156.8 481.9h1.88v2.36h-1.88zM168.0 481.9h1.88v2.36h-1.88zM177.4 481.9h1.88v2.36h-1.88zM184.9 481.9h1.88v2.36h-1.88zM57.2 479.6h1.88v2.36h-1.88zM62.9 479.6h1.88v2.36h-1.88zM72.2 479.6h1.88v2.36h-1.88zM74.1 479.6h1.88v2.36h-1.88zM79.8 479.6h1.88v2.36h-1.88zM94.8 479.6h1.88v2.36h-1.88zM96.7 479.6h1.88v2.36h-1.88zM154.9 479.6h1.88v2.36h-1.88zM160.5 479.6h1.88v2.36h-1.88zM169.9 479.6h1.88v2.36h-1.88zM171.8 479.6h1.88v2.36h-1.88zM175.5 479.6h1.88v2.36h-1.88zM181.2 479.6h1.88v2.36h-1.88zM183.1 479.6h1.88v2.36h-1.88zM57.2 477.2h1.88v2.36h-1.88zM59.1 477.2h1.88v2.36h-1.88zM61.0 477.2h1.88v2.36h-1.88zM76.0 477.2h1.88v2.36h-1.88zM79.8 477.2h1.88v2.36h-1.88zM83.5 477.2h1.88v2.36h-1.88zM151.1 477.2h1.88v2.36h-1.88zM160.5 477.2h1.88v2.36h-1.88zM164.3 477.2h1.88v2.36h-1.88zM166.1 477.2h1.88v2.36h-1.88zM184.9 477.2h1.88v2.36h-1.88zM66.6 474.8h1.88v2.36h-1.88zM68.5 474.8h1.88v2.36h-1.88zM72.2 474.8h1.88v2.36h-1.88zM77.9 474.8h1.88v2.36h-1.88zM81.6 474.8h1.88v2.36h-1.88zM89.2 474.8h1.88v2.36h-1.88zM151.1 474.8h1.88v2.36h-1.88zM169.9 474.8h1.88v2.36h-1.88zM173.7 474.8h1.88v2.36h-1.88zM181.2 474.8h1.88v2.36h-1.88zM188.7 474.8h1.88v2.36h-1.88zM66.6 472.5h1.88v2.36h-1.88zM72.2 472.5h1.88v2.36h-1.88zM79.8 472.5h1.88v2.36h-1.88zM81.6 472.5h1.88v2.36h-1.88zM96.7 472.5h1.88v2.36h-1.88zM98.5 472.5h1.88v2.36h-1.88zM166.1 472.5h1.88v2.36h-1.88zM173.7 472.5h1.88v2.36h-1.88zM177.4 472.5h1.88v2.36h-1.88zM184.9 472.5h1.88v2.36h-1.88zM190.6 472.5h1.88v2.36h-1.88zM77.9 470.1h1.88v2.36h-1.88zM83.5 470.1h1.88v2.36h-1.88zM92.9 470.1h1.88v2.36h-1.88zM164.3 470.1h1.88v2.36h-1.88zM171.8 470.1h1.88v2.36h-1.88zM192.4 470.1h1.88v2.36h-1.88zM59.1 467.8h1.88v2.36h-1.88zM68.5 467.8h1.88v2.36h-1.88zM74.1 467.8h1.88v2.36h-1.88zM83.5 467.8h1.88v2.36h-1.88zM153.0 467.8h1.88v2.36h-1.88zM59.1 465.4h1.88v2.36h-1.88zM61.0 465.4h1.88v2.36h-1.88zM62.9 465.4h1.88v2.36h-1.88zM72.2 465.4h1.88v2.36h-1.88zM77.9 465.4h1.88v2.36h-1.88zM154.9 465.4h1.88v2.36h-1.88zM158.6 465.4h1.88v2.36h-1.88zM160.5 465.4h1.88v2.36h-1.88zM171.8 465.4h1.88v2.36h-1.88zM177.4 465.4h1.88v2.36h-1.88zM59.1 463.0h1.88v2.36h-1.88zM61.0 463.0h1.88v2.36h-1.88zM68.5 463.0h1.88v2.36h-1.88zM70.4 463.0h1.88v2.36h-1.88zM76.0 463.0h1.88v2.36h-1.88zM166.1 463.0h1.88v2.36h-1.88zM171.8 463.0h1.88v2.36h-1.88zM175.5 463.0h1.88v2.36h-1.88zM183.1 463.0h1.88v2.36h-1.88zM57.2 460.7h1.88v2.36h-1.88zM62.9 460.7h1.88v2.36h-1.88zM68.5 460.7h1.88v2.36h-1.88zM74.1 460.7h1.88v2.36h-1.88zM76.0 460.7h1.88v2.36h-1.88zM154.9 460.7h1.88v2.36h-1.88zM160.5 460.7h1.88v2.36h-1.88zM171.8 460.7h1.88v2.36h-1.88zM183.1 460.7h1.88v2.36h-1.88zM184.9 460.7h1.88v2.36h-1.88zM188.7 460.7h1.88v2.36h-1.88zM59.1 458.3h1.88v2.36h-1.88zM64.7 458.3h1.88v2.36h-1.88zM70.4 458.3h1.88v2.36h-1.88zM81.6 458.3h1.88v2.36h-1.88zM87.3 458.3h1.88v2.36h-1.88zM92.9 458.3h1.88v2.36h-1.88zM94.8 458.3h1.88v2.36h-1.88zM149.2 458.3h1.88v2.36h-1.88zM154.9 458.3h1.88v2.36h-1.88zM156.8 458.3h1.88v2.36h-1.88zM181.2 458.3h1.88v2.36h-1.88zM66.6 456.0h1.88v2.36h-1.88zM68.5 456.0h1.88v2.36h-1.88zM72.2 456.0h1.88v2.36h-1.88zM149.2 456.0h1.88v2.36h-1.88zM158.6 456.0h1.88v2.36h-1.88zM160.5 456.0h1.88v2.36h-1.88zM184.9 456.0h1.88v2.36h-1.88zM186.8 456.0h1.88v2.36h-1.88zM188.7 456.0h1.88v2.36h-1.88zM66.6 453.6h1.88v2.36h-1.88zM72.2 453.6h1.88v2.36h-1.88zM89.2 453.6h1.88v2.36h-1.88zM96.7 453.6h1.88v2.36h-1.88zM158.6 453.6h1.88v2.36h-1.88zM162.4 453.6h1.88v2.36h-1.88zM169.9 453.6h1.88v2.36h-1.88zM57.2 451.2h1.88v2.36h-1.88zM76.0 451.2h1.88v2.36h-1.88zM77.9 451.2h1.88v2.36h-1.88zM81.6 451.2h1.88v2.36h-1.88zM89.2 451.2h1.88v2.36h-1.88zM96.7 451.2h1.88v2.36h-1.88zM151.1 451.2h1.88v2.36h-1.88zM154.9 451.2h1.88v2.36h-1.88zM171.8 451.2h1.88v2.36h-1.88zM192.4 451.2h1.88v2.36h-1.88zM59.1 448.9h1.88v2.36h-1.88zM66.6 448.9h1.88v2.36h-1.88zM81.6 448.9h1.88v2.36h-1.88zM156.8 448.9h1.88v2.36h-1.88zM164.3 448.9h1.88v2.36h-1.88zM72.2 446.5h1.88v2.36h-1.88zM74.1 446.5h1.88v2.36h-1.88zM91.0 446.5h1.88v2.36h-1.88zM156.8 446.5h1.88v2.36h-1.88zM158.6 446.5h1.88v2.36h-1.88zM164.3 446.5h1.88v2.36h-1.88zM192.4 446.5h1.88v2.36h-1.88zM66.6 444.2h1.88v2.36h-1.88zM70.4 444.2h1.88v2.36h-1.88zM85.4 444.2h1.88v2.36h-1.88zM92.9 444.2h1.88v2.36h-1.88zM153.0 444.2h1.88v2.36h-1.88zM156.8 444.2h1.88v2.36h-1.88zM158.6 444.2h1.88v2.36h-1.88zM72.2 441.8h1.88v2.36h-1.88zM74.1 441.8h1.88v2.36h-1.88zM83.5 441.8h1.88v2.36h-1.88zM94.8 441.8h1.88v2.36h-1.88zM153.0 441.8h1.88v2.36h-1.88zM154.9 441.8h1.88v2.36h-1.88zM173.7 441.8h1.88v2.36h-1.88zM74.1 439.4h1.88v2.36h-1.88zM94.8 439.4h1.88v2.36h-1.88zM156.8 439.4h1.88v2.36h-1.88zM162.4 439.4h1.88v2.36h-1.88zM171.8 439.4h1.88v2.36h-1.88zM188.7 439.4h1.88v2.36h-1.88zM59.1 437.1h1.88v2.36h-1.88zM62.9 437.1h1.88v2.36h-1.88zM66.6 437.1h1.88v2.36h-1.88zM72.2 437.1h1.88v2.36h-1.88zM94.8 437.1h1.88v2.36h-1.88zM154.9 437.1h1.88v2.36h-1.88zM158.6 437.1h1.88v2.36h-1.88zM164.3 437.1h1.88v2.36h-1.88zM183.1 437.1h1.88v2.36h-1.88zM190.6 437.1h1.88v2.36h-1.88zM66.6 434.7h1.88v2.36h-1.88zM76.0 434.7h1.88v2.36h-1.88zM79.8 434.7h1.88v2.36h-1.88zM92.9 434.7h1.88v2.36h-1.88zM166.1 434.7h1.88v2.36h-1.88zM177.4 434.7h1.88v2.36h-1.88zM62.9 432.4h1.88v2.36h-1.88zM66.6 432.4h1.88v2.36h-1.88zM70.4 432.4h1.88v2.36h-1.88zM79.8 432.4h1.88v2.36h-1.88zM83.5 432.4h1.88v2.36h-1.88zM154.9 432.4h1.88v2.36h-1.88zM186.8 432.4h1.88v2.36h-1.88zM188.7 432.4h1.88v2.36h-1.88zM59.1 430.0h1.88v2.36h-1.88zM62.9 430.0h1.88v2.36h-1.88zM66.6 430.0h1.88v2.36h-1.88zM68.5 430.0h1.88v2.36h-1.88zM70.4 430.0h1.88v2.36h-1.88zM76.0 430.0h1.88v2.36h-1.88zM96.7 430.0h1.88v2.36h-1.88zM158.6 430.0h1.88v2.36h-1.88zM164.3 430.0h1.88v2.36h-1.88zM181.2 430.0h1.88v2.36h-1.88zM61.0 427.6h1.88v2.36h-1.88zM85.4 427.6h1.88v2.36h-1.88zM154.9 427.6h1.88v2.36h-1.88zM158.6 427.6h1.88v2.36h-1.88zM179.3 427.6h1.88v2.36h-1.88zM184.9 427.6h1.88v2.36h-1.88zM186.8 427.6h1.88v2.36h-1.88zM190.6 427.6h1.88v2.36h-1.88zM61.0 425.3h1.88v2.36h-1.88zM62.9 425.3h1.88v2.36h-1.88zM64.7 425.3h1.88v2.36h-1.88zM77.9 425.3h1.88v2.36h-1.88zM96.7 425.3h1.88v2.36h-1.88zM153.0 425.3h1.88v2.36h-1.88zM168.0 425.3h1.88v2.36h-1.88zM175.5 425.3h1.88v2.36h-1.88zM184.9 425.3h1.88v2.36h-1.88zM186.8 425.3h1.88v2.36h-1.88zM68.5 422.9h1.88v2.36h-1.88zM153.0 422.9h1.88v2.36h-1.88zM158.6 422.9h1.88v2.36h-1.88zM162.4 422.9h1.88v2.36h-1.88zM179.3 422.9h1.88v2.36h-1.88zM184.9 422.9h1.88v2.36h-1.88zM59.1 420.6h1.88v2.36h-1.88zM64.7 420.6h1.88v2.36h-1.88zM77.9 420.6h1.88v2.36h-1.88zM79.8 420.6h1.88v2.36h-1.88zM83.5 420.6h1.88v2.36h-1.88zM92.9 420.6h1.88v2.36h-1.88zM151.1 420.6h1.88v2.36h-1.88zM164.3 420.6h1.88v2.36h-1.88zM166.1 420.6h1.88v2.36h-1.88zM61.0 418.2h1.88v2.36h-1.88zM62.9 418.2h1.88v2.36h-1.88zM74.1 418.2h1.88v2.36h-1.88zM77.9 418.2h1.88v2.36h-1.88zM81.6 418.2h1.88v2.36h-1.88zM149.2 418.2h1.88v2.36h-1.88zM156.8 418.2h1.88v2.36h-1.88zM164.3 418.2h1.88v2.36h-1.88zM166.1 418.2h1.88v2.36h-1.88zM173.7 418.2h1.88v2.36h-1.88zM186.8 418.2h1.88v2.36h-1.88zM59.1 415.8h1.88v2.36h-1.88zM64.7 415.8h1.88v2.36h-1.88zM66.6 415.8h1.88v2.36h-1.88zM70.4 415.8h1.88v2.36h-1.88zM76.0 415.8h1.88v2.36h-1.88zM77.9 415.8h1.88v2.36h-1.88zM91.0 415.8h1.88v2.36h-1.88zM94.8 415.8h1.88v2.36h-1.88zM158.6 415.8h1.88v2.36h-1.88zM190.6 415.8h1.88v2.36h-1.88zM61.0 413.5h1.88v2.36h-1.88zM70.4 413.5h1.88v2.36h-1.88zM76.0 413.5h1.88v2.36h-1.88zM85.4 413.5h1.88v2.36h-1.88zM160.5 413.5h1.88v2.36h-1.88zM62.9 411.1h1.88v2.36h-1.88zM66.6 411.1h1.88v2.36h-1.88zM72.2 411.1h1.88v2.36h-1.88zM81.6 411.1h1.88v2.36h-1.88zM83.5 411.1h1.88v2.36h-1.88zM151.1 411.1h1.88v2.36h-1.88zM154.9 411.1h1.88v2.36h-1.88zM158.6 411.1h1.88v2.36h-1.88zM160.5 411.1h1.88v2.36h-1.88zM171.8 411.1h1.88v2.36h-1.88zM179.3 411.1h1.88v2.36h-1.88zM59.1 408.8h1.88v2.36h-1.88zM66.6 408.8h1.88v2.36h-1.88zM70.4 408.8h1.88v2.36h-1.88zM74.1 408.8h1.88v2.36h-1.88zM76.0 408.8h1.88v2.36h-1.88zM79.8 408.8h1.88v2.36h-1.88zM151.1 408.8h1.88v2.36h-1.88zM158.6 408.8h1.88v2.36h-1.88zM160.5 408.8h1.88v2.36h-1.88zM162.4 408.8h1.88v2.36h-1.88zM164.3 408.8h1.88v2.36h-1.88zM62.9 406.4h1.88v2.36h-1.88zM89.2 406.4h1.88v2.36h-1.88zM91.0 406.4h1.88v2.36h-1.88zM168.0 406.4h1.88v2.36h-1.88zM169.9 406.4h1.88v2.36h-1.88zM175.5 406.4h1.88v2.36h-1.88zM179.3 406.4h1.88v2.36h-1.88zM188.7 406.4h1.88v2.36h-1.88zM77.9 404.0h1.88v2.36h-1.88zM79.8 404.0h1.88v2.36h-1.88zM85.4 404.0h1.88v2.36h-1.88zM153.0 404.0h1.88v2.36h-1.88zM160.5 404.0h1.88v2.36h-1.88zM166.1 404.0h1.88v2.36h-1.88zM169.9 404.0h1.88v2.36h-1.88zM61.0 401.7h1.88v2.36h-1.88zM76.0 401.7h1.88v2.36h-1.88zM79.8 401.7h1.88v2.36h-1.88zM83.5 401.7h1.88v2.36h-1.88zM92.9 401.7h1.88v2.36h-1.88zM154.9 401.7h1.88v2.36h-1.88zM181.2 401.7h1.88v2.36h-1.88zM184.9 401.7h1.88v2.36h-1.88zM186.8 401.7h1.88v2.36h-1.88zM188.7 401.7h1.88v2.36h-1.88zM190.6 401.7h1.88v2.36h-1.88zM66.6 399.3h1.88v2.36h-1.88zM70.4 399.3h1.88v2.36h-1.88zM72.2 399.3h1.88v2.36h-1.88zM87.3 399.3h1.88v2.36h-1.88zM151.1 399.3h1.88v2.36h-1.88zM184.9 399.3h1.88v2.36h-1.88zM186.8 399.3h1.88v2.36h-1.88zM188.7 399.3h1.88v2.36h-1.88zM72.2 397.0h1.88v2.36h-1.88zM77.9 397.0h1.88v2.36h-1.88zM85.4 397.0h1.88v2.36h-1.88zM154.9 397.0h1.88v2.36h-1.88zM156.8 397.0h1.88v2.36h-1.88zM177.4 397.0h1.88v2.36h-1.88zM183.1 397.0h1.88v2.36h-1.88zM68.5 394.6h1.88v2.36h-1.88zM72.2 394.6h1.88v2.36h-1.88zM79.8 394.6h1.88v2.36h-1.88zM85.4 394.6h1.88v2.36h-1.88zM89.2 394.6h1.88v2.36h-1.88zM175.5 394.6h1.88v2.36h-1.88zM59.1 392.2h1.88v2.36h-1.88zM62.9 392.2h1.88v2.36h-1.88zM76.0 392.2h1.88v2.36h-1.88zM68.5 389.9h1.88v2.36h-1.88zM72.2 389.9h1.88v2.36h-1.88zM74.1 389.9h1.88v2.36h-1.88zM83.5 389.9h1.88v2.36h-1.88zM154.9 389.9h1.88v2.36h-1.88zM171.8 389.9h1.88v2.36h-1.88zM184.9 389.9h1.88v2.36h-1.88zM76.0 387.5h1.88v2.36h-1.88zM77.9 387.5h1.88v2.36h-1.88zM81.6 387.5h1.88v2.36h-1.88zM83.5 387.5h1.88v2.36h-1.88zM162.4 387.5h1.88v2.36h-1.88zM186.8 387.5h1.88v2.36h-1.88zM66.6 385.2h1.88v2.36h-1.88zM94.8 385.2h1.88v2.36h-1.88zM160.5 385.2h1.88v2.36h-1.88zM72.2 382.8h1.88v2.36h-1.88zM81.6 382.8h1.88v2.36h-1.88zM83.5 382.8h1.88v2.36h-1.88zM85.4 382.8h1.88v2.36h-1.88zM154.9 382.8h1.88v2.36h-1.88zM177.4 382.8h1.88v2.36h-1.88zM181.2 382.8h1.88v2.36h-1.88zM77.9 380.4h1.88v2.36h-1.88zM169.9 380.4h1.88v2.36h-1.88zM179.3 380.4h1.88v2.36h-1.88zM186.8 380.4h1.88v2.36h-1.88zM61.0 378.1h1.88v2.36h-1.88zM62.9 378.1h1.88v2.36h-1.88zM81.6 378.1h1.88v2.36h-1.88zM87.3 378.1h1.88v2.36h-1.88zM89.2 378.1h1.88v2.36h-1.88zM92.9 378.1h1.88v2.36h-1.88zM181.2 378.1h1.88v2.36h-1.88zM68.5 375.7h1.88v2.36h-1.88zM70.4 375.7h1.88v2.36h-1.88zM74.1 375.7h1.88v2.36h-1.88zM79.8 375.7h1.88v2.36h-1.88zM62.9 373.4h1.88v2.36h-1.88zM70.4 373.4h1.88v2.36h-1.88zM89.2 373.4h1.88v2.36h-1.88zM64.7 371.0h1.88v2.36h-1.88zM68.5 371.0h1.88v2.36h-1.88zM70.4 371.0h1.88v2.36h-1.88zM85.4 371.0h1.88v2.36h-1.88zM173.7 371.0h1.88v2.36h-1.88zM61.0 368.6h1.88v2.36h-1.88zM79.8 368.6h1.88v2.36h-1.88zM64.7 366.3h1.88v2.36h-1.88zM74.1 366.3h1.88v2.36h-1.88zM85.4 366.3h1.88v2.36h-1.88zM91.0 366.3h1.88v2.36h-1.88zM94.8 366.3h1.88v2.36h-1.88zM74.1 363.9h1.88v2.36h-1.88zM66.6 361.6h1.88v2.36h-1.88zM76.0 361.6h1.88v2.36h-1.88zM83.5 361.6h1.88v2.36h-1.88zM76.0 359.2h1.88v2.36h-1.88zM77.9 359.2h1.88v2.36h-1.88zM81.6 359.2h1.88v2.36h-1.88zM85.4 359.2h1.88v2.36h-1.88zM87.3 359.2h1.88v2.36h-1.88zM76.0 356.8h1.88v2.36h-1.88zM85.4 356.8h1.88v2.36h-1.88zM66.6 354.5h1.88v2.36h-1.88zM76.0 354.5h1.88v2.36h-1.88zM68.5 352.1h1.88v2.36h-1.88zM66.6 349.8h1.88v2.36h-1.88zM72.2 349.8h1.88v2.36h-1.88zM87.3 349.8h1.88v2.36h-1.88zM62.9 347.4h1.88v2.36h-1.88zM74.1 347.4h1.88v2.36h-1.88zM81.6 347.4h1.88v2.36h-1.88zM83.5 347.4h1.88v2.36h-1.88zM72.2 345.0h1.88v2.36h-1.88zM74.1 345.0h1.88v2.36h-1.88zM66.6 340.3h1.88v2.36h-1.88zM85.4 338.0h1.88v2.36h-1.88zM79.8 335.6h1.88v2.36h-1.88zM83.5 335.6h1.88v2.36h-1.88zM89.2 335.6h1.88v2.36h-1.88zM70.4 333.2h1.88v2.36h-1.88zM68.5 330.9h1.88v2.36h-1.88zM66.6 326.2h1.88v2.36h-1.88zM70.4 326.2h1.88v2.36h-1.88zM89.2 326.2h1.88v2.36h-1.88zM81.6 323.8h1.88v2.36h-1.88zM87.3 323.8h1.88v2.36h-1.88zM94.8 323.8h1.88v2.36h-1.88zM70.4 319.1h1.88v2.36h-1.88zM87.3 319.1h1.88v2.36h-1.88zM85.4 300.2h1.88v2.36h-1.88zM44.1 487.5h1.88v3.50h-1.88zM46.0 487.5h1.88v3.50h-1.88zM47.8 487.5h1.88v3.50h-1.88zM66.6 487.5h1.88v3.50h-1.88zM68.5 487.5h1.88v3.50h-1.88zM77.9 487.5h1.88v3.50h-1.88zM91.0 487.5h1.88v3.50h-1.88zM94.8 487.5h1.88v3.50h-1.88zM102.3 487.5h1.88v3.50h-1.88zM109.8 487.5h1.88v3.50h-1.88zM119.2 487.5h1.88v3.50h-1.88zM124.8 487.5h1.88v3.50h-1.88zM128.6 487.5h1.88v3.50h-1.88zM141.7 487.5h1.88v3.50h-1.88zM153.0 487.5h1.88v3.50h-1.88zM156.8 487.5h1.88v3.50h-1.88zM158.6 487.5h1.88v3.50h-1.88zM173.7 487.5h1.88v3.50h-1.88zM175.5 487.5h1.88v3.50h-1.88zM179.3 487.5h1.88v3.50h-1.88zM188.7 487.5h1.88v3.50h-1.88zM196.2 487.5h1.88v3.50h-1.88zM200.0 487.5h1.88v3.50h-1.88zM218.7 487.5h1.88v3.50h-1.88zM220.6 487.5h1.88v3.50h-1.88zM226.2 487.5h1.88v3.50h-1.88zM61.0 491.0h1.88v3.00h-1.88zM128.6 491.0h1.88v3.00h-1.88zM134.2 491.0h1.88v3.00h-1.88zM139.9 491.0h1.88v3.00h-1.88zM141.7 491.0h1.88v3.00h-1.88zM179.3 491.0h1.88v3.00h-1.88zM216.9 491.0h1.88v3.00h-1.88z"/>
<path fill="#0000bf" d="M42.2 487.5h1.88v3.50h-1.88zM49.7 487.5h1.88v3.50h-1.88zM61.0 487.5h1.88v3.50h-1.88zM62.9 487.5h1.88v3.50h-1.88zM72.2 487.5h1.88v3.50h-1.88zM87.3 487.5h1.88v3.50h-1.88zM98.5 487.5h1.88v3.50h-1.88zM126.7 487.5h1.88v3.50h-1.88zM139.9 487.5h1.88v3.50h-1.88zM149.2 487.5h1.88v3.50h-1.88zM151.1 487.5h1.88v3.50h-1.88zM177.4 487.5h1.88v3.50h-1.88zM181.2 487.5h1.88v3.50h-1.88zM205.6 487.5h1.88v3.50h-1.88zM228.1 487.5h1.88v3.50h-1.88zM57.2 491.0h1.88v3.00h-1.88zM62.9 491.0h1.88v3.00h-1.88zM68.5 491.0h1.88v3.00h-1.88zM70.4 491.0h1.88v3.00h-1.88zM76.0 491.0h1.88v3.00h-1.88zM115.4 491.0h1.88v3.00h-1.88zM119.2 491.0h1.88v3.00h-1.88zM169.9 491.0h1.88v3.00h-1.88zM173.7 491.0h1.88v3.00h-1.88zM209.3 491.0h1.88v3.00h-1.88zM220.6 491.0h1.88v3.00h-1.88zM228.1 491.0h1.88v3.00h-1.88z"/>
<path fill="#0000d4" d="M85.4 487.5h1.88v3.50h-1.88zM100.4 487.5h1.88v3.50h-1.88zM111.7 487.5h1.88v3.50h-1.88zM115.4 487.5h1.88v3.50h-1.88zM117.3 487.5h1.88v3.50h-1.88zM123.0 487.5h1.88v3.50h-1.88zM184.9 487.5h1.88v3.50h-1.88zM207.5 487.5h1.88v3.50h-1.88zM213.1 487.5h1.88v3.50h-1.88zM216.9 487.5h1.88v3.50h-1.88zM46.0 491.0h1.88v3.00h-1.88zM47.8 491.0h1.88v3.00h-1.88zM53.5 491.0h1.88v3.00h-1.88zM64.7 491.0h1.88v3.00h-1.88zM72.2 491.0h1.88v3.00h-1.88zM83.5 491.0h1.88v3.00h-1.88zM94.8 491.0h1.88v3.00h-1.88zM98.5 491.0h1.88v3.00h-1.88zM106.1 491.0h1.88v3.00h-1.88zM121.1 491.0h1.88v3.00h-1.88zM124.8 491.0h1.88v3.00h-1.88zM136.1 491.0h1.88v3.00h-1.88zM138.0 491.0h1.88v3.00h-1.88zM147.4 491.0h1.88v3.00h-1.88zM153.0 491.0h1.88v3.00h-1.88zM171.8 491.0h1.88v3.00h-1.88zM181.2 491.0h1.88v3.00h-1.88zM183.1 491.0h1.88v3.00h-1.88zM203.7 491.0h1.88v3.00h-1.88zM226.2 491.0h1.88v3.00h-1.88z"/>
<path fill="#0000ea" d="M107.9 487.5h1.88v3.50h-1.88zM121.1 487.5h1.88v3.50h-1.88zM183.1 487.5h1.88v3.50h-1.88zM44.1 491.0h1.88v3.00h-1.88zM49.7 491.0h1.88v3.00h-1.88zM59.1 491.0h1.88v3.00h-1.88zM74.1 491.0h1.88v3.00h-1.88zM77.9 491.0h1.88v3.00h-1.88zM104.2 491.0h1.88v3.00h-1.88zM107.9 491.0h1.88v3.00h-1.88zM123.0 491.0h1.88v3.00h-1.88zM126.7 491.0h1.88v3.00h-1.88zM132.3 491.0h1.88v3.00h-1.88zM145.5 491.0h1.88v3.00h-1.88zM158.6 491.0h1.88v3.00h-1.88zM168.0 491.0h1.88v3.00h-1.88zM184.9 491.0h1.88v3.00h-1.88zM186.8 491.0h1.88v3.00h-1.88zM188.7 491.0h1.88v3.00h-1.88zM205.6 491.0h1.88v3.00h-1.88zM207.5 491.0h1.88v3.00h-1.88zM211.2 491.0h1.88v3.00h-1.88zM218.7 491.0h1.88v3.00h-1.88zM222.5 491.0h1.88v3.00h-1.88zM224.4 491.0h1.88v3.00h-1.88z"/>
<path fill="#0000ff" d="M166.1 487.5h1.88v3.50h-1.88zM51.6 491.0h1.88v3.00h-1.88zM55.3 491.0h1.88v3.00h-1.88zM79.8 491.0h1.88v3.00h-1.88zM89.2 491.0h1.88v3.00h-1.88zM91.0 491.0h1.88v3.00h-1.88zM102.3 491.0h1.88v3.00h-1.88zM109.8 491.0h1.88v3.00h-1.88zM117.3 491.0h1.88v3.00h-1.88zM130.5 491.0h1.88v3.00h-1.88zM151.1 491.0h1.88v3.00h-1.88zM154.9 491.0h1.88v3.00h-1.88zM160.5 491.0h1.88v3.00h-1.88zM166.1 491.0h1.88v3.00h-1.88zM192.4 491.0h1.88v3.00h-1.88zM194.3 491.0h1.88v3.00h-1.88zM200.0 491.0h1.88v3.00h-1.88zM213.1 491.0h1.88v3.00h-1.88z"/>
<path fill="#0015ff" d="M66.6 491.0h1.88v3.00h-1.88zM81.6 491.0h1.88v3.00h-1.88zM92.9 491.0h1.88v3.00h-1.88zM96.7 491.0h1.88v3.00h-1.88zM100.4 491.0h1.88v3.00h-1.88zM143.6 491.0h1.88v3.00h-1.88zM156.8 491.0h1.88v3.00h-1.88zM177.4 491.0h1.88v3.00h-1.88zM190.6 491.0h1.88v3.00h-1.88z"/>
<path fill="#002aff" d="M85.4 491.0h1.88v3.00h-1.88zM111.7 491.0h1.88v3.00h-1.88zM113.6 491.0h1.88v3.00h-1.88zM162.4 491.0h1.88v3.00h-1.88zM164.3 491.0h1.88v3.00h-1.88zM198.1 491.0h1.88v3.00h-1.88zM215.0 491.0h1.88v3.00h-1.88z"/>
<path fill="#0055ff" d="M201.8 491.0h1.88v3.00h-1.88z"/>
<path fill="#00eaff" d="M42.2 494.0h1.88v2.80h-1.88zM44.1 494.0h1.88v2.80h-1.88zM47.8 494.0h1.88v2.80h-1.88zM51.6 494.0h1.88v2.80h-1.88zM68.5 494.0h1.88v2.80h-1.88zM92.9 494.0h1.88v2.80h-1.88zM94.8 494.0h1.88v2.80h-1.88zM96.7 494.0h1.88v2.80h-1.88zM98.5 494.0h1.88v2.80h-1.88zM106.1 494.0h1.88v2.80h-1.88zM107.9 494.0h1.88v2.80h-1.88zM121.1 494.0h1.88v2.80h-1.88zM123.0 494.0h1.88v2.80h-1.88zM128.6 494.0h1.88v2.80h-1.88zM132.3 494.0h1.88v2.80h-1.88zM139.9 494.0h1.88v2.80h-1.88zM149.2 494.0h1.88v2.80h-1.88zM171.8 494.0h1.88v2.80h-1.88zM177.4 494.0h1.88v2.80h-1.88zM181.2 494.0h1.88v2.80h-1.88zM192.4 494.0h1.88v2.80h-1.88zM196.2 494.0h1.88v2.80h-1.88zM205.6 494.0h1.88v2.80h-1.88zM215.0 494.0h1.88v2.80h-1.88z"/>
<path fill="#00ffff" d="M46.0 494.0h1.88v2.80h-1.88zM74.1 494.0h1.88v2.80h-1.88zM76.0 494.0h1.88v2.80h-1.88zM77.9 494.0h1.88v2.80h-1.88zM79.8 494.0h1.88v2.80h-1.88zM81.6 494.0h1.88v2.80h-1.88zM83.5 494.0h1.88v2.80h-1.88zM91.0 494.0h1.88v2.80h-1.88zM113.6 494.0h1.88v2.80h-1.88zM124.8 494.0h1.88v2.80h-1.88zM134.2 494.0h1.88v2.80h-1.88zM141.7 494.0h1.88v2.80h-1.88zM143.6 494.0h1.88v2.80h-1.88zM162.4 494.0h1.88v2.80h-1.88zM169.9 494.0h1.88v2.80h-1.88zM184.9 494.0h1.88v2.80h-1.88zM186.8 494.0h1.88v2.80h-1.88zM190.6 494.0h1.88v2.80h-1.88zM203.7 494.0h1.88v2.80h-1.88zM207.5 494.0h1.88v2.80h-1.88zM209.3 494.0h1.88v2.80h-1.88zM220.6 494.0h1.88v2.80h-1.88zM222.5 494.0h1.88v2.80h-1.88z"/>
<path fill="#15ffea" d="M49.7 494.0h1.88v2.80h-1.88zM57.2 494.0h1.88v2.80h-1.88zM59.1 494.0h1.88v2.80h-1.88zM62.9 494.0h1.88v2.80h-1.88zM87.3 494.0h1.88v2.80h-1.88zM115.4 494.0h1.88v2.80h-1.88zM126.7 494.0h1.88v2.80h-1.88zM136.1 494.0h1.88v2.80h-1.88zM156.8 494.0h1.88v2.80h-1.88zM158.6 494.0h1.88v2.80h-1.88zM166.1 494.0h1.88v2.80h-1.88zM200.0 494.0h1.88v2.80h-1.88zM218.7 494.0h1.88v2.80h-1.88zM228.1 494.0h1.88v2.80h-1.88z"/>
<path fill="#00d4ff" d="M53.5 494.0h1.88v2.80h-1.88zM55.3 494.0h1.88v2.80h-1.88zM61.0 494.0h1.88v2.80h-1.88zM70.4 494.0h1.88v2.80h-1.88zM102.3 494.0h1.88v2.80h-1.88zM109.8 494.0h1.88v2.80h-1.88zM117.3 494.0h1.88v2.80h-1.88zM138.0 494.0h1.88v2.80h-1.88zM145.5 494.0h1.88v2.80h-1.88zM147.4 494.0h1.88v2.80h-1.88zM151.1 494.0h1.88v2.80h-1.88zM153.0 494.0h1.88v2.80h-1.88zM160.5 494.0h1.88v2.80h-1.88zM173.7 494.0h1.88v2.80h-1.88zM175.5 494.0h1.88v2.80h-1.88zM188.7 494.0h1.88v2.80h-1.88zM194.3 494.0h1.88v2.80h-1.88zM201.8 494.0h1.88v2.80h-1.88zM213.1 494.0h1.88v2.80h-1.88zM216.9 494.0h1.88v2.80h-1.88z"/>
<path fill="#00bfff" d="M64.7 494.0h1.88v2.80h-1.88zM66.6 494.0h1.88v2.80h-1.88zM72.2 494.0h1.88v2.80h-1.88zM85.4 494.0h1.88v2.80h-1.88zM89.2 494.0h1.88v2.80h-1.88zM111.7 494.0h1.88v2.80h-1.88zM119.2 494.0h1.88v2.80h-1.88zM130.5 494.0h1.88v2.80h-1.88zM164.3 494.0h1.88v2.80h-1.88zM179.3 494.0h1.88v2.80h-1.88zM198.1 494.0h1.88v2.80h-1.88z"/>
<path fill="#2bffd4" d="M100.4 494.0h1.88v2.80h-1.88zM183.1 494.0h1.88v2.80h-1.88zM224.4 494.0h1.88v2.80h-1.88zM226.2 494.0h1.88v2.80h-1.88z"/>
<path fill="#55ffaa" d="M104.2 494.0h1.88v2.80h-1.88z"/>
<path fill="#00aaff" d="M154.9 494.0h1.88v2.80h-1.88z"/>
<path fill="#40ffbf" d="M168.0 494.0h1.88v2.80h-1.88zM211.2 494.0h1.88v2.80h-1.88z"/>
<path fill="#ff6a00" d="M42.2 496.8h1.88v2.50h-1.88zM79.8 496.8h1.88v2.50h-1.88zM102.3 496.8h1.88v2.50h-1.88zM124.8 496.8h1.88v2.50h-1.88zM130.5 496.8h1.88v2.50h-1.88zM139.9 496.8h1.88v2.50h-1.88zM154.9 496.8h1.88v2.50h-1.88zM166.1 496.8h1.88v2.50h-1.88zM224.4 496.8h1.88v2.50h-1.88z"/>
<path fill="#ffea00" d="M44.1 496.8h1.88v2.50h-1.88zM51.6 496.8h1.88v2.50h-1.88zM76.0 496.8h1.88v2.50h-1.88zM158.6 496.8h1.88v2.50h-1.88zM164.3 496.8h1.88v2.50h-1.88zM184.9 496.8h1.88v2.50h-1.88zM186.8 496.8h1.88v2.50h-1.88zM188.7 496.8h1.88v2.50h-1.88zM211.2 496.8h1.88v2.50h-1.88zM213.1 496.8h1.88v2.50h-1.88z"/>
<path fill="#ffd500" d="M46.0 496.8h1.88v2.50h-1.88zM55.3 496.8h1.88v2.50h-1.88zM66.6 496.8h1.88v2.50h-1.88zM77.9 496.8h1.88v2.50h-1.88zM106.1 496.8h1.88v2.50h-1.88zM123.0 496.8h1.88v2.50h-1.88zM141.7 496.8h1.88v2.50h-1.88zM175.5 496.8h1.88v2.50h-1.88z"/>
<path fill="#ffaa00" d="M47.8 496.8h1.88v2.50h-1.88zM57.2 496.8h1.88v2.50h-1.88zM64.7 496.8h1.88v2.50h-1.88zM70.4 496.8h1.88v2.50h-1.88zM72.2 496.8h1.88v2.50h-1.88zM74.1 496.8h1.88v2.50h-1.88zM83.5 496.8h1.88v2.50h-1.88zM96.7 496.8h1.88v2.50h-1.88zM111.7 496.8h1.88v2.50h-1.88zM126.7 496.8h1.88v2.50h-1.88zM138.0 496.8h1.88v2.50h-1.88zM149.2 496.8h1.88v2.50h-1.88zM156.8 496.8h1.88v2.50h-1.88zM173.7 496.8h1.88v2.50h-1.88zM194.3 496.8h1.88v2.50h-1.88zM196.2 496.8h1.88v2.50h-1.88zM200.0 496.8h1.88v2.50h-1.88zM201.8 496.8h1.88v2.50h-1.88zM205.6 496.8h1.88v2.50h-1.88zM207.5 496.8h1.88v2.50h-1.88zM215.0 496.8h1.88v2.50h-1.88zM220.6 496.8h1.88v2.50h-1.88zM228.1 496.8h1.88v2.50h-1.88z"/>
<path fill="#ff8000" d="M49.7 496.8h1.88v2.50h-1.88zM61.0 496.8h1.88v2.50h-1.88zM100.4 496.8h1.88v2.50h-1.88zM104.2 496.8h1.88v2.50h-1.88zM117.3 496.8h1.88v2.50h-1.88zM128.6 496.8h1.88v2.50h-1.88zM134.2 496.8h1.88v2.50h-1.88zM147.4 496.8h1.88v2.50h-1.88zM177.4 496.8h1.88v2.50h-1.88zM183.1 496.8h1.88v2.50h-1.88zM209.3 496.8h1.88v2.50h-1.88z"/>
<path fill="#ff4000" d="M53.5 496.8h1.88v2.50h-1.88z"/>
<path fill="#ffbf00" d="M59.1 496.8h1.88v2.50h-1.88zM68.5 496.8h1.88v2.50h-1.88zM81.6 496.8h1.88v2.50h-1.88zM85.4 496.8h1.88v2.50h-1.88zM91.0 496.8h1.88v2.50h-1.88zM98.5 496.8h1.88v2.50h-1.88zM113.6 496.8h1.88v2.50h-1.88zM115.4 496.8h1.88v2.50h-1.88zM119.2 496.8h1.88v2.50h-1.88zM132.3 496.8h1.88v2.50h-1.88zM162.4 496.8h1.88v2.50h-1.88zM190.6 496.8h1.88v2.50h-1.88zM203.7 496.8h1.88v2.50h-1.88zM216.9 496.8h1.88v2.50h-1.88zM218.7 496.8h1.88v2.50h-1.88zM226.2 496.8h1.88v2.50h-1.88z"/>
<path fill="#ffff00" d="M62.9 496.8h1.88v2.50h-1.88zM89.2 496.8h1.88v2.50h-1.88zM109.8 496.8h1.88v2.50h-1.88zM179.3 496.8h1.88v2.50h-1.88z"/>
<path fill="#ff9500" d="M87.3 496.8h1.88v2.50h-1.88zM92.9 496.8h1.88v2.50h-1.88zM94.8 496.8h1.88v2.50h-1.88zM107.9 496.8h1.88v2.50h-1.88zM121.1 496.8h1.88v2.50h-1.88zM136.1 496.8h1.88v2.50h-1.88zM145.5 496.8h1.88v2.50h-1.88zM151.1 496.8h1.88v2.50h-1.88zM153.0 496.8h1.88v2.50h-1.88zM160.5 496.8h1.88v2.50h-1.88zM168.0 496.8h1.88v2.50h-1.88zM169.9 496.8h1.88v2.50h-1.88zM171.8 496.8h1.88v2.50h-1.88zM192.4 496.8h1.88v2.50h-1.88zM222.5 496.8h1.88v2.50h-1.88z"/>
<path fill="#ff5500" d="M143.6 496.8h1.88v2.50h-1.88zM181.2 496.8h1.88v2.50h-1.88z"/>
<path fill="#eaff15" d="M198.1 496.8h1.88v2.50h-1.88z"/>
<polyline points="42.2,388.2 43.8,382.6 45.3,376.9 46.9,371.3 48.5,365.8 50.0,360.3 51.6,354.9 53.2,349.6 54.7,344.4 56.3,339.3 57.9,334.3 59.4,329.5 61.0,324.8 62.5,320.4 64.1,316.1 65.7,312.0 67.2,308.1 68.8,304.4 70.4,301.0 71.9,297.8 73.5,294.8 75.1,292.1 76.6,289.7 78.2,287.6 79.8,285.7 81.3,284.1 82.9,282.8 84.5,281.7 86.0,281.0 87.6,280.5 89.2,280.4 90.7,280.5 92.3,281.0 93.8,281.7 95.4,282.8 97.0,284.1 98.5,285.7 100.1,287.6 101.7,289.7 103.2,292.1 104.8,294.8 106.4,297.8 107.9,301.0 109.5,304.4 111.1,308.1 112.6,312.0 114.2,316.1 115.8,320.4 117.3,324.8 118.9,329.5 120.5,334.3 122.0,339.3 123.6,344.4 125.1,349.6 126.7,354.9 128.3,360.3 129.8,365.8 131.4,371.3 133.0,376.9 134.5,382.6 136.1,388.2 137.7,393.8 139.2,399.5 140.8,405.1 142.4,410.6 143.9,416.1 145.5,421.5 147.1,426.8 148.6,432.0 150.2,437.1 151.8,442.1 153.3,446.9 154.9,451.6 156.4,456.0 158.0,460.3 159.6,464.4 161.1,468.3 162.7,472.0 164.3,475.4 165.8,478.6 167.4,481.6 169.0,484.3 170.5,486.7 172.1,488.8 173.7,490.7 175.2,492.3 176.8,493.6 178.4,494.7 179.9,495.4 181.5,495.9 183.1,496.0 184.6,495.9 186.2,495.4 187.7,494.7 189.3,493.6 190.9,492.3 192.4,490.7 194.0,488.8 195.6,486.7 197.1,484.3 198.7,481.6 200.3,478.6 201.8,475.4 203.4,472.0 205.0,468.3 206.5,464.4 208.1,460.3 209.7,456.0 211.2,451.6 212.8,446.9 214.4,442.1 215.9,437.1 217.5,432.0 219.0,426.8 220.6,421.5 222.2,416.1 223.7,410.6 225.3,405.1 226.9,399.5 228.4,393.8 230.0,388.2" fill="none" stroke="#cbcbcb" stroke-width="0.95"/>
<rect x="42.2" y="277.0" width="187.80" height="223.80" fill="none" stroke="#5a5a5a" stroke-width="0.8"/>
</g>
<text class="tk" x="32.7" y="505.2" textLength="6.2" lengthAdjust="spacingAndGlyphs">0</text>
<text class="tk" x="26.5" y="458.0" textLength="12.4" lengthAdjust="spacingAndGlyphs">64</text>
<text class="tk" x="20.3" y="410.8" textLength="18.6" lengthAdjust="spacingAndGlyphs">128</text>
<text class="tk" x="20.3" y="363.6" textLength="18.6" lengthAdjust="spacingAndGlyphs">192</text>
<text class="tk" x="20.3" y="316.4" textLength="18.6" lengthAdjust="spacingAndGlyphs">256</text>
<text class="tk" x="40.9" y="513.6" textLength="6.2" lengthAdjust="spacingAndGlyphs">0</text>
<text class="tk" x="83.9" y="513.6" textLength="12.4" lengthAdjust="spacingAndGlyphs">90</text>
<text class="tk" x="127.7" y="513.6" textLength="18.6" lengthAdjust="spacingAndGlyphs">180</text>
<text class="tk" x="172.6" y="513.6" textLength="18.6" lengthAdjust="spacingAndGlyphs">270</text>
<text class="tk" x="212.4" y="513.6" textLength="18.6" lengthAdjust="spacingAndGlyphs">360</text>
<text class="lb" style="font-size:11.6px" transform="translate(18.0,386.4) rotate(-90)" text-anchor="middle" textLength="119" lengthAdjust="spacing">Magnitude of PD (mV)</text>
<text class="lb" x="112.9" y="525.9" textLength="30.6" lengthAdjust="spacingAndGlyphs">Phase</text>
<text class="lb" x="147.4" y="525.9" textLength="11.6" lengthAdjust="spacingAndGlyphs">(<tspan dy="2.6">°</tspan><tspan dy="-2.6">)</tspan></text>
<text class="cp" x="126.2" y="541.9" text-anchor="middle">(c) Floating electrode discharge</text>
<g>
<rect x="284.0" y="276.0" width="184.00" height="225.60" fill="#828282"/>
<path d="M284.0 496.5h184.0M284.0 489.5h184.0M284.0 482.5h184.0M284.0 475.5h184.0M284.0 468.5h184.0M284.0 460.5h184.0M284.0 453.5h184.0M284.0 446.5h184.0M284.0 439.5h184.0M284.0 432.5h184.0M284.0 424.5h184.0M284.0 417.5h184.0M284.0 410.5h184.0M284.0 403.5h184.0M284.0 396.5h184.0M284.0 388.5h184.0M284.0 381.5h184.0M284.0 374.5h184.0M284.0 367.5h184.0M284.0 360.5h184.0M284.0 352.5h184.0M284.0 345.5h184.0M284.0 338.5h184.0M284.0 331.5h184.0M284.0 324.5h184.0M284.0 316.5h184.0M284.0 309.5h184.0M284.0 302.5h184.0M284.0 295.5h184.0M284.0 288.5h184.0M284.0 280.5h184.0" stroke="#939393" stroke-width="1" fill="none"/>
<path d="M284.0 496.5h1.6M284.0 489.5h1.6M284.0 482.5h1.6M284.0 475.5h1.6M284.0 468.5h1.6M284.0 460.5h1.6M284.0 453.5h1.6M284.0 446.5h1.6M284.0 439.5h1.6M284.0 432.5h1.6M284.0 424.5h1.6M284.0 417.5h1.6M284.0 410.5h1.6M284.0 403.5h1.6M284.0 396.5h1.6M284.0 388.5h1.6M284.0 381.5h1.6M284.0 374.5h1.6M284.0 367.5h1.6M284.0 360.5h1.6M284.0 352.5h1.6M284.0 345.5h1.6M284.0 338.5h1.6M284.0 331.5h1.6M284.0 324.5h1.6M284.0 316.5h1.6M284.0 309.5h1.6M284.0 302.5h1.6M284.0 295.5h1.6M284.0 288.5h1.6M284.0 280.5h1.6M284.5 501.6v-1.6M307.5 501.6v-1.6M330.5 501.6v-1.6M353.5 501.6v-1.6M376.5 501.6v-1.6M399.5 501.6v-1.6M422.5 501.6v-1.6M445.5 501.6v-1.6M468.5 501.6v-1.6" stroke="#3a3a3a" stroke-width="1" fill="none"/>
<line x1="307.50" y1="276.0" x2="307.50" y2="501.6" stroke="#909090" stroke-width="1"/>
<line x1="353.50" y1="276.0" x2="353.50" y2="501.6" stroke="#909090" stroke-width="1"/>
<line x1="399.50" y1="276.0" x2="399.50" y2="501.6" stroke="#909090" stroke-width="1"/>
<line x1="445.50" y1="276.0" x2="445.50" y2="501.6" stroke="#909090" stroke-width="1"/>
<line x1="330.50" y1="276.0" x2="330.50" y2="501.6" stroke="#747474" stroke-width="1"/>
<line x1="376.50" y1="276.0" x2="376.50" y2="501.6" stroke="#747474" stroke-width="1"/>
<line x1="422.50" y1="276.0" x2="422.50" y2="501.6" stroke="#747474" stroke-width="1"/>
<path fill="#0000aa" d="M311.6 493.3h1.84v2.36h-1.84zM289.5 491.0h1.84v2.36h-1.84zM302.4 491.0h1.84v2.36h-1.84zM313.4 491.0h1.84v2.36h-1.84zM315.3 491.0h1.84v2.36h-1.84zM320.8 491.0h1.84v2.36h-1.84zM337.4 491.0h1.84v2.36h-1.84zM388.9 491.0h1.84v2.36h-1.84zM403.6 491.0h1.84v2.36h-1.84zM407.3 491.0h1.84v2.36h-1.84zM324.5 488.6h1.84v2.36h-1.84zM383.4 488.6h1.84v2.36h-1.84zM444.1 488.6h1.84v2.36h-1.84zM445.9 488.6h1.84v2.36h-1.84zM287.7 486.2h1.84v2.36h-1.84zM287.7 483.9h1.84v2.36h-1.84zM331.8 483.9h1.84v2.36h-1.84zM302.4 481.5h1.84v2.36h-1.84zM405.4 481.5h1.84v2.36h-1.84zM319.0 476.8h1.84v2.36h-1.84zM285.8 474.4h1.84v2.36h-1.84zM287.7 474.4h1.84v2.36h-1.84zM416.5 474.4h1.84v2.36h-1.84zM438.6 474.4h1.84v2.36h-1.84zM377.8 472.1h1.84v2.36h-1.84zM302.4 469.7h1.84v2.36h-1.84zM324.5 467.4h1.84v2.36h-1.84zM348.4 465.0h1.84v2.36h-1.84zM379.7 462.6h1.84v2.36h-1.84zM284.0 460.3h1.84v2.36h-1.84zM409.1 455.6h1.84v2.36h-1.84zM420.2 453.2h1.84v2.36h-1.84zM442.2 453.2h1.84v2.36h-1.84zM328.2 450.8h1.84v2.36h-1.84zM460.6 448.5h1.84v2.36h-1.84zM458.8 446.1h1.84v2.36h-1.84zM330.0 443.8h1.84v2.36h-1.84zM445.9 441.4h1.84v2.36h-1.84zM405.4 432.0h1.84v2.36h-1.84zM451.4 429.6h1.84v2.36h-1.84zM399.9 427.2h1.84v2.36h-1.84zM451.4 420.2h1.84v2.36h-1.84zM455.1 417.8h1.84v2.36h-1.84zM449.6 408.4h1.84v2.36h-1.84zM451.4 408.4h1.84v2.36h-1.84zM307.9 406.0h1.84v2.36h-1.84zM423.8 398.9h1.84v2.36h-1.84zM302.4 391.8h1.84v2.36h-1.84zM307.9 389.5h1.84v2.36h-1.84zM418.3 387.1h1.84v2.36h-1.84zM449.6 384.8h1.84v2.36h-1.84zM374.2 382.4h1.84v2.36h-1.84zM445.9 373.0h1.84v2.36h-1.84zM464.3 373.0h1.84v2.36h-1.84zM394.4 370.6h1.84v2.36h-1.84zM403.6 370.6h1.84v2.36h-1.84zM414.6 370.6h1.84v2.36h-1.84zM346.6 368.2h1.84v2.36h-1.84zM418.3 368.2h1.84v2.36h-1.84zM434.9 368.2h1.84v2.36h-1.84zM464.3 368.2h1.84v2.36h-1.84zM326.3 365.9h1.84v2.36h-1.84zM335.5 365.9h1.84v2.36h-1.84zM365.0 365.9h1.84v2.36h-1.84zM431.2 365.9h1.84v2.36h-1.84zM460.6 365.9h1.84v2.36h-1.84zM302.4 363.5h1.84v2.36h-1.84zM372.3 363.5h1.84v2.36h-1.84zM427.5 363.5h1.84v2.36h-1.84zM315.3 358.8h1.84v2.36h-1.84zM392.6 356.4h1.84v2.36h-1.84zM418.3 356.4h1.84v2.36h-1.84zM453.3 354.1h1.84v2.36h-1.84zM394.4 351.7h1.84v2.36h-1.84zM411.0 351.7h1.84v2.36h-1.84zM460.6 351.7h1.84v2.36h-1.84zM370.5 349.4h1.84v2.36h-1.84zM388.9 349.4h1.84v2.36h-1.84zM405.4 347.0h1.84v2.36h-1.84zM359.4 344.6h1.84v2.36h-1.84zM392.6 344.6h1.84v2.36h-1.84zM403.6 344.6h1.84v2.36h-1.84zM291.4 342.3h1.84v2.36h-1.84zM352.1 339.9h1.84v2.36h-1.84zM359.4 339.9h1.84v2.36h-1.84zM289.5 337.6h1.84v2.36h-1.84zM291.4 337.6h1.84v2.36h-1.84zM293.2 337.6h1.84v2.36h-1.84zM295.0 337.6h1.84v2.36h-1.84zM293.2 335.2h1.84v2.36h-1.84zM326.3 335.2h1.84v2.36h-1.84zM350.2 335.2h1.84v2.36h-1.84zM434.9 335.2h1.84v2.36h-1.84zM295.0 332.8h1.84v2.36h-1.84zM455.1 332.8h1.84v2.36h-1.84zM295.0 330.5h1.84v2.36h-1.84zM392.6 330.5h1.84v2.36h-1.84zM449.6 330.5h1.84v2.36h-1.84zM304.2 328.1h1.84v2.36h-1.84zM353.9 328.1h1.84v2.36h-1.84zM392.6 325.8h1.84v2.36h-1.84zM455.1 325.8h1.84v2.36h-1.84zM304.2 323.4h1.84v2.36h-1.84zM447.8 323.4h1.84v2.36h-1.84zM449.6 323.4h1.84v2.36h-1.84zM320.8 318.7h1.84v2.36h-1.84zM330.0 318.7h1.84v2.36h-1.84zM339.2 318.7h1.84v2.36h-1.84zM341.0 318.7h1.84v2.36h-1.84zM387.0 318.7h1.84v2.36h-1.84zM407.3 316.3h1.84v2.36h-1.84zM447.8 316.3h1.84v2.36h-1.84zM307.9 314.0h1.84v2.36h-1.84zM396.2 314.0h1.84v2.36h-1.84zM418.3 311.6h1.84v2.36h-1.84zM319.0 309.2h1.84v2.36h-1.84zM414.6 309.2h1.84v2.36h-1.84zM416.5 309.2h1.84v2.36h-1.84zM407.3 306.9h1.84v2.36h-1.84zM341.0 304.5h1.84v2.36h-1.84zM315.3 302.2h1.84v2.36h-1.84zM328.2 302.2h1.84v2.36h-1.84zM429.4 299.8h1.84v2.36h-1.84zM335.5 295.1h1.84v2.36h-1.84zM422.0 295.1h1.84v2.36h-1.84zM427.5 290.4h1.84v2.36h-1.84zM429.4 290.4h1.84v2.36h-1.84zM324.5 285.6h1.84v2.36h-1.84z"/>
<path fill="#0015ff" d="M309.8 488.6h1.84v2.36h-1.84zM387.0 486.2h1.84v2.36h-1.84zM379.7 481.5h1.84v2.36h-1.84zM383.4 481.5h1.84v2.36h-1.84zM335.5 479.2h1.84v2.36h-1.84zM342.9 476.8h1.84v2.36h-1.84zM420.2 474.4h1.84v2.36h-1.84zM306.1 472.1h1.84v2.36h-1.84zM411.0 472.1h1.84v2.36h-1.84zM434.9 472.1h1.84v2.36h-1.84zM390.7 469.7h1.84v2.36h-1.84zM403.6 469.7h1.84v2.36h-1.84zM440.4 467.4h1.84v2.36h-1.84zM407.3 465.0h1.84v2.36h-1.84zM429.4 465.0h1.84v2.36h-1.84zM320.8 462.6h1.84v2.36h-1.84zM348.4 460.3h1.84v2.36h-1.84zM416.5 460.3h1.84v2.36h-1.84zM359.4 457.9h1.84v2.36h-1.84zM352.1 455.6h1.84v2.36h-1.84zM451.4 448.5h1.84v2.36h-1.84zM304.2 429.6h1.84v2.36h-1.84zM300.6 427.2h1.84v2.36h-1.84zM350.2 422.5h1.84v2.36h-1.84zM405.4 422.5h1.84v2.36h-1.84zM453.3 422.5h1.84v2.36h-1.84zM313.4 417.8h1.84v2.36h-1.84zM403.6 417.8h1.84v2.36h-1.84zM324.5 413.1h1.84v2.36h-1.84zM361.3 413.1h1.84v2.36h-1.84zM353.9 406.0h1.84v2.36h-1.84zM350.2 373.0h1.84v2.36h-1.84zM359.4 373.0h1.84v2.36h-1.84zM431.2 370.6h1.84v2.36h-1.84zM451.4 368.2h1.84v2.36h-1.84zM307.9 365.9h1.84v2.36h-1.84zM309.8 365.9h1.84v2.36h-1.84zM328.2 365.9h1.84v2.36h-1.84zM409.1 365.9h1.84v2.36h-1.84zM409.1 363.5h1.84v2.36h-1.84zM423.8 363.5h1.84v2.36h-1.84zM440.4 363.5h1.84v2.36h-1.84zM455.1 363.5h1.84v2.36h-1.84zM306.1 361.2h1.84v2.36h-1.84zM317.1 361.2h1.84v2.36h-1.84zM394.4 361.2h1.84v2.36h-1.84zM445.9 361.2h1.84v2.36h-1.84zM455.1 361.2h1.84v2.36h-1.84zM398.1 358.8h1.84v2.36h-1.84zM394.4 356.4h1.84v2.36h-1.84zM429.4 356.4h1.84v2.36h-1.84zM304.2 351.7h1.84v2.36h-1.84zM412.8 351.7h1.84v2.36h-1.84zM366.8 349.4h1.84v2.36h-1.84zM418.3 349.4h1.84v2.36h-1.84zM409.1 347.0h1.84v2.36h-1.84zM416.5 347.0h1.84v2.36h-1.84zM339.2 344.6h1.84v2.36h-1.84zM342.9 344.6h1.84v2.36h-1.84zM361.3 344.6h1.84v2.36h-1.84zM352.1 342.3h1.84v2.36h-1.84zM440.4 342.3h1.84v2.36h-1.84zM453.3 342.3h1.84v2.36h-1.84zM319.0 339.9h1.84v2.36h-1.84zM326.3 339.9h1.84v2.36h-1.84zM348.4 339.9h1.84v2.36h-1.84zM296.9 337.6h1.84v2.36h-1.84zM350.2 337.6h1.84v2.36h-1.84zM392.6 337.6h1.84v2.36h-1.84zM324.5 335.2h1.84v2.36h-1.84zM344.7 335.2h1.84v2.36h-1.84zM440.4 335.2h1.84v2.36h-1.84zM445.9 335.2h1.84v2.36h-1.84zM309.8 332.8h1.84v2.36h-1.84zM330.0 332.8h1.84v2.36h-1.84zM440.4 332.8h1.84v2.36h-1.84zM449.6 332.8h1.84v2.36h-1.84zM326.3 330.5h1.84v2.36h-1.84zM442.2 328.1h1.84v2.36h-1.84zM394.4 325.8h1.84v2.36h-1.84zM440.4 325.8h1.84v2.36h-1.84zM335.5 323.4h1.84v2.36h-1.84zM392.6 323.4h1.84v2.36h-1.84zM326.3 321.0h1.84v2.36h-1.84zM425.7 321.0h1.84v2.36h-1.84zM333.7 302.2h1.84v2.36h-1.84zM330.0 299.8h1.84v2.36h-1.84zM427.5 299.8h1.84v2.36h-1.84zM328.2 295.1h1.84v2.36h-1.84zM412.1 289.8h1.84v2.36h-1.84zM424.1 291.8h1.84v2.36h-1.84zM326.6 289.8h1.84v2.36h-1.84z"/>
<path fill="#0000ea" d="M319.0 488.6h1.84v2.36h-1.84zM295.0 483.9h1.84v2.36h-1.84zM309.8 483.9h1.84v2.36h-1.84zM322.6 483.9h1.84v2.36h-1.84zM366.8 483.9h1.84v2.36h-1.84zM390.7 483.9h1.84v2.36h-1.84zM309.8 479.2h1.84v2.36h-1.84zM322.6 479.2h1.84v2.36h-1.84zM372.3 479.2h1.84v2.36h-1.84zM307.9 474.4h1.84v2.36h-1.84zM335.5 472.1h1.84v2.36h-1.84zM403.6 472.1h1.84v2.36h-1.84zM335.5 465.0h1.84v2.36h-1.84zM392.6 441.4h1.84v2.36h-1.84zM295.0 439.0h1.84v2.36h-1.84zM449.6 439.0h1.84v2.36h-1.84zM317.1 436.7h1.84v2.36h-1.84zM414.6 436.7h1.84v2.36h-1.84zM296.9 434.3h1.84v2.36h-1.84zM296.9 403.6h1.84v2.36h-1.84zM326.3 401.3h1.84v2.36h-1.84zM445.9 394.2h1.84v2.36h-1.84zM422.0 391.8h1.84v2.36h-1.84zM346.6 389.5h1.84v2.36h-1.84zM451.4 384.8h1.84v2.36h-1.84zM352.1 380.0h1.84v2.36h-1.84zM337.4 373.0h1.84v2.36h-1.84zM418.3 373.0h1.84v2.36h-1.84zM315.3 365.9h1.84v2.36h-1.84zM420.2 365.9h1.84v2.36h-1.84zM317.1 363.5h1.84v2.36h-1.84zM420.2 363.5h1.84v2.36h-1.84zM451.4 363.5h1.84v2.36h-1.84zM403.6 361.2h1.84v2.36h-1.84zM405.4 361.2h1.84v2.36h-1.84zM434.9 361.2h1.84v2.36h-1.84zM306.1 358.8h1.84v2.36h-1.84zM317.1 358.8h1.84v2.36h-1.84zM346.6 358.8h1.84v2.36h-1.84zM405.4 358.8h1.84v2.36h-1.84zM344.7 356.4h1.84v2.36h-1.84zM363.1 354.1h1.84v2.36h-1.84zM409.1 351.7h1.84v2.36h-1.84zM401.8 349.4h1.84v2.36h-1.84zM365.0 347.0h1.84v2.36h-1.84zM394.4 342.3h1.84v2.36h-1.84zM341.0 339.9h1.84v2.36h-1.84zM350.2 339.9h1.84v2.36h-1.84zM399.9 339.9h1.84v2.36h-1.84zM401.8 339.9h1.84v2.36h-1.84zM319.0 330.5h1.84v2.36h-1.84zM350.2 330.5h1.84v2.36h-1.84zM333.7 328.1h1.84v2.36h-1.84zM315.3 323.4h1.84v2.36h-1.84zM319.0 323.4h1.84v2.36h-1.84zM311.6 318.7h1.84v2.36h-1.84zM322.6 318.7h1.84v2.36h-1.84zM434.9 318.7h1.84v2.36h-1.84zM411.0 316.3h1.84v2.36h-1.84zM407.3 314.0h1.84v2.36h-1.84zM335.5 311.6h1.84v2.36h-1.84zM405.4 311.6h1.84v2.36h-1.84zM434.9 309.2h1.84v2.36h-1.84zM317.1 306.9h1.84v2.36h-1.84z"/>
<path fill="#002aff" d="M407.3 488.6h1.84v2.36h-1.84zM416.5 486.2h1.84v2.36h-1.84zM293.2 483.9h1.84v2.36h-1.84zM330.0 483.9h1.84v2.36h-1.84zM315.3 481.5h1.84v2.36h-1.84zM324.5 481.5h1.84v2.36h-1.84zM381.5 481.5h1.84v2.36h-1.84zM412.8 479.2h1.84v2.36h-1.84zM414.6 476.8h1.84v2.36h-1.84zM433.0 474.4h1.84v2.36h-1.84zM403.6 465.0h1.84v2.36h-1.84zM300.6 460.3h1.84v2.36h-1.84zM394.4 460.3h1.84v2.36h-1.84zM414.6 460.3h1.84v2.36h-1.84zM337.4 457.9h1.84v2.36h-1.84zM355.8 453.2h1.84v2.36h-1.84zM412.8 448.5h1.84v2.36h-1.84zM411.0 446.1h1.84v2.36h-1.84zM451.4 436.7h1.84v2.36h-1.84zM304.2 434.3h1.84v2.36h-1.84zM352.1 429.6h1.84v2.36h-1.84zM427.5 429.6h1.84v2.36h-1.84zM398.1 427.2h1.84v2.36h-1.84zM412.8 424.9h1.84v2.36h-1.84zM436.7 424.9h1.84v2.36h-1.84zM451.4 424.9h1.84v2.36h-1.84zM311.6 422.5h1.84v2.36h-1.84zM429.4 415.4h1.84v2.36h-1.84zM344.7 408.4h1.84v2.36h-1.84zM392.6 408.4h1.84v2.36h-1.84zM401.8 408.4h1.84v2.36h-1.84zM309.8 406.0h1.84v2.36h-1.84zM328.2 403.6h1.84v2.36h-1.84zM313.4 396.6h1.84v2.36h-1.84zM447.8 396.6h1.84v2.36h-1.84zM449.6 380.0h1.84v2.36h-1.84zM342.9 375.3h1.84v2.36h-1.84zM339.2 373.0h1.84v2.36h-1.84zM438.6 370.6h1.84v2.36h-1.84zM366.8 368.2h1.84v2.36h-1.84zM412.8 368.2h1.84v2.36h-1.84zM429.4 365.9h1.84v2.36h-1.84zM330.0 363.5h1.84v2.36h-1.84zM433.0 363.5h1.84v2.36h-1.84zM324.5 361.2h1.84v2.36h-1.84zM326.3 361.2h1.84v2.36h-1.84zM396.2 361.2h1.84v2.36h-1.84zM366.8 356.4h1.84v2.36h-1.84zM361.3 351.7h1.84v2.36h-1.84zM455.1 351.7h1.84v2.36h-1.84zM458.8 351.7h1.84v2.36h-1.84zM355.8 349.4h1.84v2.36h-1.84zM396.2 349.4h1.84v2.36h-1.84zM403.6 349.4h1.84v2.36h-1.84zM416.5 349.4h1.84v2.36h-1.84zM453.3 349.4h1.84v2.36h-1.84zM352.1 347.0h1.84v2.36h-1.84zM353.9 347.0h1.84v2.36h-1.84zM390.7 347.0h1.84v2.36h-1.84zM407.3 344.6h1.84v2.36h-1.84zM409.1 344.6h1.84v2.36h-1.84zM445.9 342.3h1.84v2.36h-1.84zM335.5 339.9h1.84v2.36h-1.84zM447.8 339.9h1.84v2.36h-1.84zM328.2 337.6h1.84v2.36h-1.84zM339.2 337.6h1.84v2.36h-1.84zM342.9 337.6h1.84v2.36h-1.84zM352.1 335.2h1.84v2.36h-1.84zM307.9 332.8h1.84v2.36h-1.84zM324.5 332.8h1.84v2.36h-1.84zM342.9 332.8h1.84v2.36h-1.84zM298.7 330.5h1.84v2.36h-1.84zM311.6 330.5h1.84v2.36h-1.84zM337.4 330.5h1.84v2.36h-1.84zM440.4 330.5h1.84v2.36h-1.84zM444.1 328.1h1.84v2.36h-1.84zM322.6 323.4h1.84v2.36h-1.84zM339.2 323.4h1.84v2.36h-1.84zM342.9 323.4h1.84v2.36h-1.84zM438.6 323.4h1.84v2.36h-1.84zM307.9 318.7h1.84v2.36h-1.84zM394.4 318.7h1.84v2.36h-1.84zM414.6 318.7h1.84v2.36h-1.84zM320.8 316.3h1.84v2.36h-1.84zM326.3 316.3h1.84v2.36h-1.84zM331.8 316.3h1.84v2.36h-1.84zM335.5 316.3h1.84v2.36h-1.84zM315.3 314.0h1.84v2.36h-1.84zM342.9 314.0h1.84v2.36h-1.84zM398.1 314.0h1.84v2.36h-1.84zM319.0 306.9h1.84v2.36h-1.84z"/>
<path fill="#0040ff" d="M411.0 488.6h1.84v2.36h-1.84zM306.1 483.9h1.84v2.36h-1.84zM409.1 483.9h1.84v2.36h-1.84zM335.5 481.5h1.84v2.36h-1.84zM429.4 479.2h1.84v2.36h-1.84zM289.5 476.8h1.84v2.36h-1.84zM333.7 474.4h1.84v2.36h-1.84zM330.0 472.1h1.84v2.36h-1.84zM387.0 457.9h1.84v2.36h-1.84zM388.9 457.9h1.84v2.36h-1.84zM394.4 455.6h1.84v2.36h-1.84zM319.0 450.8h1.84v2.36h-1.84zM409.1 441.4h1.84v2.36h-1.84zM302.4 439.0h1.84v2.36h-1.84zM313.4 439.0h1.84v2.36h-1.84zM453.3 439.0h1.84v2.36h-1.84zM453.3 436.7h1.84v2.36h-1.84zM399.9 434.3h1.84v2.36h-1.84zM405.4 434.3h1.84v2.36h-1.84zM451.4 434.3h1.84v2.36h-1.84zM447.8 429.6h1.84v2.36h-1.84zM355.8 420.2h1.84v2.36h-1.84zM449.6 417.8h1.84v2.36h-1.84zM438.6 410.7h1.84v2.36h-1.84zM449.6 410.7h1.84v2.36h-1.84zM291.4 403.6h1.84v2.36h-1.84zM422.0 396.6h1.84v2.36h-1.84zM309.8 391.8h1.84v2.36h-1.84zM359.4 387.1h1.84v2.36h-1.84zM302.4 382.4h1.84v2.36h-1.84zM355.8 380.0h1.84v2.36h-1.84zM434.9 380.0h1.84v2.36h-1.84zM298.7 375.3h1.84v2.36h-1.84zM346.6 375.3h1.84v2.36h-1.84zM355.8 373.0h1.84v2.36h-1.84zM365.0 373.0h1.84v2.36h-1.84zM433.0 373.0h1.84v2.36h-1.84zM449.6 373.0h1.84v2.36h-1.84zM331.8 370.6h1.84v2.36h-1.84zM348.4 370.6h1.84v2.36h-1.84zM409.1 370.6h1.84v2.36h-1.84zM455.1 370.6h1.84v2.36h-1.84zM335.5 368.2h1.84v2.36h-1.84zM363.1 368.2h1.84v2.36h-1.84zM458.8 368.2h1.84v2.36h-1.84zM319.0 365.9h1.84v2.36h-1.84zM366.8 365.9h1.84v2.36h-1.84zM370.5 365.9h1.84v2.36h-1.84zM396.2 365.9h1.84v2.36h-1.84zM399.9 365.9h1.84v2.36h-1.84zM451.4 365.9h1.84v2.36h-1.84zM311.6 363.5h1.84v2.36h-1.84zM344.7 363.5h1.84v2.36h-1.84zM442.2 363.5h1.84v2.36h-1.84zM296.9 361.2h1.84v2.36h-1.84zM449.6 361.2h1.84v2.36h-1.84zM368.6 358.8h1.84v2.36h-1.84zM333.7 356.4h1.84v2.36h-1.84zM420.2 356.4h1.84v2.36h-1.84zM455.1 356.4h1.84v2.36h-1.84zM416.5 354.1h1.84v2.36h-1.84zM307.9 351.7h1.84v2.36h-1.84zM418.3 351.7h1.84v2.36h-1.84zM451.4 351.7h1.84v2.36h-1.84zM348.4 349.4h1.84v2.36h-1.84zM399.9 349.4h1.84v2.36h-1.84zM420.2 349.4h1.84v2.36h-1.84zM307.9 344.6h1.84v2.36h-1.84zM341.0 342.3h1.84v2.36h-1.84zM361.3 342.3h1.84v2.36h-1.84zM451.4 342.3h1.84v2.36h-1.84zM317.1 339.9h1.84v2.36h-1.84zM317.1 337.6h1.84v2.36h-1.84zM335.5 337.6h1.84v2.36h-1.84zM355.8 337.6h1.84v2.36h-1.84zM398.1 337.6h1.84v2.36h-1.84zM442.2 337.6h1.84v2.36h-1.84zM394.4 335.2h1.84v2.36h-1.84zM306.1 330.5h1.84v2.36h-1.84zM315.3 330.5h1.84v2.36h-1.84zM342.9 328.1h1.84v2.36h-1.84zM440.4 328.1h1.84v2.36h-1.84zM311.6 325.8h1.84v2.36h-1.84zM317.1 325.8h1.84v2.36h-1.84zM436.7 325.8h1.84v2.36h-1.84zM445.9 325.8h1.84v2.36h-1.84zM333.7 323.4h1.84v2.36h-1.84zM317.1 321.0h1.84v2.36h-1.84zM342.9 321.0h1.84v2.36h-1.84zM396.2 321.0h1.84v2.36h-1.84zM309.8 318.7h1.84v2.36h-1.84zM411.0 318.7h1.84v2.36h-1.84zM436.7 316.3h1.84v2.36h-1.84zM320.8 314.0h1.84v2.36h-1.84zM326.3 311.6h1.84v2.36h-1.84zM331.8 311.6h1.84v2.36h-1.84zM416.5 311.6h1.84v2.36h-1.84zM317.1 304.5h1.84v2.36h-1.84zM330.0 302.2h1.84v2.36h-1.84zM322.6 297.4h1.84v2.36h-1.84z"/>
<path fill="#0055ff" d="M306.1 486.2h1.84v2.36h-1.84zM440.4 479.2h1.84v2.36h-1.84zM385.2 469.7h1.84v2.36h-1.84zM412.8 469.7h1.84v2.36h-1.84zM352.1 467.4h1.84v2.36h-1.84zM357.6 462.6h1.84v2.36h-1.84zM403.6 462.6h1.84v2.36h-1.84zM401.8 457.9h1.84v2.36h-1.84zM411.0 457.9h1.84v2.36h-1.84zM394.4 453.2h1.84v2.36h-1.84zM326.3 450.8h1.84v2.36h-1.84zM335.5 450.8h1.84v2.36h-1.84zM453.3 448.5h1.84v2.36h-1.84zM451.4 443.8h1.84v2.36h-1.84zM313.4 441.4h1.84v2.36h-1.84zM449.6 441.4h1.84v2.36h-1.84zM453.3 441.4h1.84v2.36h-1.84zM359.4 436.7h1.84v2.36h-1.84zM344.7 434.3h1.84v2.36h-1.84zM353.9 432.0h1.84v2.36h-1.84zM429.4 432.0h1.84v2.36h-1.84zM392.6 424.9h1.84v2.36h-1.84zM355.8 422.5h1.84v2.36h-1.84zM342.9 420.2h1.84v2.36h-1.84zM309.8 413.1h1.84v2.36h-1.84zM365.0 413.1h1.84v2.36h-1.84zM293.2 406.0h1.84v2.36h-1.84zM355.8 391.8h1.84v2.36h-1.84zM392.6 389.5h1.84v2.36h-1.84zM357.6 387.1h1.84v2.36h-1.84zM447.8 382.4h1.84v2.36h-1.84zM365.0 375.3h1.84v2.36h-1.84zM341.0 373.0h1.84v2.36h-1.84zM361.3 373.0h1.84v2.36h-1.84zM425.7 373.0h1.84v2.36h-1.84zM335.5 370.6h1.84v2.36h-1.84zM346.6 370.6h1.84v2.36h-1.84zM353.9 370.6h1.84v2.36h-1.84zM363.1 370.6h1.84v2.36h-1.84zM436.7 370.6h1.84v2.36h-1.84zM436.7 365.9h1.84v2.36h-1.84zM453.3 365.9h1.84v2.36h-1.84zM307.9 363.5h1.84v2.36h-1.84zM326.3 363.5h1.84v2.36h-1.84zM445.9 363.5h1.84v2.36h-1.84zM307.9 361.2h1.84v2.36h-1.84zM307.9 358.8h1.84v2.36h-1.84zM407.3 356.4h1.84v2.36h-1.84zM333.7 354.1h1.84v2.36h-1.84zM361.3 349.4h1.84v2.36h-1.84zM414.6 349.4h1.84v2.36h-1.84zM359.4 347.0h1.84v2.36h-1.84zM326.3 344.6h1.84v2.36h-1.84zM335.5 344.6h1.84v2.36h-1.84zM350.2 344.6h1.84v2.36h-1.84zM365.0 344.6h1.84v2.36h-1.84zM394.4 344.6h1.84v2.36h-1.84zM407.3 342.3h1.84v2.36h-1.84zM322.6 339.9h1.84v2.36h-1.84zM339.2 339.9h1.84v2.36h-1.84zM398.1 339.9h1.84v2.36h-1.84zM436.7 332.8h1.84v2.36h-1.84zM322.6 330.5h1.84v2.36h-1.84zM328.2 330.5h1.84v2.36h-1.84zM320.8 328.1h1.84v2.36h-1.84zM392.6 328.1h1.84v2.36h-1.84zM445.9 328.1h1.84v2.36h-1.84zM337.4 323.4h1.84v2.36h-1.84zM394.4 323.4h1.84v2.36h-1.84zM442.2 323.4h1.84v2.36h-1.84zM306.1 321.0h1.84v2.36h-1.84zM346.6 321.0h1.84v2.36h-1.84zM429.4 321.0h1.84v2.36h-1.84zM429.4 318.7h1.84v2.36h-1.84zM433.0 318.7h1.84v2.36h-1.84zM307.9 316.3h1.84v2.36h-1.84zM311.6 316.3h1.84v2.36h-1.84zM311.6 311.6h1.84v2.36h-1.84zM330.0 311.6h1.84v2.36h-1.84zM339.2 311.6h1.84v2.36h-1.84zM320.8 302.2h1.84v2.36h-1.84zM322.6 299.8h1.84v2.36h-1.84zM328.2 290.4h1.84v2.36h-1.84z"/>
<path fill="#00aaff" d="M315.3 486.2h1.84v2.36h-1.84zM335.5 476.8h1.84v2.36h-1.84zM447.8 446.1h1.84v2.36h-1.84zM317.1 417.8h1.84v2.36h-1.84zM449.6 413.1h1.84v2.36h-1.84zM337.4 387.1h1.84v2.36h-1.84zM293.2 375.3h1.84v2.36h-1.84zM328.2 370.6h1.84v2.36h-1.84zM330.0 370.6h1.84v2.36h-1.84zM342.9 368.2h1.84v2.36h-1.84zM344.7 368.2h1.84v2.36h-1.84zM427.5 368.2h1.84v2.36h-1.84zM412.8 365.9h1.84v2.36h-1.84zM425.7 365.9h1.84v2.36h-1.84zM328.2 363.5h1.84v2.36h-1.84zM368.6 363.5h1.84v2.36h-1.84zM370.5 363.5h1.84v2.36h-1.84zM457.0 363.5h1.84v2.36h-1.84zM352.1 361.2h1.84v2.36h-1.84zM357.6 361.2h1.84v2.36h-1.84zM337.4 358.8h1.84v2.36h-1.84zM427.5 358.8h1.84v2.36h-1.84zM401.8 356.4h1.84v2.36h-1.84zM414.6 356.4h1.84v2.36h-1.84zM445.9 356.4h1.84v2.36h-1.84zM447.8 356.4h1.84v2.36h-1.84zM457.0 356.4h1.84v2.36h-1.84zM333.7 351.7h1.84v2.36h-1.84zM401.8 351.7h1.84v2.36h-1.84zM296.9 349.4h1.84v2.36h-1.84zM313.4 347.0h1.84v2.36h-1.84zM412.8 339.9h1.84v2.36h-1.84zM335.5 335.2h1.84v2.36h-1.84zM348.4 335.2h1.84v2.36h-1.84zM442.2 332.8h1.84v2.36h-1.84zM423.8 330.5h1.84v2.36h-1.84zM306.1 328.1h1.84v2.36h-1.84zM411.0 328.1h1.84v2.36h-1.84zM342.9 325.8h1.84v2.36h-1.84zM405.4 325.8h1.84v2.36h-1.84zM444.1 325.8h1.84v2.36h-1.84zM319.0 311.6h1.84v2.36h-1.84zM330.0 309.2h1.84v2.36h-1.84zM418.3 306.9h1.84v2.36h-1.84zM322.6 304.5h1.84v2.36h-1.84z"/>
<path fill="#0000ff" d="M328.2 486.2h1.84v2.36h-1.84zM311.6 483.9h1.84v2.36h-1.84zM306.1 479.2h1.84v2.36h-1.84zM319.0 479.2h1.84v2.36h-1.84zM348.4 479.2h1.84v2.36h-1.84zM307.9 476.8h1.84v2.36h-1.84zM315.3 476.8h1.84v2.36h-1.84zM399.9 476.8h1.84v2.36h-1.84zM295.0 474.4h1.84v2.36h-1.84zM385.2 474.4h1.84v2.36h-1.84zM411.0 474.4h1.84v2.36h-1.84zM387.0 467.4h1.84v2.36h-1.84zM416.5 467.4h1.84v2.36h-1.84zM388.9 462.6h1.84v2.36h-1.84zM433.0 460.3h1.84v2.36h-1.84zM414.6 455.6h1.84v2.36h-1.84zM366.8 453.2h1.84v2.36h-1.84zM315.3 450.8h1.84v2.36h-1.84zM366.8 450.8h1.84v2.36h-1.84zM451.4 450.8h1.84v2.36h-1.84zM331.8 441.4h1.84v2.36h-1.84zM307.9 436.7h1.84v2.36h-1.84zM344.7 436.7h1.84v2.36h-1.84zM295.0 432.0h1.84v2.36h-1.84zM405.4 429.6h1.84v2.36h-1.84zM361.3 424.9h1.84v2.36h-1.84zM361.3 420.2h1.84v2.36h-1.84zM344.7 417.8h1.84v2.36h-1.84zM350.2 417.8h1.84v2.36h-1.84zM447.8 415.4h1.84v2.36h-1.84zM300.6 410.7h1.84v2.36h-1.84zM311.6 410.7h1.84v2.36h-1.84zM320.8 408.4h1.84v2.36h-1.84zM346.6 401.3h1.84v2.36h-1.84zM440.4 398.9h1.84v2.36h-1.84zM445.9 396.6h1.84v2.36h-1.84zM429.4 391.8h1.84v2.36h-1.84zM445.9 384.8h1.84v2.36h-1.84zM337.4 382.4h1.84v2.36h-1.84zM335.5 377.7h1.84v2.36h-1.84zM388.9 377.7h1.84v2.36h-1.84zM363.1 373.0h1.84v2.36h-1.84zM453.3 373.0h1.84v2.36h-1.84zM399.9 368.2h1.84v2.36h-1.84zM444.1 368.2h1.84v2.36h-1.84zM449.6 368.2h1.84v2.36h-1.84zM341.0 365.9h1.84v2.36h-1.84zM304.2 363.5h1.84v2.36h-1.84zM309.8 363.5h1.84v2.36h-1.84zM341.0 363.5h1.84v2.36h-1.84zM392.6 363.5h1.84v2.36h-1.84zM403.6 363.5h1.84v2.36h-1.84zM300.6 361.2h1.84v2.36h-1.84zM315.3 361.2h1.84v2.36h-1.84zM319.0 361.2h1.84v2.36h-1.84zM320.8 361.2h1.84v2.36h-1.84zM425.7 361.2h1.84v2.36h-1.84zM436.7 358.8h1.84v2.36h-1.84zM458.8 358.8h1.84v2.36h-1.84zM405.4 356.4h1.84v2.36h-1.84zM409.1 356.4h1.84v2.36h-1.84zM422.0 356.4h1.84v2.36h-1.84zM412.8 354.1h1.84v2.36h-1.84zM412.8 349.4h1.84v2.36h-1.84zM344.7 347.0h1.84v2.36h-1.84zM355.8 347.0h1.84v2.36h-1.84zM392.6 347.0h1.84v2.36h-1.84zM344.7 344.6h1.84v2.36h-1.84zM357.6 342.3h1.84v2.36h-1.84zM401.8 342.3h1.84v2.36h-1.84zM447.8 342.3h1.84v2.36h-1.84zM333.7 339.9h1.84v2.36h-1.84zM320.8 337.6h1.84v2.36h-1.84zM309.8 335.2h1.84v2.36h-1.84zM317.1 335.2h1.84v2.36h-1.84zM319.0 335.2h1.84v2.36h-1.84zM333.7 335.2h1.84v2.36h-1.84zM346.6 335.2h1.84v2.36h-1.84zM319.0 332.8h1.84v2.36h-1.84zM344.7 332.8h1.84v2.36h-1.84zM330.0 325.8h1.84v2.36h-1.84zM307.9 321.0h1.84v2.36h-1.84zM320.8 321.0h1.84v2.36h-1.84zM324.5 318.7h1.84v2.36h-1.84zM331.8 318.7h1.84v2.36h-1.84zM398.1 318.7h1.84v2.36h-1.84zM399.9 318.7h1.84v2.36h-1.84zM407.3 318.7h1.84v2.36h-1.84zM399.9 314.0h1.84v2.36h-1.84zM315.3 311.6h1.84v2.36h-1.84zM405.4 309.2h1.84v2.36h-1.84zM326.3 306.9h1.84v2.36h-1.84zM315.3 304.5h1.84v2.36h-1.84zM420.2 299.8h1.84v2.36h-1.84zM422.0 297.4h1.84v2.36h-1.84zM330.0 295.1h1.84v2.36h-1.84zM331.8 290.4h1.84v2.36h-1.84z"/>
<path fill="#0000d4" d="M407.3 486.2h1.84v2.36h-1.84zM319.0 483.9h1.84v2.36h-1.84zM320.8 483.9h1.84v2.36h-1.84zM359.4 481.5h1.84v2.36h-1.84zM330.0 479.2h1.84v2.36h-1.84zM328.2 476.8h1.84v2.36h-1.84zM335.5 474.4h1.84v2.36h-1.84zM337.4 472.1h1.84v2.36h-1.84zM295.0 465.0h1.84v2.36h-1.84zM346.6 457.9h1.84v2.36h-1.84zM315.3 453.2h1.84v2.36h-1.84zM333.7 450.8h1.84v2.36h-1.84zM398.1 448.5h1.84v2.36h-1.84zM322.6 439.0h1.84v2.36h-1.84zM427.5 432.0h1.84v2.36h-1.84zM455.1 429.6h1.84v2.36h-1.84zM366.8 427.2h1.84v2.36h-1.84zM407.3 424.9h1.84v2.36h-1.84zM353.9 413.1h1.84v2.36h-1.84zM363.1 413.1h1.84v2.36h-1.84zM440.4 408.4h1.84v2.36h-1.84zM451.4 403.6h1.84v2.36h-1.84zM289.5 394.2h1.84v2.36h-1.84zM449.6 394.2h1.84v2.36h-1.84zM295.0 391.8h1.84v2.36h-1.84zM330.0 387.1h1.84v2.36h-1.84zM445.9 382.4h1.84v2.36h-1.84zM409.1 377.7h1.84v2.36h-1.84zM372.3 375.3h1.84v2.36h-1.84zM339.2 365.9h1.84v2.36h-1.84zM429.4 363.5h1.84v2.36h-1.84zM322.6 361.2h1.84v2.36h-1.84zM407.3 358.8h1.84v2.36h-1.84zM363.1 356.4h1.84v2.36h-1.84zM353.9 349.4h1.84v2.36h-1.84zM352.1 344.6h1.84v2.36h-1.84zM348.4 342.3h1.84v2.36h-1.84zM390.7 342.3h1.84v2.36h-1.84zM320.8 339.9h1.84v2.36h-1.84zM451.4 339.9h1.84v2.36h-1.84zM353.9 337.6h1.84v2.36h-1.84zM339.2 335.2h1.84v2.36h-1.84zM390.7 335.2h1.84v2.36h-1.84zM442.2 335.2h1.84v2.36h-1.84zM296.9 332.8h1.84v2.36h-1.84zM313.4 332.8h1.84v2.36h-1.84zM317.1 332.8h1.84v2.36h-1.84zM333.7 332.8h1.84v2.36h-1.84zM355.8 332.8h1.84v2.36h-1.84zM353.9 330.5h1.84v2.36h-1.84zM344.7 328.1h1.84v2.36h-1.84zM320.8 325.8h1.84v2.36h-1.84zM307.9 323.4h1.84v2.36h-1.84zM335.5 321.0h1.84v2.36h-1.84zM317.1 314.0h1.84v2.36h-1.84zM337.4 314.0h1.84v2.36h-1.84zM337.4 309.2h1.84v2.36h-1.84zM328.2 304.5h1.84v2.36h-1.84zM328.2 297.4h1.84v2.36h-1.84zM319.0 292.7h1.84v2.36h-1.84z"/>
<path fill="#0000bf" d="M418.3 486.2h1.84v2.36h-1.84zM296.9 483.9h1.84v2.36h-1.84zM298.7 483.9h1.84v2.36h-1.84zM307.9 483.9h1.84v2.36h-1.84zM291.4 476.8h1.84v2.36h-1.84zM315.3 474.4h1.84v2.36h-1.84zM401.8 472.1h1.84v2.36h-1.84zM309.8 457.9h1.84v2.36h-1.84zM368.6 408.4h1.84v2.36h-1.84zM451.4 406.0h1.84v2.36h-1.84zM390.7 398.9h1.84v2.36h-1.84zM322.6 389.5h1.84v2.36h-1.84zM341.0 389.5h1.84v2.36h-1.84zM304.2 384.8h1.84v2.36h-1.84zM335.5 380.0h1.84v2.36h-1.84zM289.5 375.3h1.84v2.36h-1.84zM341.0 375.3h1.84v2.36h-1.84zM352.1 373.0h1.84v2.36h-1.84zM427.5 373.0h1.84v2.36h-1.84zM427.5 370.6h1.84v2.36h-1.84zM319.0 358.8h1.84v2.36h-1.84zM320.8 358.8h1.84v2.36h-1.84zM313.4 356.4h1.84v2.36h-1.84zM357.6 351.7h1.84v2.36h-1.84zM398.1 351.7h1.84v2.36h-1.84zM339.2 347.0h1.84v2.36h-1.84zM304.2 330.5h1.84v2.36h-1.84zM339.2 330.5h1.84v2.36h-1.84zM342.9 330.5h1.84v2.36h-1.84zM315.3 325.8h1.84v2.36h-1.84zM396.2 325.8h1.84v2.36h-1.84zM306.1 323.4h1.84v2.36h-1.84zM333.7 321.0h1.84v2.36h-1.84zM348.4 321.0h1.84v2.36h-1.84zM392.6 321.0h1.84v2.36h-1.84zM436.7 318.7h1.84v2.36h-1.84zM396.2 316.3h1.84v2.36h-1.84zM433.0 309.2h1.84v2.36h-1.84zM431.2 306.9h1.84v2.36h-1.84zM333.7 304.5h1.84v2.36h-1.84zM330.0 292.7h1.84v2.36h-1.84z"/>
<path fill="#0080ff" d="M394.4 483.9h1.84v2.36h-1.84zM320.8 481.5h1.84v2.36h-1.84zM398.1 481.5h1.84v2.36h-1.84zM361.3 479.2h1.84v2.36h-1.84zM304.2 472.1h1.84v2.36h-1.84zM324.5 472.1h1.84v2.36h-1.84zM388.9 467.4h1.84v2.36h-1.84zM344.7 465.0h1.84v2.36h-1.84zM346.6 465.0h1.84v2.36h-1.84zM368.6 460.3h1.84v2.36h-1.84zM363.1 457.9h1.84v2.36h-1.84zM298.7 455.6h1.84v2.36h-1.84zM422.0 432.0h1.84v2.36h-1.84zM366.8 429.6h1.84v2.36h-1.84zM357.6 396.6h1.84v2.36h-1.84zM342.9 389.5h1.84v2.36h-1.84zM445.9 380.0h1.84v2.36h-1.84zM445.9 377.7h1.84v2.36h-1.84zM416.5 368.2h1.84v2.36h-1.84zM431.2 368.2h1.84v2.36h-1.84zM455.1 368.2h1.84v2.36h-1.84zM324.5 365.9h1.84v2.36h-1.84zM398.1 365.9h1.84v2.36h-1.84zM365.0 363.5h1.84v2.36h-1.84zM411.0 363.5h1.84v2.36h-1.84zM431.2 363.5h1.84v2.36h-1.84zM449.6 363.5h1.84v2.36h-1.84zM398.1 361.2h1.84v2.36h-1.84zM423.8 361.2h1.84v2.36h-1.84zM436.7 361.2h1.84v2.36h-1.84zM444.1 361.2h1.84v2.36h-1.84zM304.2 358.8h1.84v2.36h-1.84zM403.6 358.8h1.84v2.36h-1.84zM418.3 358.8h1.84v2.36h-1.84zM423.8 358.8h1.84v2.36h-1.84zM306.1 356.4h1.84v2.36h-1.84zM403.6 356.4h1.84v2.36h-1.84zM411.0 356.4h1.84v2.36h-1.84zM431.2 356.4h1.84v2.36h-1.84zM302.4 354.1h1.84v2.36h-1.84zM455.1 354.1h1.84v2.36h-1.84zM344.7 351.7h1.84v2.36h-1.84zM405.4 351.7h1.84v2.36h-1.84zM407.3 349.4h1.84v2.36h-1.84zM398.1 347.0h1.84v2.36h-1.84zM306.1 344.6h1.84v2.36h-1.84zM330.0 344.6h1.84v2.36h-1.84zM330.0 342.3h1.84v2.36h-1.84zM355.8 342.3h1.84v2.36h-1.84zM399.9 342.3h1.84v2.36h-1.84zM315.3 339.9h1.84v2.36h-1.84zM357.6 339.9h1.84v2.36h-1.84zM346.6 337.6h1.84v2.36h-1.84zM399.9 337.6h1.84v2.36h-1.84zM447.8 337.6h1.84v2.36h-1.84zM418.3 335.2h1.84v2.36h-1.84zM333.7 330.5h1.84v2.36h-1.84zM335.5 330.5h1.84v2.36h-1.84zM335.5 328.1h1.84v2.36h-1.84zM436.7 323.4h1.84v2.36h-1.84zM399.9 321.0h1.84v2.36h-1.84zM431.2 318.7h1.84v2.36h-1.84zM405.4 314.0h1.84v2.36h-1.84zM414.6 311.6h1.84v2.36h-1.84zM331.8 304.5h1.84v2.36h-1.84zM326.3 302.2h1.84v2.36h-1.84zM324.5 295.1h1.84v2.36h-1.84zM330.0 290.4h1.84v2.36h-1.84z"/>
<path fill="#0095ff" d="M309.8 481.5h1.84v2.36h-1.84zM412.8 481.5h1.84v2.36h-1.84zM414.6 472.1h1.84v2.36h-1.84zM319.0 465.0h1.84v2.36h-1.84zM425.7 450.8h1.84v2.36h-1.84zM451.4 439.0h1.84v2.36h-1.84zM353.9 436.7h1.84v2.36h-1.84zM359.4 427.2h1.84v2.36h-1.84zM418.3 422.5h1.84v2.36h-1.84zM317.1 420.2h1.84v2.36h-1.84zM342.9 413.1h1.84v2.36h-1.84zM363.1 408.4h1.84v2.36h-1.84zM317.1 398.9h1.84v2.36h-1.84zM445.9 398.9h1.84v2.36h-1.84zM447.8 370.6h1.84v2.36h-1.84zM330.0 368.2h1.84v2.36h-1.84zM333.7 368.2h1.84v2.36h-1.84zM423.8 368.2h1.84v2.36h-1.84zM429.4 368.2h1.84v2.36h-1.84zM342.9 365.9h1.84v2.36h-1.84zM401.8 365.9h1.84v2.36h-1.84zM411.0 365.9h1.84v2.36h-1.84zM438.6 365.9h1.84v2.36h-1.84zM407.3 363.5h1.84v2.36h-1.84zM444.1 363.5h1.84v2.36h-1.84zM348.4 361.2h1.84v2.36h-1.84zM350.2 361.2h1.84v2.36h-1.84zM368.6 361.2h1.84v2.36h-1.84zM399.9 361.2h1.84v2.36h-1.84zM440.4 361.2h1.84v2.36h-1.84zM396.2 358.8h1.84v2.36h-1.84zM416.5 358.8h1.84v2.36h-1.84zM438.6 358.8h1.84v2.36h-1.84zM423.8 356.4h1.84v2.36h-1.84zM453.3 356.4h1.84v2.36h-1.84zM359.4 354.1h1.84v2.36h-1.84zM423.8 354.1h1.84v2.36h-1.84zM434.9 354.1h1.84v2.36h-1.84zM366.8 351.7h1.84v2.36h-1.84zM422.0 351.7h1.84v2.36h-1.84zM429.4 351.7h1.84v2.36h-1.84zM453.3 351.7h1.84v2.36h-1.84zM341.0 347.0h1.84v2.36h-1.84zM420.2 347.0h1.84v2.36h-1.84zM309.8 344.6h1.84v2.36h-1.84zM353.9 344.6h1.84v2.36h-1.84zM342.9 342.3h1.84v2.36h-1.84zM346.6 342.3h1.84v2.36h-1.84zM405.4 342.3h1.84v2.36h-1.84zM398.1 335.2h1.84v2.36h-1.84zM445.9 330.5h1.84v2.36h-1.84zM422.0 328.1h1.84v2.36h-1.84zM320.8 323.4h1.84v2.36h-1.84zM322.6 321.0h1.84v2.36h-1.84zM438.6 321.0h1.84v2.36h-1.84zM433.0 316.3h1.84v2.36h-1.84zM414.6 314.0h1.84v2.36h-1.84zM411.0 311.6h1.84v2.36h-1.84zM313.4 309.2h1.84v2.36h-1.84zM429.4 304.5h1.84v2.36h-1.84zM319.0 299.8h1.84v2.36h-1.84z"/>
<path fill="#006aff" d="M330.0 481.5h1.84v2.36h-1.84zM405.4 474.4h1.84v2.36h-1.84zM326.3 472.1h1.84v2.36h-1.84zM431.2 469.7h1.84v2.36h-1.84zM311.6 467.4h1.84v2.36h-1.84zM438.6 448.5h1.84v2.36h-1.84zM324.5 441.4h1.84v2.36h-1.84zM307.9 427.2h1.84v2.36h-1.84zM357.6 422.5h1.84v2.36h-1.84zM331.8 417.8h1.84v2.36h-1.84zM322.6 415.4h1.84v2.36h-1.84zM447.8 413.1h1.84v2.36h-1.84zM322.6 394.2h1.84v2.36h-1.84zM366.8 394.2h1.84v2.36h-1.84zM353.9 373.0h1.84v2.36h-1.84zM422.0 373.0h1.84v2.36h-1.84zM429.4 373.0h1.84v2.36h-1.84zM434.9 373.0h1.84v2.36h-1.84zM344.7 370.6h1.84v2.36h-1.84zM357.6 370.6h1.84v2.36h-1.84zM423.8 370.6h1.84v2.36h-1.84zM425.7 370.6h1.84v2.36h-1.84zM434.9 370.6h1.84v2.36h-1.84zM458.8 370.6h1.84v2.36h-1.84zM449.6 365.9h1.84v2.36h-1.84zM455.1 365.9h1.84v2.36h-1.84zM457.0 365.9h1.84v2.36h-1.84zM300.6 363.5h1.84v2.36h-1.84zM324.5 363.5h1.84v2.36h-1.84zM342.9 363.5h1.84v2.36h-1.84zM414.6 363.5h1.84v2.36h-1.84zM434.9 363.5h1.84v2.36h-1.84zM313.4 358.8h1.84v2.36h-1.84zM352.1 358.8h1.84v2.36h-1.84zM431.2 358.8h1.84v2.36h-1.84zM442.2 358.8h1.84v2.36h-1.84zM315.3 356.4h1.84v2.36h-1.84zM296.9 351.7h1.84v2.36h-1.84zM320.8 351.7h1.84v2.36h-1.84zM363.1 351.7h1.84v2.36h-1.84zM396.2 351.7h1.84v2.36h-1.84zM420.2 351.7h1.84v2.36h-1.84zM425.7 351.7h1.84v2.36h-1.84zM341.0 349.4h1.84v2.36h-1.84zM326.3 342.3h1.84v2.36h-1.84zM328.2 342.3h1.84v2.36h-1.84zM353.9 342.3h1.84v2.36h-1.84zM403.6 342.3h1.84v2.36h-1.84zM295.0 339.9h1.84v2.36h-1.84zM442.2 339.9h1.84v2.36h-1.84zM313.4 337.6h1.84v2.36h-1.84zM331.8 337.6h1.84v2.36h-1.84zM394.4 337.6h1.84v2.36h-1.84zM398.1 332.8h1.84v2.36h-1.84zM331.8 330.5h1.84v2.36h-1.84zM307.9 328.1h1.84v2.36h-1.84zM407.3 328.1h1.84v2.36h-1.84zM339.2 325.8h1.84v2.36h-1.84zM346.6 325.8h1.84v2.36h-1.84zM398.1 325.8h1.84v2.36h-1.84zM438.6 325.8h1.84v2.36h-1.84zM341.0 323.4h1.84v2.36h-1.84zM396.2 323.4h1.84v2.36h-1.84zM313.4 321.0h1.84v2.36h-1.84zM319.0 318.7h1.84v2.36h-1.84zM328.2 318.7h1.84v2.36h-1.84zM315.3 316.3h1.84v2.36h-1.84zM405.4 316.3h1.84v2.36h-1.84zM414.6 316.3h1.84v2.36h-1.84zM420.2 316.3h1.84v2.36h-1.84zM434.9 316.3h1.84v2.36h-1.84zM330.0 314.0h1.84v2.36h-1.84zM433.0 314.0h1.84v2.36h-1.84zM436.7 314.0h1.84v2.36h-1.84zM320.8 311.6h1.84v2.36h-1.84zM324.5 311.6h1.84v2.36h-1.84zM315.3 309.2h1.84v2.36h-1.84zM313.4 306.9h1.84v2.36h-1.84zM331.8 306.9h1.84v2.36h-1.84zM414.6 306.9h1.84v2.36h-1.84z"/>
<path fill="#00bfff" d="M307.9 479.2h1.84v2.36h-1.84zM357.6 476.8h1.84v2.36h-1.84zM363.1 450.8h1.84v2.36h-1.84zM451.4 446.1h1.84v2.36h-1.84zM447.8 410.7h1.84v2.36h-1.84zM449.6 398.9h1.84v2.36h-1.84zM353.9 365.9h1.84v2.36h-1.84zM434.9 365.9h1.84v2.36h-1.84zM335.5 363.5h1.84v2.36h-1.84zM399.9 363.5h1.84v2.36h-1.84zM355.8 361.2h1.84v2.36h-1.84zM420.2 361.2h1.84v2.36h-1.84zM447.8 361.2h1.84v2.36h-1.84zM457.0 361.2h1.84v2.36h-1.84zM401.8 358.8h1.84v2.36h-1.84zM342.9 356.4h1.84v2.36h-1.84zM434.9 356.4h1.84v2.36h-1.84zM331.8 354.1h1.84v2.36h-1.84zM350.2 354.1h1.84v2.36h-1.84zM361.3 354.1h1.84v2.36h-1.84zM311.6 351.7h1.84v2.36h-1.84zM315.3 351.7h1.84v2.36h-1.84zM335.5 351.7h1.84v2.36h-1.84zM352.1 351.7h1.84v2.36h-1.84zM407.3 351.7h1.84v2.36h-1.84zM436.7 351.7h1.84v2.36h-1.84zM451.4 347.0h1.84v2.36h-1.84zM331.8 344.6h1.84v2.36h-1.84zM300.6 342.3h1.84v2.36h-1.84zM315.3 337.6h1.84v2.36h-1.84zM348.4 337.6h1.84v2.36h-1.84zM396.2 337.6h1.84v2.36h-1.84zM403.6 337.6h1.84v2.36h-1.84zM431.2 337.6h1.84v2.36h-1.84zM326.3 332.8h1.84v2.36h-1.84zM337.4 332.8h1.84v2.36h-1.84zM341.0 332.8h1.84v2.36h-1.84zM396.2 332.8h1.84v2.36h-1.84zM420.2 328.1h1.84v2.36h-1.84zM330.0 321.0h1.84v2.36h-1.84zM401.8 314.0h1.84v2.36h-1.84zM429.4 311.6h1.84v2.36h-1.84zM411.0 309.2h1.84v2.36h-1.84zM420.2 306.9h1.84v2.36h-1.84z"/>
<path fill="#00d4ff" d="M453.3 446.1h1.84v2.36h-1.84zM449.6 424.9h1.84v2.36h-1.84zM447.8 408.4h1.84v2.36h-1.84zM457.0 370.6h1.84v2.36h-1.84zM359.4 368.2h1.84v2.36h-1.84zM359.4 363.5h1.84v2.36h-1.84zM337.4 361.2h1.84v2.36h-1.84zM447.8 358.8h1.84v2.36h-1.84zM355.8 356.4h1.84v2.36h-1.84zM361.3 356.4h1.84v2.36h-1.84zM330.0 354.1h1.84v2.36h-1.84zM348.4 354.1h1.84v2.36h-1.84zM346.6 351.7h1.84v2.36h-1.84zM423.8 349.4h1.84v2.36h-1.84zM444.1 349.4h1.84v2.36h-1.84zM302.4 347.0h1.84v2.36h-1.84zM320.8 347.0h1.84v2.36h-1.84zM423.8 347.0h1.84v2.36h-1.84zM309.8 342.3h1.84v2.36h-1.84zM412.8 342.3h1.84v2.36h-1.84zM307.9 339.9h1.84v2.36h-1.84zM311.6 339.9h1.84v2.36h-1.84zM342.9 339.9h1.84v2.36h-1.84zM405.4 339.9h1.84v2.36h-1.84zM420.2 339.9h1.84v2.36h-1.84zM414.6 337.6h1.84v2.36h-1.84zM306.1 335.2h1.84v2.36h-1.84zM342.9 335.2h1.84v2.36h-1.84zM416.5 335.2h1.84v2.36h-1.84zM401.8 332.8h1.84v2.36h-1.84zM411.0 332.8h1.84v2.36h-1.84zM330.0 330.5h1.84v2.36h-1.84zM394.4 330.5h1.84v2.36h-1.84zM399.9 330.5h1.84v2.36h-1.84zM436.7 330.5h1.84v2.36h-1.84zM311.6 328.1h1.84v2.36h-1.84zM319.0 328.1h1.84v2.36h-1.84zM396.2 328.1h1.84v2.36h-1.84zM429.4 328.1h1.84v2.36h-1.84zM302.4 325.8h1.84v2.36h-1.84zM309.8 323.4h1.84v2.36h-1.84zM333.7 318.7h1.84v2.36h-1.84zM409.1 318.7h1.84v2.36h-1.84zM418.3 316.3h1.84v2.36h-1.84zM412.8 314.0h1.84v2.36h-1.84zM429.4 309.2h1.84v2.36h-1.84zM331.8 299.8h1.84v2.36h-1.84zM324.5 292.7h1.84v2.36h-1.84z"/>
<path fill="#00eaff" d="M361.3 410.7h1.84v2.36h-1.84zM357.6 365.9h1.84v2.36h-1.84zM353.9 363.5h1.84v2.36h-1.84zM357.6 363.5h1.84v2.36h-1.84zM445.9 358.8h1.84v2.36h-1.84zM346.6 356.4h1.84v2.36h-1.84zM348.4 356.4h1.84v2.36h-1.84zM326.3 351.7h1.84v2.36h-1.84zM457.0 351.7h1.84v2.36h-1.84zM411.0 349.4h1.84v2.36h-1.84zM412.8 347.0h1.84v2.36h-1.84zM440.4 347.0h1.84v2.36h-1.84zM302.4 344.6h1.84v2.36h-1.84zM433.0 344.6h1.84v2.36h-1.84zM447.8 344.6h1.84v2.36h-1.84zM418.3 342.3h1.84v2.36h-1.84zM429.4 342.3h1.84v2.36h-1.84zM304.2 339.9h1.84v2.36h-1.84zM431.2 339.9h1.84v2.36h-1.84zM311.6 335.2h1.84v2.36h-1.84zM302.4 332.8h1.84v2.36h-1.84zM425.7 332.8h1.84v2.36h-1.84zM403.6 330.5h1.84v2.36h-1.84zM425.7 330.5h1.84v2.36h-1.84zM313.4 325.8h1.84v2.36h-1.84zM418.3 323.4h1.84v2.36h-1.84zM326.3 318.7h1.84v2.36h-1.84zM429.4 314.0h1.84v2.36h-1.84zM425.7 309.2h1.84v2.36h-1.84zM326.3 297.4h1.84v2.36h-1.84z"/>
<path fill="#2bffd4" d="M447.8 377.7h1.84v2.36h-1.84zM341.0 356.4h1.84v2.36h-1.84zM440.4 356.4h1.84v2.36h-1.84zM322.6 351.7h1.84v2.36h-1.84zM331.8 351.7h1.84v2.36h-1.84zM315.3 344.6h1.84v2.36h-1.84zM440.4 344.6h1.84v2.36h-1.84zM304.2 342.3h1.84v2.36h-1.84zM398.1 342.3h1.84v2.36h-1.84zM425.7 342.3h1.84v2.36h-1.84zM298.7 339.9h1.84v2.36h-1.84zM302.4 339.9h1.84v2.36h-1.84zM313.4 339.9h1.84v2.36h-1.84zM433.0 339.9h1.84v2.36h-1.84zM425.7 337.6h1.84v2.36h-1.84zM412.8 335.2h1.84v2.36h-1.84zM414.6 335.2h1.84v2.36h-1.84zM405.4 330.5h1.84v2.36h-1.84zM422.0 330.5h1.84v2.36h-1.84zM429.4 330.5h1.84v2.36h-1.84zM405.4 328.1h1.84v2.36h-1.84zM425.7 325.8h1.84v2.36h-1.84zM405.4 323.4h1.84v2.36h-1.84zM422.0 323.4h1.84v2.36h-1.84zM425.7 323.4h1.84v2.36h-1.84zM423.8 321.0h1.84v2.36h-1.84zM420.2 318.7h1.84v2.36h-1.84zM320.8 306.9h1.84v2.36h-1.84zM331.8 302.2h1.84v2.36h-1.84z"/>
<path fill="#55ffaa" d="M350.2 368.2h1.84v2.36h-1.84zM355.8 365.9h1.84v2.36h-1.84zM359.4 365.9h1.84v2.36h-1.84zM341.0 361.2h1.84v2.36h-1.84zM335.5 358.8h1.84v2.36h-1.84zM357.6 358.8h1.84v2.36h-1.84zM350.2 356.4h1.84v2.36h-1.84zM352.1 356.4h1.84v2.36h-1.84zM324.5 354.1h1.84v2.36h-1.84zM326.3 354.1h1.84v2.36h-1.84zM353.9 354.1h1.84v2.36h-1.84zM307.9 349.4h1.84v2.36h-1.84zM328.2 349.4h1.84v2.36h-1.84zM425.7 349.4h1.84v2.36h-1.84zM429.4 349.4h1.84v2.36h-1.84zM449.6 349.4h1.84v2.36h-1.84zM309.8 347.0h1.84v2.36h-1.84zM311.6 347.0h1.84v2.36h-1.84zM304.2 344.6h1.84v2.36h-1.84zM442.2 344.6h1.84v2.36h-1.84zM423.8 342.3h1.84v2.36h-1.84zM427.5 342.3h1.84v2.36h-1.84zM429.4 339.9h1.84v2.36h-1.84zM298.7 337.6h1.84v2.36h-1.84zM433.0 335.2h1.84v2.36h-1.84zM420.2 332.8h1.84v2.36h-1.84zM427.5 332.8h1.84v2.36h-1.84zM407.3 330.5h1.84v2.36h-1.84zM411.0 330.5h1.84v2.36h-1.84zM401.8 328.1h1.84v2.36h-1.84zM414.6 328.1h1.84v2.36h-1.84zM423.8 328.1h1.84v2.36h-1.84zM427.5 328.1h1.84v2.36h-1.84zM423.8 323.4h1.84v2.36h-1.84zM427.5 323.4h1.84v2.36h-1.84zM418.3 321.0h1.84v2.36h-1.84zM420.2 321.0h1.84v2.36h-1.84z"/>
<path fill="#6aff95" d="M355.8 368.2h1.84v2.36h-1.84zM348.4 358.8h1.84v2.36h-1.84zM319.0 356.4h1.84v2.36h-1.84zM352.1 354.1h1.84v2.36h-1.84zM444.1 354.1h1.84v2.36h-1.84zM436.7 349.4h1.84v2.36h-1.84zM425.7 347.0h1.84v2.36h-1.84zM436.7 347.0h1.84v2.36h-1.84zM319.0 344.6h1.84v2.36h-1.84zM311.6 342.3h1.84v2.36h-1.84zM300.6 339.9h1.84v2.36h-1.84zM304.2 337.6h1.84v2.36h-1.84zM416.5 337.6h1.84v2.36h-1.84zM300.6 335.2h1.84v2.36h-1.84zM403.6 332.8h1.84v2.36h-1.84zM416.5 330.5h1.84v2.36h-1.84zM422.0 325.8h1.84v2.36h-1.84zM403.6 323.4h1.84v2.36h-1.84zM423.8 311.6h1.84v2.36h-1.84zM423.8 299.8h1.84v2.36h-1.84z"/>
<path fill="#ffff00" d="M350.2 365.9h1.84v2.36h-1.84zM342.9 358.8h1.84v2.36h-1.84zM357.6 356.4h1.84v2.36h-1.84zM444.1 356.4h1.84v2.36h-1.84zM326.3 347.0h1.84v2.36h-1.84zM331.8 347.0h1.84v2.36h-1.84zM317.1 344.6h1.84v2.36h-1.84zM306.1 342.3h1.84v2.36h-1.84zM302.4 337.6h1.84v2.36h-1.84zM412.8 337.6h1.84v2.36h-1.84zM401.8 335.2h1.84v2.36h-1.84zM403.6 328.1h1.84v2.36h-1.84z"/>
<path fill="#15ffea" d="M352.1 365.9h1.84v2.36h-1.84zM361.3 361.2h1.84v2.36h-1.84zM344.7 358.8h1.84v2.36h-1.84zM300.6 356.4h1.84v2.36h-1.84zM331.8 356.4h1.84v2.36h-1.84zM337.4 356.4h1.84v2.36h-1.84zM339.2 356.4h1.84v2.36h-1.84zM320.8 354.1h1.84v2.36h-1.84zM341.0 354.1h1.84v2.36h-1.84zM431.2 354.1h1.84v2.36h-1.84zM324.5 351.7h1.84v2.36h-1.84zM328.2 351.7h1.84v2.36h-1.84zM298.7 349.4h1.84v2.36h-1.84zM320.8 349.4h1.84v2.36h-1.84zM315.3 347.0h1.84v2.36h-1.84zM322.6 347.0h1.84v2.36h-1.84zM444.1 347.0h1.84v2.36h-1.84zM295.0 344.6h1.84v2.36h-1.84zM300.6 344.6h1.84v2.36h-1.84zM422.0 344.6h1.84v2.36h-1.84zM411.0 339.9h1.84v2.36h-1.84zM440.4 339.9h1.84v2.36h-1.84zM422.0 337.6h1.84v2.36h-1.84zM407.3 335.2h1.84v2.36h-1.84zM414.6 332.8h1.84v2.36h-1.84zM416.5 328.1h1.84v2.36h-1.84z"/>
<path fill="#40ffbf" d="M447.8 365.9h1.84v2.36h-1.84zM344.7 361.2h1.84v2.36h-1.84zM339.2 358.8h1.84v2.36h-1.84zM361.3 358.8h1.84v2.36h-1.84zM445.9 354.1h1.84v2.36h-1.84zM449.6 354.1h1.84v2.36h-1.84zM319.0 349.4h1.84v2.36h-1.84zM317.1 347.0h1.84v2.36h-1.84zM431.2 347.0h1.84v2.36h-1.84zM313.4 344.6h1.84v2.36h-1.84zM420.2 344.6h1.84v2.36h-1.84zM431.2 344.6h1.84v2.36h-1.84zM444.1 344.6h1.84v2.36h-1.84zM416.5 342.3h1.84v2.36h-1.84zM420.2 342.3h1.84v2.36h-1.84zM306.1 339.9h1.84v2.36h-1.84zM418.3 339.9h1.84v2.36h-1.84zM431.2 332.8h1.84v2.36h-1.84zM412.8 330.5h1.84v2.36h-1.84zM418.3 330.5h1.84v2.36h-1.84zM427.5 330.5h1.84v2.36h-1.84zM433.0 325.8h1.84v2.36h-1.84zM429.4 323.4h1.84v2.36h-1.84zM420.2 314.0h1.84v2.36h-1.84zM425.7 306.9h1.84v2.36h-1.84z"/>
<path fill="#d5ff2a" d="M348.4 363.5h1.84v2.36h-1.84zM300.6 354.1h1.84v2.36h-1.84zM328.2 354.1h1.84v2.36h-1.84zM317.1 351.7h1.84v2.36h-1.84zM330.0 349.4h1.84v2.36h-1.84zM306.1 347.0h1.84v2.36h-1.84zM335.5 347.0h1.84v2.36h-1.84zM422.0 342.3h1.84v2.36h-1.84zM433.0 342.3h1.84v2.36h-1.84zM411.0 337.6h1.84v2.36h-1.84zM302.4 335.2h1.84v2.36h-1.84zM420.2 335.2h1.84v2.36h-1.84zM409.1 332.8h1.84v2.36h-1.84zM399.9 325.8h1.84v2.36h-1.84zM423.8 318.7h1.84v2.36h-1.84zM423.8 304.5h1.84v2.36h-1.84z"/>
<path fill="#00ffff" d="M350.2 363.5h1.84v2.36h-1.84zM401.8 363.5h1.84v2.36h-1.84zM353.9 361.2h1.84v2.36h-1.84zM328.2 358.8h1.84v2.36h-1.84zM359.4 358.8h1.84v2.36h-1.84zM353.9 356.4h1.84v2.36h-1.84zM337.4 354.1h1.84v2.36h-1.84zM337.4 351.7h1.84v2.36h-1.84zM341.0 351.7h1.84v2.36h-1.84zM322.6 349.4h1.84v2.36h-1.84zM344.7 349.4h1.84v2.36h-1.84zM414.6 347.0h1.84v2.36h-1.84zM405.4 344.6h1.84v2.36h-1.84zM313.4 342.3h1.84v2.36h-1.84zM320.8 342.3h1.84v2.36h-1.84zM309.8 339.9h1.84v2.36h-1.84zM425.7 339.9h1.84v2.36h-1.84zM307.9 337.6h1.84v2.36h-1.84zM407.3 337.6h1.84v2.36h-1.84zM433.0 337.6h1.84v2.36h-1.84zM399.9 335.2h1.84v2.36h-1.84zM411.0 335.2h1.84v2.36h-1.84zM423.8 335.2h1.84v2.36h-1.84zM416.5 332.8h1.84v2.36h-1.84zM414.6 330.5h1.84v2.36h-1.84zM326.3 325.8h1.84v2.36h-1.84zM411.0 323.4h1.84v2.36h-1.84zM412.8 323.4h1.84v2.36h-1.84zM431.2 323.4h1.84v2.36h-1.84zM416.5 318.7h1.84v2.36h-1.84zM418.3 318.7h1.84v2.36h-1.84zM412.8 311.6h1.84v2.36h-1.84zM420.2 311.6h1.84v2.36h-1.84zM422.0 309.2h1.84v2.36h-1.84zM324.5 304.5h1.84v2.36h-1.84zM427.5 302.2h1.84v2.36h-1.84zM326.3 292.7h1.84v2.36h-1.84z"/>
<path fill="#95ff6a" d="M361.3 363.5h1.84v2.36h-1.84zM342.9 361.2h1.84v2.36h-1.84zM359.4 361.2h1.84v2.36h-1.84zM449.6 356.4h1.84v2.36h-1.84zM319.0 354.1h1.84v2.36h-1.84zM319.0 351.7h1.84v2.36h-1.84zM433.0 351.7h1.84v2.36h-1.84zM311.6 349.4h1.84v2.36h-1.84zM315.3 349.4h1.84v2.36h-1.84zM445.9 349.4h1.84v2.36h-1.84zM298.7 344.6h1.84v2.36h-1.84zM300.6 337.6h1.84v2.36h-1.84zM420.2 337.6h1.84v2.36h-1.84zM423.8 337.6h1.84v2.36h-1.84zM425.7 335.2h1.84v2.36h-1.84zM423.8 332.8h1.84v2.36h-1.84zM429.4 332.8h1.84v2.36h-1.84zM425.7 328.1h1.84v2.36h-1.84zM420.2 325.8h1.84v2.36h-1.84zM427.5 325.8h1.84v2.36h-1.84z"/>
<path fill="#80ff80" d="M346.6 361.2h1.84v2.36h-1.84zM322.6 354.1h1.84v2.36h-1.84zM440.4 354.1h1.84v2.36h-1.84zM317.1 349.4h1.84v2.36h-1.84zM331.8 349.4h1.84v2.36h-1.84zM333.7 349.4h1.84v2.36h-1.84zM328.2 347.0h1.84v2.36h-1.84zM429.4 347.0h1.84v2.36h-1.84zM433.0 347.0h1.84v2.36h-1.84zM311.6 344.6h1.84v2.36h-1.84zM434.9 344.6h1.84v2.36h-1.84zM436.7 344.6h1.84v2.36h-1.84zM307.9 342.3h1.84v2.36h-1.84zM436.7 339.9h1.84v2.36h-1.84zM422.0 335.2h1.84v2.36h-1.84zM300.6 332.8h1.84v2.36h-1.84zM434.9 332.8h1.84v2.36h-1.84zM412.8 328.1h1.84v2.36h-1.84zM414.6 325.8h1.84v2.36h-1.84zM416.5 325.8h1.84v2.36h-1.84zM418.3 325.8h1.84v2.36h-1.84zM414.6 323.4h1.84v2.36h-1.84zM420.2 323.4h1.84v2.36h-1.84zM425.7 316.3h1.84v2.36h-1.84z"/>
<path fill="#bfff40" d="M350.2 358.8h1.84v2.36h-1.84zM355.8 358.8h1.84v2.36h-1.84zM339.2 354.1h1.84v2.36h-1.84zM313.4 351.7h1.84v2.36h-1.84zM440.4 351.7h1.84v2.36h-1.84zM449.6 351.7h1.84v2.36h-1.84zM298.7 342.3h1.84v2.36h-1.84zM315.3 342.3h1.84v2.36h-1.84zM411.0 342.3h1.84v2.36h-1.84zM422.0 332.8h1.84v2.36h-1.84z"/>
<path fill="#aaff55" d="M353.9 358.8h1.84v2.36h-1.84zM330.0 356.4h1.84v2.36h-1.84zM447.8 354.1h1.84v2.36h-1.84zM438.6 351.7h1.84v2.36h-1.84zM324.5 347.0h1.84v2.36h-1.84zM302.4 342.3h1.84v2.36h-1.84zM414.6 342.3h1.84v2.36h-1.84zM422.0 339.9h1.84v2.36h-1.84zM423.8 339.9h1.84v2.36h-1.84zM409.1 335.2h1.84v2.36h-1.84zM420.2 330.5h1.84v2.36h-1.84zM411.0 325.8h1.84v2.36h-1.84zM427.5 306.9h1.84v2.36h-1.84z"/>
<path fill="#eaff15" d="M335.5 356.4h1.84v2.36h-1.84zM342.9 351.7h1.84v2.36h-1.84zM447.8 351.7h1.84v2.36h-1.84zM442.2 349.4h1.84v2.36h-1.84zM427.5 347.0h1.84v2.36h-1.84zM438.6 344.6h1.84v2.36h-1.84zM434.9 342.3h1.84v2.36h-1.84zM412.8 332.8h1.84v2.36h-1.84zM418.3 332.8h1.84v2.36h-1.84zM422.0 311.6h1.84v2.36h-1.84zM422.0 304.5h1.84v2.36h-1.84zM422.0 302.2h1.84v2.36h-1.84z"/>
<path fill="#ff5500" d="M335.5 354.1h1.84v2.36h-1.84z"/>
<path fill="#ffbf00" d="M346.6 354.1h1.84v2.36h-1.84zM436.7 342.3h1.84v2.36h-1.84zM423.8 309.2h1.84v2.36h-1.84z"/>
<path fill="#ffd500" d="M330.0 351.7h1.84v2.36h-1.84zM307.9 347.0h1.84v2.36h-1.84zM407.3 332.8h1.84v2.36h-1.84zM399.9 328.1h1.84v2.36h-1.84zM412.8 325.8h1.84v2.36h-1.84zM425.7 311.6h1.84v2.36h-1.84zM423.8 306.9h1.84v2.36h-1.84z"/>
<path fill="#ffaa00" d="M339.2 351.7h1.84v2.36h-1.84zM324.5 349.4h1.84v2.36h-1.84z"/>
<path fill="#ff9500" d="M434.9 351.7h1.84v2.36h-1.84zM444.1 351.7h1.84v2.36h-1.84zM405.4 332.8h1.84v2.36h-1.84z"/>
<path fill="#ff2a00" d="M442.2 351.7h1.84v2.36h-1.84z"/>
<path fill="#ffea00" d="M434.9 347.0h1.84v2.36h-1.84zM427.5 344.6h1.84v2.36h-1.84zM418.3 337.6h1.84v2.36h-1.84zM427.5 337.6h1.84v2.36h-1.84zM418.3 328.1h1.84v2.36h-1.84zM403.6 325.8h1.84v2.36h-1.84zM423.8 314.0h1.84v2.36h-1.84zM425.7 304.5h1.84v2.36h-1.84z"/>
<path fill="#ff8000" d="M429.4 344.6h1.84v2.36h-1.84z"/>
<polyline points="284.0,388.9 285.5,383.1 287.1,377.4 288.6,371.8 290.1,366.2 291.7,360.6 293.2,355.1 294.7,349.7 296.3,344.5 297.8,339.3 299.3,334.3 300.9,329.4 302.4,324.7 303.9,320.2 305.5,315.8 307.0,311.7 308.5,307.7 310.1,304.0 311.6,300.5 313.1,297.3 314.7,294.3 316.2,291.6 317.7,289.1 319.3,286.9 320.8,285.0 322.3,283.4 323.9,282.1 325.4,281.0 326.9,280.3 328.5,279.8 330.0,279.7 331.5,279.8 333.1,280.3 334.6,281.0 336.1,282.1 337.7,283.4 339.2,285.0 340.7,286.9 342.3,289.1 343.8,291.6 345.3,294.3 346.9,297.3 348.4,300.5 349.9,304.0 351.5,307.7 353.0,311.7 354.5,315.8 356.1,320.2 357.6,324.7 359.1,329.4 360.7,334.3 362.2,339.3 363.7,344.5 365.3,349.7 366.8,355.1 368.3,360.6 369.9,366.2 371.4,371.8 372.9,377.4 374.5,383.1 376.0,388.9 377.5,394.6 379.1,400.3 380.6,405.9 382.1,411.5 383.7,417.1 385.2,422.6 386.7,428.0 388.3,433.2 389.8,438.4 391.3,443.4 392.9,448.3 394.4,453.0 395.9,457.5 397.5,461.9 399.0,466.0 400.5,470.0 402.1,473.7 403.6,477.2 405.1,480.4 406.7,483.4 408.2,486.1 409.7,488.6 411.3,490.8 412.8,492.7 414.3,494.3 415.9,495.6 417.4,496.7 418.9,497.4 420.5,497.9 422.0,498.0 423.5,497.9 425.1,497.4 426.6,496.7 428.1,495.6 429.7,494.3 431.2,492.7 432.7,490.8 434.3,488.6 435.8,486.1 437.3,483.4 438.9,480.4 440.4,477.2 441.9,473.7 443.5,470.0 445.0,466.0 446.5,461.9 448.1,457.5 449.6,453.0 451.1,448.3 452.7,443.4 454.2,438.4 455.7,433.2 457.3,428.0 458.8,422.6 460.3,417.1 461.9,411.5 463.4,405.9 464.9,400.3 466.5,394.6 468.0,388.9" fill="none" stroke="#cbcbcb" stroke-width="0.95"/>
<rect x="284.0" y="276.0" width="184.00" height="225.60" fill="none" stroke="#5a5a5a" stroke-width="0.8"/>
</g>
<text class="tk" x="274.5" y="504.8" textLength="6.2" lengthAdjust="spacingAndGlyphs">0</text>
<text class="tk" x="268.3" y="457.6" textLength="12.4" lengthAdjust="spacingAndGlyphs">64</text>
<text class="tk" x="262.1" y="410.4" textLength="18.6" lengthAdjust="spacingAndGlyphs">128</text>
<text class="tk" x="262.1" y="363.2" textLength="18.6" lengthAdjust="spacingAndGlyphs">192</text>
<text class="tk" x="262.1" y="316.0" textLength="18.6" lengthAdjust="spacingAndGlyphs">256</text>
<text class="tk" x="282.8" y="513.5" textLength="6.2" lengthAdjust="spacingAndGlyphs">0</text>
<text class="tk" x="323.9" y="513.5" textLength="12.4" lengthAdjust="spacingAndGlyphs">90</text>
<text class="tk" x="367.4" y="513.5" textLength="18.6" lengthAdjust="spacingAndGlyphs">180</text>
<text class="tk" x="410.7" y="513.5" textLength="18.6" lengthAdjust="spacingAndGlyphs">270</text>
<text class="tk" x="449.5" y="513.5" textLength="18.6" lengthAdjust="spacingAndGlyphs">360</text>
<text class="lb" style="font-size:11.6px" transform="translate(258.5,386.4) rotate(-90)" text-anchor="middle" textLength="119" lengthAdjust="spacing">Magnitude of PD (mV)</text>
<text class="lb" x="352.7" y="525.8" textLength="30.6" lengthAdjust="spacingAndGlyphs">Phase</text>
<text class="lb" x="387.2" y="525.8" textLength="11.6" lengthAdjust="spacingAndGlyphs">(<tspan dy="2.6">°</tspan><tspan dy="-2.6">)</tspan></text>
<text class="cp" x="385.6" y="541.5" text-anchor="middle">(d) Surface discharge</text>
</svg></body></html>
